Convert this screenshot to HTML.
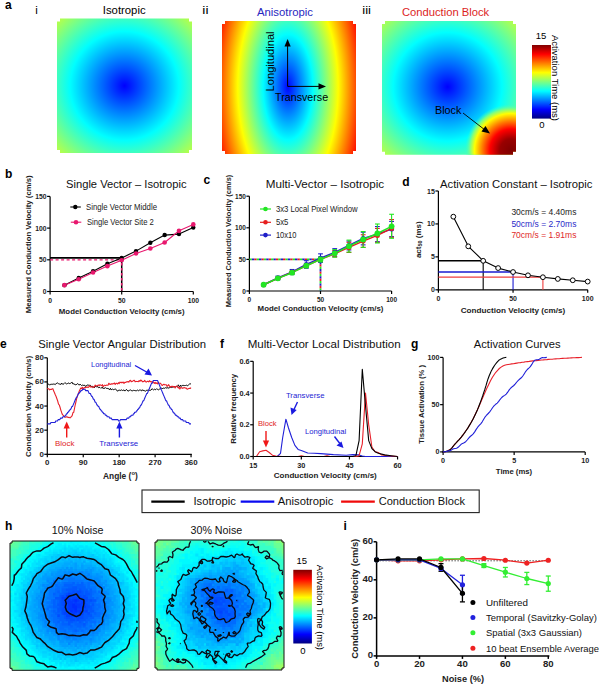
<!DOCTYPE html>
<html><head><meta charset="utf-8"><style>
html,body{margin:0;padding:0;background:#fff;overflow:hidden}
svg{display:block}
text{font-family:"Liberation Sans", sans-serif}
</style></head><body>
<svg width="599" height="685" viewBox="0 0 599 685">
<defs><radialGradient id="gi" gradientUnits="userSpaceOnUse" cx="124.5" cy="85.75" r="150"><stop offset="0.0000" stop-color="#0000ff"/><stop offset="0.3623" stop-color="#00ffff"/><stop offset="0.7246" stop-color="#ffff00"/><stop offset="1.0000" stop-color="#ff3d00"/></radialGradient><radialGradient id="gii" gradientUnits="userSpaceOnUse" cx="288" cy="87" r="101.5" gradientTransform="translate(288 87) scale(1 2.12) translate(-288 -87)"><stop offset="0.0000" stop-color="#0005ff"/><stop offset="0.2450" stop-color="#00ffff"/><stop offset="0.4950" stop-color="#ffff00"/><stop offset="0.7450" stop-color="#ff0000"/><stop offset="0.8700" stop-color="#800000"/><stop offset="1.0000" stop-color="#800000"/></radialGradient><radialGradient id="giii" gradientUnits="userSpaceOnUse" cx="447.6" cy="86.8" r="150"><stop offset="0.0000" stop-color="#0000ff"/><stop offset="0.3623" stop-color="#00ffff"/><stop offset="0.7246" stop-color="#ffff00"/><stop offset="1.0000" stop-color="#ff3d00"/></radialGradient><clipPath id="c3"><path d="M385,21 L513,21 L513,24 L516,24 L516,151.7 L513,151.7 L513,154.7 L385,154.7 L385,151.7 L382,151.7 L382,24 L385,24 Z"/></clipPath><radialGradient id="gblk" gradientUnits="userSpaceOnUse" cx="511" cy="150" r="46"><stop offset="0.0000" stop-color="#800000" stop-opacity="1"/><stop offset="0.2391" stop-color="#990000" stop-opacity="1"/><stop offset="0.4565" stop-color="#ff0000" stop-opacity="1"/><stop offset="0.6304" stop-color="#ff8000" stop-opacity="1"/><stop offset="0.7935" stop-color="#ffff00" stop-opacity="1"/><stop offset="0.8913" stop-color="#80ff80" stop-opacity="1"/><stop offset="1.0000" stop-color="#33ffcc" stop-opacity="0"/></radialGradient><linearGradient id="cbar" x1="0" y1="1" x2="0" y2="0"><stop offset="0" stop-color="#000080"/><stop offset="0.125" stop-color="#0000ff"/><stop offset="0.375" stop-color="#00ffff"/><stop offset="0.625" stop-color="#ffff00"/><stop offset="0.875" stop-color="#ff0000"/><stop offset="1" stop-color="#800000"/></linearGradient><radialGradient id="gh1" gradientUnits="userSpaceOnUse" cx="74.5" cy="605.65" r="100"><stop offset="0.0000" stop-color="#002eff"/><stop offset="0.0714" stop-color="#0040ff"/><stop offset="0.1429" stop-color="#0053ff"/><stop offset="0.2143" stop-color="#0068ff"/><stop offset="0.2857" stop-color="#007eff"/><stop offset="0.3571" stop-color="#0095ff"/><stop offset="0.4286" stop-color="#00adff"/><stop offset="0.5000" stop-color="#00c7ff"/><stop offset="0.5714" stop-color="#00e2ff"/><stop offset="0.6429" stop-color="#00feff"/><stop offset="0.7143" stop-color="#1cffe3"/><stop offset="0.7857" stop-color="#3bffc4"/><stop offset="0.8571" stop-color="#5bffa4"/><stop offset="0.9286" stop-color="#7cff83"/><stop offset="1.0000" stop-color="#9eff61"/></radialGradient><clipPath id="ch1"><path d="M12,541 L137,541 L137,543 L139,543 L139,668.3 L137,668.3 L137,670.3 L12,670.3 L12,668.3 L10,668.3 L10,543 L12,543 Z"/></clipPath><radialGradient id="gh2" gradientUnits="userSpaceOnUse" cx="219.5" cy="605" r="100"><stop offset="0.0000" stop-color="#004dff"/><stop offset="0.0714" stop-color="#005dff"/><stop offset="0.1429" stop-color="#0070ff"/><stop offset="0.2143" stop-color="#0084ff"/><stop offset="0.2857" stop-color="#0099ff"/><stop offset="0.3571" stop-color="#00b0ff"/><stop offset="0.4286" stop-color="#00c9ff"/><stop offset="0.5000" stop-color="#00e3ff"/><stop offset="0.5714" stop-color="#00ffff"/><stop offset="0.6429" stop-color="#1dffe2"/><stop offset="0.7143" stop-color="#3cffc3"/><stop offset="0.7857" stop-color="#5cffa3"/><stop offset="0.8571" stop-color="#7eff81"/><stop offset="0.9286" stop-color="#a2ff5d"/><stop offset="1.0000" stop-color="#c7ff38"/></radialGradient><clipPath id="ch2"><path d="M157,540 L282,540 L282,542 L284,542 L284,668 L282,668 L282,670 L157,670 L157,668 L155,668 L155,542 L157,542 Z"/></clipPath></defs>
<text x="5.00" y="8.50" font-size="12" text-anchor="start" fill="#000" font-weight="bold">a</text>
<text x="35.30" y="13.60" font-size="11.5" text-anchor="start" fill="#000">i</text>
<text x="102.80" y="14.20" font-size="11.5" text-anchor="start" fill="#000" textLength="42.8" lengthAdjust="spacingAndGlyphs">Isotropic</text>
<text x="202.30" y="13.60" font-size="11.5" text-anchor="start" fill="#000" textLength="6.2" lengthAdjust="spacingAndGlyphs">ii</text>
<text x="257.00" y="15.60" font-size="11.5" text-anchor="start" fill="#2828c0" textLength="56.0" lengthAdjust="spacingAndGlyphs">Anisotropic</text>
<text x="362.30" y="13.60" font-size="11.5" text-anchor="start" fill="#000" textLength="8.7" lengthAdjust="spacingAndGlyphs">iii</text>
<text x="401.90" y="15.80" font-size="11.5" text-anchor="start" fill="#dc1e1e" textLength="87.3" lengthAdjust="spacingAndGlyphs">Conduction Block</text>
<path d="M60,18.5 L189,18.5 L189,21.5 L192,21.5 L192,150 L189,150 L189,153 L60,153 L60,150 L57,150 L57,21.5 L60,21.5 Z" fill="url(#gi)"/>
<path d="M225,21 L353,21 L353,24 L356,24 L356,151 L353,151 L353,154 L225,154 L225,151 L222,151 L222,24 L225,24 Z" fill="url(#gii)"/>
<line x1="287.60" y1="86.40" x2="287.60" y2="46.00" stroke="#000" stroke-width="1"/>
<path d="M287.6,39 L284.5,46.5 L290.7,46.5 Z" fill="#000"/>
<line x1="287.60" y1="86.40" x2="319.00" y2="86.40" stroke="#000" stroke-width="1"/>
<path d="M326,86.4 L318.5,83.3 L318.5,89.5 Z" fill="#000"/>
<text x="273.60" y="91.40" font-size="10.5" text-anchor="start" fill="#000" textLength="60.0" lengthAdjust="spacingAndGlyphs" transform="rotate(-90 273.60 91.40)">Longitudinal</text>
<text x="275.10" y="101.20" font-size="10.5" text-anchor="start" fill="#000" textLength="53.0" lengthAdjust="spacingAndGlyphs">Transverse</text>
<path id="m3" d="M385,21 L513,21 L513,24 L516,24 L516,151.7 L513,151.7 L513,154.7 L385,154.7 L385,151.7 L382,151.7 L382,24 L385,24 Z" fill="url(#giii)"/>
<circle cx="511" cy="150" r="46" fill="url(#gblk)" clip-path="url(#c3)"/>
<text x="435.00" y="114.00" font-size="10.5" text-anchor="start" fill="#000" textLength="26.4" lengthAdjust="spacingAndGlyphs">Block</text>
<line x1="463.00" y1="113.00" x2="485.00" y2="130.00" stroke="#000" stroke-width="0.9"/>
<path d="M490,133.5 L481.5,131.5 L485.5,126 Z" fill="#000"/>
<rect x="532" y="45" width="19" height="73.6" fill="url(#cbar)"/>
<text x="541.00" y="38.60" font-size="9.5" text-anchor="middle" fill="#000">15</text>
<text x="542.00" y="128.20" font-size="9.5" text-anchor="middle" fill="#000">0</text>
<text x="551.50" y="35.00" font-size="9.5" text-anchor="start" fill="#000" textLength="86.0" lengthAdjust="spacingAndGlyphs" transform="rotate(90 551.50 35.00)">Activation Time (ms)</text>
<text x="5.00" y="178.40" font-size="12" text-anchor="start" fill="#000" font-weight="bold">b</text>
<text x="66.00" y="188.30" font-size="11.5" text-anchor="start" fill="#111" textLength="120.6" lengthAdjust="spacingAndGlyphs">Single Vector – Isotropic</text>
<line x1="50.10" y1="196.40" x2="50.10" y2="292.10" stroke="#000" stroke-width="1.2"/>
<line x1="49.50" y1="291.50" x2="193.30" y2="291.50" stroke="#000" stroke-width="1.2"/>
<line x1="50.10" y1="291.50" x2="50.10" y2="294.50" stroke="#000" stroke-width="1.2"/>
<text x="50.10" y="302.50" font-size="6.8" text-anchor="middle" fill="#222" font-weight="bold">0</text>
<line x1="121.70" y1="291.50" x2="121.70" y2="294.50" stroke="#000" stroke-width="1.2"/>
<text x="121.70" y="302.50" font-size="6.8" text-anchor="middle" fill="#222" font-weight="bold">50</text>
<line x1="193.30" y1="291.50" x2="193.30" y2="294.50" stroke="#000" stroke-width="1.2"/>
<text x="193.30" y="302.50" font-size="6.8" text-anchor="middle" fill="#222" font-weight="bold">100</text>
<line x1="47.10" y1="291.50" x2="50.10" y2="291.50" stroke="#000" stroke-width="1.2"/>
<text x="46.60" y="294.00" font-size="6.8" text-anchor="end" fill="#222" font-weight="bold">0</text>
<line x1="47.10" y1="259.80" x2="50.10" y2="259.80" stroke="#000" stroke-width="1.2"/>
<text x="46.60" y="262.30" font-size="6.8" text-anchor="end" fill="#222" font-weight="bold">50</text>
<line x1="47.10" y1="228.10" x2="50.10" y2="228.10" stroke="#000" stroke-width="1.2"/>
<text x="46.60" y="230.60" font-size="6.8" text-anchor="end" fill="#222" font-weight="bold">100</text>
<line x1="47.10" y1="196.40" x2="50.10" y2="196.40" stroke="#000" stroke-width="1.2"/>
<text x="46.60" y="198.90" font-size="6.8" text-anchor="end" fill="#222" font-weight="bold">150</text>
<text x="31.00" y="244.30" font-size="7.8" text-anchor="middle" fill="#222" font-weight="bold" textLength="138.0" lengthAdjust="spacingAndGlyphs" transform="rotate(-90 31.00 244.30)">Measured Conduction Velocity (cm/s)</text>
<text x="121.70" y="313.80" font-size="7.8" text-anchor="middle" fill="#222" font-weight="bold" textLength="125.8" lengthAdjust="spacingAndGlyphs">Model Conduction Velocity (cm/s)</text>
<line x1="50.10" y1="257.90" x2="121.70" y2="257.90" stroke="#000" stroke-width="1.6"/>
<line x1="50.10" y1="259.80" x2="121.70" y2="259.80" stroke="#e8186e" stroke-width="1.3" stroke-dasharray="3,2.5"/>
<line x1="121.70" y1="257.90" x2="121.70" y2="291.50" stroke="#000" stroke-width="1.5"/>
<line x1="121.70" y1="257.90" x2="121.70" y2="291.50" stroke="#e8186e" stroke-width="1.5" stroke-dasharray="2.5,2.5"/>
<path d="M64.4,285.2 L78.7,277.9 L93.1,271.2 L107.4,263.8 L121.7,257.9 L136.0,251.1 L150.3,242.7 L164.7,235.1 L179.0,234.1 L193.3,227.5" stroke="#000" stroke-width="1.1" fill="none" stroke-linejoin="round"/>
<path d="M64.4,285.2 L78.7,279.2 L93.1,272.5 L107.4,266.1 L121.7,260.2 L136.0,253.5 L150.3,248.5 L164.7,242.5 L179.0,230.8 L193.3,224.4" stroke="#e8186e" stroke-width="1.1" fill="none" stroke-linejoin="round"/>
<circle cx="64.42" cy="285.16" r="2.2" fill="#000" stroke="none" stroke-width="1"/>
<circle cx="78.74" cy="277.93" r="2.2" fill="#000" stroke="none" stroke-width="1"/>
<circle cx="93.06" cy="271.21" r="2.2" fill="#000" stroke="none" stroke-width="1"/>
<circle cx="107.38" cy="263.79" r="2.2" fill="#000" stroke="none" stroke-width="1"/>
<circle cx="121.70" cy="257.90" r="2.2" fill="#000" stroke="none" stroke-width="1"/>
<circle cx="136.02" cy="251.11" r="2.2" fill="#000" stroke="none" stroke-width="1"/>
<circle cx="150.34" cy="242.68" r="2.2" fill="#000" stroke="none" stroke-width="1"/>
<circle cx="164.66" cy="235.07" r="2.2" fill="#000" stroke="none" stroke-width="1"/>
<circle cx="178.98" cy="234.12" r="2.2" fill="#000" stroke="none" stroke-width="1"/>
<circle cx="193.30" cy="227.47" r="2.2" fill="#000" stroke="none" stroke-width="1"/>
<circle cx="64.42" cy="285.16" r="2.3" fill="#e8186e" stroke="none" stroke-width="1"/>
<circle cx="78.74" cy="279.20" r="2.3" fill="#e8186e" stroke="none" stroke-width="1"/>
<circle cx="93.06" cy="272.48" r="2.3" fill="#e8186e" stroke="none" stroke-width="1"/>
<circle cx="107.38" cy="266.14" r="2.3" fill="#e8186e" stroke="none" stroke-width="1"/>
<circle cx="121.70" cy="260.18" r="2.3" fill="#e8186e" stroke="none" stroke-width="1"/>
<circle cx="136.02" cy="253.46" r="2.3" fill="#e8186e" stroke="none" stroke-width="1"/>
<circle cx="150.34" cy="248.51" r="2.3" fill="#e8186e" stroke="none" stroke-width="1"/>
<circle cx="164.66" cy="242.49" r="2.3" fill="#e8186e" stroke="none" stroke-width="1"/>
<circle cx="178.98" cy="230.83" r="2.3" fill="#e8186e" stroke="none" stroke-width="1"/>
<circle cx="193.30" cy="224.42" r="2.3" fill="#e8186e" stroke="none" stroke-width="1"/>
<line x1="70.30" y1="207.00" x2="80.80" y2="207.00" stroke="#000" stroke-width="1.1"/>
<circle cx="75.30" cy="207.00" r="2.2" fill="#000" stroke="none" stroke-width="1"/>
<text x="86.00" y="210.20" font-size="8.6" text-anchor="start" fill="#222" textLength="71.0" lengthAdjust="spacingAndGlyphs">Single Vector Middle</text>
<line x1="70.80" y1="222.20" x2="81.30" y2="222.20" stroke="#e8186e" stroke-width="1.1"/>
<circle cx="76.00" cy="222.20" r="2.3" fill="#e8186e" stroke="none" stroke-width="1"/>
<text x="86.90" y="225.20" font-size="8.6" text-anchor="start" fill="#222" textLength="67.0" lengthAdjust="spacingAndGlyphs">Single Vector Site 2</text>
<text x="203.60" y="184.00" font-size="12" text-anchor="start" fill="#000" font-weight="bold">c</text>
<text x="265.80" y="188.30" font-size="11.5" text-anchor="start" fill="#111" textLength="118.4" lengthAdjust="spacingAndGlyphs">Multi-Vector – Isotropic</text>
<line x1="249.40" y1="196.30" x2="249.40" y2="291.60" stroke="#000" stroke-width="1.2"/>
<line x1="248.80" y1="291.00" x2="391.60" y2="291.00" stroke="#000" stroke-width="1.2"/>
<line x1="249.40" y1="291.00" x2="249.40" y2="294.00" stroke="#000" stroke-width="1.2"/>
<text x="249.40" y="302.00" font-size="6.5" text-anchor="middle" fill="#222" font-weight="bold">0</text>
<line x1="320.50" y1="291.00" x2="320.50" y2="294.00" stroke="#000" stroke-width="1.2"/>
<text x="320.50" y="302.00" font-size="6.5" text-anchor="middle" fill="#222" font-weight="bold">50</text>
<line x1="391.60" y1="291.00" x2="391.60" y2="294.00" stroke="#000" stroke-width="1.2"/>
<text x="391.60" y="302.00" font-size="6.5" text-anchor="middle" fill="#222" font-weight="bold">100</text>
<line x1="246.40" y1="291.00" x2="249.40" y2="291.00" stroke="#000" stroke-width="1.2"/>
<text x="245.90" y="293.50" font-size="6.5" text-anchor="end" fill="#222" font-weight="bold">0</text>
<line x1="246.40" y1="259.40" x2="249.40" y2="259.40" stroke="#000" stroke-width="1.2"/>
<text x="245.90" y="261.90" font-size="6.5" text-anchor="end" fill="#222" font-weight="bold">50</text>
<line x1="246.40" y1="227.80" x2="249.40" y2="227.80" stroke="#000" stroke-width="1.2"/>
<text x="245.90" y="230.30" font-size="6.5" text-anchor="end" fill="#222" font-weight="bold">100</text>
<line x1="246.40" y1="196.20" x2="249.40" y2="196.20" stroke="#000" stroke-width="1.2"/>
<text x="245.90" y="198.70" font-size="6.5" text-anchor="end" fill="#222" font-weight="bold">150</text>
<text x="230.50" y="241.00" font-size="7.8" text-anchor="middle" fill="#222" font-weight="bold" textLength="132.6" lengthAdjust="spacingAndGlyphs" transform="rotate(-90 230.50 241.00)">Measured Conduction Velocity (cm/s)</text>
<text x="320.50" y="311.20" font-size="7.8" text-anchor="middle" fill="#222" font-weight="bold" textLength="125.8" lengthAdjust="spacingAndGlyphs">Model Conduction Velocity (cm/s)</text>
<line x1="249.40" y1="259.40" x2="320.50" y2="259.40" stroke="#22e622" stroke-width="1.8" stroke-dasharray="2.4,4.8" stroke-dashoffset="0"/>
<line x1="320.50" y1="259.40" x2="320.50" y2="291.00" stroke="#22e622" stroke-width="1.8" stroke-dasharray="2.4,4.8" stroke-dashoffset="0"/>
<line x1="249.40" y1="259.40" x2="320.50" y2="259.40" stroke="#e61e1e" stroke-width="1.8" stroke-dasharray="2.4,4.8" stroke-dashoffset="2.4"/>
<line x1="320.50" y1="259.40" x2="320.50" y2="291.00" stroke="#e61e1e" stroke-width="1.8" stroke-dasharray="2.4,4.8" stroke-dashoffset="2.4"/>
<line x1="249.40" y1="259.40" x2="320.50" y2="259.40" stroke="#1e1ec8" stroke-width="1.8" stroke-dasharray="2.4,4.8" stroke-dashoffset="4.8"/>
<line x1="320.50" y1="259.40" x2="320.50" y2="291.00" stroke="#1e1ec8" stroke-width="1.8" stroke-dasharray="2.4,4.8" stroke-dashoffset="4.8"/>
<line x1="277.84" y1="279.94" x2="277.84" y2="276.15" stroke="#1e1ec8" stroke-width="1.1"/>
<line x1="275.44" y1="276.15" x2="280.24" y2="276.15" stroke="#1e1ec8" stroke-width="1.1"/>
<line x1="275.44" y1="279.94" x2="280.24" y2="279.94" stroke="#1e1ec8" stroke-width="1.1"/>
<line x1="292.06" y1="274.57" x2="292.06" y2="269.51" stroke="#1e1ec8" stroke-width="1.1"/>
<line x1="289.66" y1="269.51" x2="294.46" y2="269.51" stroke="#1e1ec8" stroke-width="1.1"/>
<line x1="289.66" y1="274.57" x2="294.46" y2="274.57" stroke="#1e1ec8" stroke-width="1.1"/>
<line x1="306.28" y1="268.25" x2="306.28" y2="260.66" stroke="#1e1ec8" stroke-width="1.1"/>
<line x1="303.88" y1="260.66" x2="308.68" y2="260.66" stroke="#1e1ec8" stroke-width="1.1"/>
<line x1="303.88" y1="268.25" x2="308.68" y2="268.25" stroke="#1e1ec8" stroke-width="1.1"/>
<line x1="320.50" y1="262.43" x2="320.50" y2="253.84" stroke="#1e1ec8" stroke-width="1.1"/>
<line x1="318.10" y1="253.84" x2="322.90" y2="253.84" stroke="#1e1ec8" stroke-width="1.1"/>
<line x1="318.10" y1="262.43" x2="322.90" y2="262.43" stroke="#1e1ec8" stroke-width="1.1"/>
<line x1="334.72" y1="256.24" x2="334.72" y2="248.66" stroke="#1e1ec8" stroke-width="1.1"/>
<line x1="332.32" y1="248.66" x2="337.12" y2="248.66" stroke="#1e1ec8" stroke-width="1.1"/>
<line x1="332.32" y1="256.24" x2="337.12" y2="256.24" stroke="#1e1ec8" stroke-width="1.1"/>
<line x1="348.94" y1="249.92" x2="348.94" y2="241.07" stroke="#1e1ec8" stroke-width="1.1"/>
<line x1="346.54" y1="241.07" x2="351.34" y2="241.07" stroke="#1e1ec8" stroke-width="1.1"/>
<line x1="346.54" y1="249.92" x2="351.34" y2="249.92" stroke="#1e1ec8" stroke-width="1.1"/>
<line x1="363.16" y1="244.86" x2="363.16" y2="232.22" stroke="#1e1ec8" stroke-width="1.1"/>
<line x1="360.76" y1="232.22" x2="365.56" y2="232.22" stroke="#1e1ec8" stroke-width="1.1"/>
<line x1="360.76" y1="244.86" x2="365.56" y2="244.86" stroke="#1e1ec8" stroke-width="1.1"/>
<line x1="377.38" y1="241.70" x2="377.38" y2="226.54" stroke="#1e1ec8" stroke-width="1.1"/>
<line x1="374.98" y1="226.54" x2="379.78" y2="226.54" stroke="#1e1ec8" stroke-width="1.1"/>
<line x1="374.98" y1="241.70" x2="379.78" y2="241.70" stroke="#1e1ec8" stroke-width="1.1"/>
<line x1="391.60" y1="236.65" x2="391.60" y2="221.48" stroke="#1e1ec8" stroke-width="1.1"/>
<line x1="389.20" y1="221.48" x2="394.00" y2="221.48" stroke="#1e1ec8" stroke-width="1.1"/>
<line x1="389.20" y1="236.65" x2="394.00" y2="236.65" stroke="#1e1ec8" stroke-width="1.1"/>
<line x1="277.84" y1="278.99" x2="277.84" y2="277.73" stroke="#e61e1e" stroke-width="1.1"/>
<line x1="275.44" y1="277.73" x2="280.24" y2="277.73" stroke="#e61e1e" stroke-width="1.1"/>
<line x1="275.44" y1="278.99" x2="280.24" y2="278.99" stroke="#e61e1e" stroke-width="1.1"/>
<line x1="292.06" y1="273.62" x2="292.06" y2="271.09" stroke="#e61e1e" stroke-width="1.1"/>
<line x1="289.66" y1="271.09" x2="294.46" y2="271.09" stroke="#e61e1e" stroke-width="1.1"/>
<line x1="289.66" y1="273.62" x2="294.46" y2="273.62" stroke="#e61e1e" stroke-width="1.1"/>
<line x1="306.28" y1="266.98" x2="306.28" y2="264.46" stroke="#e61e1e" stroke-width="1.1"/>
<line x1="303.88" y1="264.46" x2="308.68" y2="264.46" stroke="#e61e1e" stroke-width="1.1"/>
<line x1="303.88" y1="266.98" x2="308.68" y2="266.98" stroke="#e61e1e" stroke-width="1.1"/>
<line x1="320.50" y1="261.30" x2="320.50" y2="257.50" stroke="#e61e1e" stroke-width="1.1"/>
<line x1="318.10" y1="257.50" x2="322.90" y2="257.50" stroke="#e61e1e" stroke-width="1.1"/>
<line x1="318.10" y1="261.30" x2="322.90" y2="261.30" stroke="#e61e1e" stroke-width="1.1"/>
<line x1="334.72" y1="256.87" x2="334.72" y2="250.55" stroke="#e61e1e" stroke-width="1.1"/>
<line x1="332.32" y1="250.55" x2="337.12" y2="250.55" stroke="#e61e1e" stroke-width="1.1"/>
<line x1="332.32" y1="256.87" x2="337.12" y2="256.87" stroke="#e61e1e" stroke-width="1.1"/>
<line x1="348.94" y1="252.45" x2="348.94" y2="242.34" stroke="#e61e1e" stroke-width="1.1"/>
<line x1="346.54" y1="242.34" x2="351.34" y2="242.34" stroke="#e61e1e" stroke-width="1.1"/>
<line x1="346.54" y1="252.45" x2="351.34" y2="252.45" stroke="#e61e1e" stroke-width="1.1"/>
<line x1="363.16" y1="247.39" x2="363.16" y2="234.75" stroke="#e61e1e" stroke-width="1.1"/>
<line x1="360.76" y1="234.75" x2="365.56" y2="234.75" stroke="#e61e1e" stroke-width="1.1"/>
<line x1="360.76" y1="247.39" x2="365.56" y2="247.39" stroke="#e61e1e" stroke-width="1.1"/>
<line x1="377.38" y1="242.34" x2="377.38" y2="228.43" stroke="#e61e1e" stroke-width="1.1"/>
<line x1="374.98" y1="228.43" x2="379.78" y2="228.43" stroke="#e61e1e" stroke-width="1.1"/>
<line x1="374.98" y1="242.34" x2="379.78" y2="242.34" stroke="#e61e1e" stroke-width="1.1"/>
<line x1="391.60" y1="237.28" x2="391.60" y2="219.58" stroke="#e61e1e" stroke-width="1.1"/>
<line x1="389.20" y1="219.58" x2="394.00" y2="219.58" stroke="#e61e1e" stroke-width="1.1"/>
<line x1="389.20" y1="237.28" x2="394.00" y2="237.28" stroke="#e61e1e" stroke-width="1.1"/>
<line x1="277.84" y1="278.99" x2="277.84" y2="277.73" stroke="#22e622" stroke-width="1.1"/>
<line x1="275.44" y1="277.73" x2="280.24" y2="277.73" stroke="#22e622" stroke-width="1.1"/>
<line x1="275.44" y1="278.99" x2="280.24" y2="278.99" stroke="#22e622" stroke-width="1.1"/>
<line x1="292.06" y1="273.94" x2="292.06" y2="271.41" stroke="#22e622" stroke-width="1.1"/>
<line x1="289.66" y1="271.41" x2="294.46" y2="271.41" stroke="#22e622" stroke-width="1.1"/>
<line x1="289.66" y1="273.94" x2="294.46" y2="273.94" stroke="#22e622" stroke-width="1.1"/>
<line x1="306.28" y1="267.62" x2="306.28" y2="263.82" stroke="#22e622" stroke-width="1.1"/>
<line x1="303.88" y1="263.82" x2="308.68" y2="263.82" stroke="#22e622" stroke-width="1.1"/>
<line x1="303.88" y1="267.62" x2="308.68" y2="267.62" stroke="#22e622" stroke-width="1.1"/>
<line x1="320.50" y1="261.93" x2="320.50" y2="256.87" stroke="#22e622" stroke-width="1.1"/>
<line x1="318.10" y1="256.87" x2="322.90" y2="256.87" stroke="#22e622" stroke-width="1.1"/>
<line x1="318.10" y1="261.93" x2="322.90" y2="261.93" stroke="#22e622" stroke-width="1.1"/>
<line x1="334.72" y1="257.19" x2="334.72" y2="249.60" stroke="#22e622" stroke-width="1.1"/>
<line x1="332.32" y1="249.60" x2="337.12" y2="249.60" stroke="#22e622" stroke-width="1.1"/>
<line x1="332.32" y1="257.19" x2="337.12" y2="257.19" stroke="#22e622" stroke-width="1.1"/>
<line x1="348.94" y1="252.13" x2="348.94" y2="240.12" stroke="#22e622" stroke-width="1.1"/>
<line x1="346.54" y1="240.12" x2="351.34" y2="240.12" stroke="#22e622" stroke-width="1.1"/>
<line x1="346.54" y1="252.13" x2="351.34" y2="252.13" stroke="#22e622" stroke-width="1.1"/>
<line x1="363.16" y1="247.39" x2="363.16" y2="231.59" stroke="#22e622" stroke-width="1.1"/>
<line x1="360.76" y1="231.59" x2="365.56" y2="231.59" stroke="#22e622" stroke-width="1.1"/>
<line x1="360.76" y1="247.39" x2="365.56" y2="247.39" stroke="#22e622" stroke-width="1.1"/>
<line x1="377.38" y1="242.97" x2="377.38" y2="224.01" stroke="#22e622" stroke-width="1.1"/>
<line x1="374.98" y1="224.01" x2="379.78" y2="224.01" stroke="#22e622" stroke-width="1.1"/>
<line x1="374.98" y1="242.97" x2="379.78" y2="242.97" stroke="#22e622" stroke-width="1.1"/>
<line x1="391.60" y1="238.29" x2="391.60" y2="214.28" stroke="#22e622" stroke-width="1.1"/>
<line x1="389.20" y1="214.28" x2="394.00" y2="214.28" stroke="#22e622" stroke-width="1.1"/>
<line x1="389.20" y1="238.29" x2="394.00" y2="238.29" stroke="#22e622" stroke-width="1.1"/>
<path d="M263.6,284.7 L277.8,278.0 L292.1,272.0 L306.3,264.5 L320.5,258.1 L334.7,252.4 L348.9,245.5 L363.2,238.5 L377.4,234.1 L391.6,229.1" stroke="#1e1ec8" stroke-width="1.5" fill="none" stroke-linejoin="round"/>
<path d="M263.6,284.7 L277.8,278.4 L292.1,272.4 L306.3,265.7 L320.5,259.4 L334.7,253.7 L348.9,247.4 L363.2,241.1 L377.4,235.4 L391.6,228.4" stroke="#e61e1e" stroke-width="1.5" fill="none" stroke-linejoin="round"/>
<path d="M263.6,284.7 L277.8,278.4 L292.1,272.7 L306.3,265.7 L320.5,259.4 L334.7,253.4 L348.9,246.1 L363.2,239.5 L377.4,233.5 L391.6,226.3" stroke="#22e622" stroke-width="1.5" fill="none" stroke-linejoin="round"/>
<circle cx="263.62" cy="284.68" r="2.5" fill="#1e1ec8" stroke="none" stroke-width="1"/>
<circle cx="277.84" cy="278.04" r="2.5" fill="#1e1ec8" stroke="none" stroke-width="1"/>
<circle cx="292.06" cy="272.04" r="2.5" fill="#1e1ec8" stroke="none" stroke-width="1"/>
<circle cx="306.28" cy="264.46" r="2.5" fill="#1e1ec8" stroke="none" stroke-width="1"/>
<circle cx="320.50" cy="258.14" r="2.5" fill="#1e1ec8" stroke="none" stroke-width="1"/>
<circle cx="334.72" cy="252.45" r="2.5" fill="#1e1ec8" stroke="none" stroke-width="1"/>
<circle cx="348.94" cy="245.50" r="2.5" fill="#1e1ec8" stroke="none" stroke-width="1"/>
<circle cx="363.16" cy="238.54" r="2.5" fill="#1e1ec8" stroke="none" stroke-width="1"/>
<circle cx="377.38" cy="234.12" r="2.5" fill="#1e1ec8" stroke="none" stroke-width="1"/>
<circle cx="391.60" cy="229.06" r="2.5" fill="#1e1ec8" stroke="none" stroke-width="1"/>
<circle cx="263.62" cy="284.68" r="2.5" fill="#e61e1e" stroke="none" stroke-width="1"/>
<circle cx="277.84" cy="278.36" r="2.5" fill="#e61e1e" stroke="none" stroke-width="1"/>
<circle cx="292.06" cy="272.36" r="2.5" fill="#e61e1e" stroke="none" stroke-width="1"/>
<circle cx="306.28" cy="265.72" r="2.5" fill="#e61e1e" stroke="none" stroke-width="1"/>
<circle cx="320.50" cy="259.40" r="2.5" fill="#e61e1e" stroke="none" stroke-width="1"/>
<circle cx="334.72" cy="253.71" r="2.5" fill="#e61e1e" stroke="none" stroke-width="1"/>
<circle cx="348.94" cy="247.39" r="2.5" fill="#e61e1e" stroke="none" stroke-width="1"/>
<circle cx="363.16" cy="241.07" r="2.5" fill="#e61e1e" stroke="none" stroke-width="1"/>
<circle cx="377.38" cy="235.38" r="2.5" fill="#e61e1e" stroke="none" stroke-width="1"/>
<circle cx="391.60" cy="228.43" r="2.5" fill="#e61e1e" stroke="none" stroke-width="1"/>
<circle cx="263.62" cy="284.68" r="2.9" fill="#22e622" stroke="none" stroke-width="1"/>
<circle cx="277.84" cy="278.36" r="2.9" fill="#22e622" stroke="none" stroke-width="1"/>
<circle cx="292.06" cy="272.67" r="2.9" fill="#22e622" stroke="none" stroke-width="1"/>
<circle cx="306.28" cy="265.72" r="2.9" fill="#22e622" stroke="none" stroke-width="1"/>
<circle cx="320.50" cy="259.40" r="2.9" fill="#22e622" stroke="none" stroke-width="1"/>
<circle cx="334.72" cy="253.40" r="2.9" fill="#22e622" stroke="none" stroke-width="1"/>
<circle cx="348.94" cy="246.13" r="2.9" fill="#22e622" stroke="none" stroke-width="1"/>
<circle cx="363.16" cy="239.49" r="2.9" fill="#22e622" stroke="none" stroke-width="1"/>
<circle cx="377.38" cy="233.49" r="2.9" fill="#22e622" stroke="none" stroke-width="1"/>
<circle cx="391.60" cy="226.28" r="2.9" fill="#22e622" stroke="none" stroke-width="1"/>
<line x1="260.00" y1="209.00" x2="271.00" y2="209.00" stroke="#22e622" stroke-width="1.2"/>
<circle cx="265.50" cy="209.00" r="2.3" fill="#22e622" stroke="none" stroke-width="1"/>
<text x="275.90" y="212.00" font-size="8.6" text-anchor="start" fill="#222" textLength="81.7" lengthAdjust="spacingAndGlyphs">3x3 Local Pixel Window</text>
<line x1="260.00" y1="222.30" x2="271.00" y2="222.30" stroke="#e61e1e" stroke-width="1.2"/>
<circle cx="265.50" cy="222.30" r="2.3" fill="#e61e1e" stroke="none" stroke-width="1"/>
<text x="275.90" y="225.30" font-size="8.6" text-anchor="start" fill="#222" textLength="12.5" lengthAdjust="spacingAndGlyphs">5x5</text>
<line x1="260.00" y1="235.10" x2="271.00" y2="235.10" stroke="#1e1ec8" stroke-width="1.2"/>
<circle cx="265.50" cy="235.10" r="2.3" fill="#1e1ec8" stroke="none" stroke-width="1"/>
<text x="275.90" y="238.10" font-size="8.6" text-anchor="start" fill="#222" textLength="20.5" lengthAdjust="spacingAndGlyphs">10x10</text>
<text x="402.20" y="186.00" font-size="12" text-anchor="start" fill="#000" font-weight="bold">d</text>
<text x="440.00" y="188.30" font-size="11.5" text-anchor="start" fill="#111" textLength="152.5" lengthAdjust="spacingAndGlyphs">Activation Constant – Isotropic</text>
<line x1="438.40" y1="191.00" x2="438.40" y2="290.40" stroke="#000" stroke-width="1.2"/>
<line x1="437.80" y1="289.80" x2="587.70" y2="289.80" stroke="#000" stroke-width="1.2"/>
<line x1="438.40" y1="289.80" x2="438.40" y2="292.80" stroke="#000" stroke-width="1.2"/>
<text x="438.40" y="300.80" font-size="7" text-anchor="middle" fill="#222" font-weight="bold">0</text>
<line x1="513.05" y1="289.80" x2="513.05" y2="292.80" stroke="#000" stroke-width="1.2"/>
<text x="513.05" y="300.80" font-size="7" text-anchor="middle" fill="#222" font-weight="bold">50</text>
<line x1="587.70" y1="289.80" x2="587.70" y2="292.80" stroke="#000" stroke-width="1.2"/>
<text x="587.70" y="300.80" font-size="7" text-anchor="middle" fill="#222" font-weight="bold">100</text>
<line x1="435.40" y1="289.80" x2="438.40" y2="289.80" stroke="#000" stroke-width="1.2"/>
<text x="434.90" y="292.30" font-size="7" text-anchor="end" fill="#222" font-weight="bold">0</text>
<line x1="435.40" y1="256.87" x2="438.40" y2="256.87" stroke="#000" stroke-width="1.2"/>
<text x="434.90" y="259.37" font-size="7" text-anchor="end" fill="#222" font-weight="bold">5</text>
<line x1="435.40" y1="223.93" x2="438.40" y2="223.93" stroke="#000" stroke-width="1.2"/>
<text x="434.90" y="226.43" font-size="7" text-anchor="end" fill="#222" font-weight="bold">10</text>
<line x1="435.40" y1="191.00" x2="438.40" y2="191.00" stroke="#000" stroke-width="1.2"/>
<text x="434.90" y="193.50" font-size="7" text-anchor="end" fill="#222" font-weight="bold">15</text>
<text x="421" y="239.7" font-size="8" font-weight="bold" fill="#222" text-anchor="middle" transform="rotate(-90 421 239.7)">act<tspan font-size="5.5" dy="1.5">50</tspan><tspan dy="-1.5"> (ms)</tspan></text>
<text x="513.00" y="312.60" font-size="7.8" text-anchor="middle" fill="#222" font-weight="bold" textLength="104.6" lengthAdjust="spacingAndGlyphs">Conduction Velocity (cm/s)</text>
<text x="511.40" y="215.40" font-size="9.5" text-anchor="start" fill="#222" textLength="65.0" lengthAdjust="spacingAndGlyphs">30cm/s = 4.40ms</text>
<text x="511.40" y="226.50" font-size="9.5" text-anchor="start" fill="#2a2ac8" textLength="65.0" lengthAdjust="spacingAndGlyphs">50cm/s = 2.70ms</text>
<text x="511.40" y="237.80" font-size="9.5" text-anchor="start" fill="#e02828" textLength="65.0" lengthAdjust="spacingAndGlyphs">70cm/s = 1.91ms</text>
<line x1="438.40" y1="260.82" x2="483.19" y2="260.82" stroke="#000" stroke-width="1.6"/>
<line x1="483.19" y1="260.82" x2="483.19" y2="289.80" stroke="#000" stroke-width="1.1"/>
<line x1="438.40" y1="272.02" x2="513.05" y2="272.02" stroke="#1a1ad0" stroke-width="1.3"/>
<line x1="513.05" y1="272.02" x2="513.05" y2="289.80" stroke="#1a1ad0" stroke-width="1.1"/>
<line x1="438.40" y1="277.22" x2="542.91" y2="277.22" stroke="#f03c3c" stroke-width="1.3"/>
<line x1="542.91" y1="277.22" x2="542.91" y2="289.80" stroke="#f03c3c" stroke-width="1.1"/>
<path d="M453.3,216.7 L468.3,246.3 L483.2,260.8 L498.1,268.1 L513.0,272.0 L528.0,275.3 L542.9,277.2 L557.8,278.9 L572.8,280.2 L587.7,281.6" stroke="#000" stroke-width="1.1" fill="none" stroke-linejoin="round"/>
<circle cx="453.33" cy="216.68" r="2.4" fill="#fff" stroke="#000" stroke-width="1"/>
<circle cx="468.26" cy="246.33" r="2.4" fill="#fff" stroke="#000" stroke-width="1"/>
<circle cx="483.19" cy="260.82" r="2.4" fill="#fff" stroke="#000" stroke-width="1"/>
<circle cx="498.12" cy="268.06" r="2.4" fill="#fff" stroke="#000" stroke-width="1"/>
<circle cx="513.05" cy="272.02" r="2.4" fill="#fff" stroke="#000" stroke-width="1"/>
<circle cx="527.98" cy="275.31" r="2.4" fill="#fff" stroke="#000" stroke-width="1"/>
<circle cx="542.91" cy="277.22" r="2.4" fill="#fff" stroke="#000" stroke-width="1"/>
<circle cx="557.84" cy="278.93" r="2.4" fill="#fff" stroke="#000" stroke-width="1"/>
<circle cx="572.77" cy="280.25" r="2.4" fill="#fff" stroke="#000" stroke-width="1"/>
<circle cx="587.70" cy="281.57" r="2.4" fill="#fff" stroke="#000" stroke-width="1"/>
<text x="0.00" y="348.00" font-size="12" text-anchor="start" fill="#000" font-weight="bold">e</text>
<text x="38.30" y="347.80" font-size="11.5" text-anchor="start" fill="#111" textLength="167.7" lengthAdjust="spacingAndGlyphs">Single Vector Angular Distribution</text>
<line x1="47.30" y1="357.80" x2="47.30" y2="454.90" stroke="#000" stroke-width="1.2"/>
<line x1="46.70" y1="454.30" x2="191.80" y2="454.30" stroke="#000" stroke-width="1.2"/>
<line x1="47.30" y1="454.30" x2="47.30" y2="457.30" stroke="#000" stroke-width="1.2"/>
<text x="47.30" y="465.30" font-size="7.9" text-anchor="middle" fill="#222" font-weight="bold">0</text>
<line x1="83.24" y1="454.30" x2="83.24" y2="457.30" stroke="#000" stroke-width="1.2"/>
<text x="83.24" y="465.30" font-size="7.9" text-anchor="middle" fill="#222" font-weight="bold">90</text>
<line x1="119.17" y1="454.30" x2="119.17" y2="457.30" stroke="#000" stroke-width="1.2"/>
<text x="119.17" y="465.30" font-size="7.9" text-anchor="middle" fill="#222" font-weight="bold">180</text>
<line x1="155.11" y1="454.30" x2="155.11" y2="457.30" stroke="#000" stroke-width="1.2"/>
<text x="155.11" y="465.30" font-size="7.9" text-anchor="middle" fill="#222" font-weight="bold">270</text>
<line x1="191.05" y1="454.30" x2="191.05" y2="457.30" stroke="#000" stroke-width="1.2"/>
<text x="191.05" y="465.30" font-size="7.9" text-anchor="middle" fill="#222" font-weight="bold">360</text>
<line x1="44.30" y1="454.30" x2="47.30" y2="454.30" stroke="#000" stroke-width="1.2"/>
<text x="43.80" y="456.80" font-size="7.9" text-anchor="end" fill="#222" font-weight="bold">0</text>
<line x1="44.30" y1="430.17" x2="47.30" y2="430.17" stroke="#000" stroke-width="1.2"/>
<text x="43.80" y="432.67" font-size="7.9" text-anchor="end" fill="#222" font-weight="bold">20</text>
<line x1="44.30" y1="406.05" x2="47.30" y2="406.05" stroke="#000" stroke-width="1.2"/>
<text x="43.80" y="408.55" font-size="7.9" text-anchor="end" fill="#222" font-weight="bold">40</text>
<line x1="44.30" y1="381.92" x2="47.30" y2="381.92" stroke="#000" stroke-width="1.2"/>
<text x="43.80" y="384.42" font-size="7.9" text-anchor="end" fill="#222" font-weight="bold">60</text>
<line x1="44.30" y1="357.80" x2="47.30" y2="357.80" stroke="#000" stroke-width="1.2"/>
<text x="43.80" y="360.30" font-size="7.9" text-anchor="end" fill="#222" font-weight="bold">80</text>
<text x="31.00" y="406.40" font-size="7.8" text-anchor="middle" fill="#222" font-weight="bold" textLength="101.0" lengthAdjust="spacingAndGlyphs" transform="rotate(-90 31.00 406.40)">Conduction Velocity (cm/s)</text>
<text x="103" y="478.6" font-size="8.4" font-weight="bold" fill="#222">Angle (<tspan font-size="5.8" dy="-3.2">o</tspan><tspan dy="3.2">)</tspan></text>
<path d="M47.3,383.4 L48.1,384.1 L48.9,384.2 L49.7,385.2 L50.5,384.3 L51.3,384.3 L52.1,384.1 L52.9,384.4 L53.7,384.0 L54.5,384.2 L55.3,384.6 L56.1,383.4 L56.9,383.4 L57.7,382.9 L58.5,383.7 L59.3,384.0 L60.1,384.0 L60.9,384.5 L61.7,383.1 L62.5,384.2 L63.3,384.2 L64.1,383.6 L64.9,382.6 L65.7,383.3 L66.5,383.9 L67.3,383.7 L68.1,382.9 L68.9,383.3 L69.7,383.6 L70.5,383.3 L71.3,382.7 L72.1,382.2 L72.9,384.0 L73.7,383.8 L74.5,384.0 L75.3,385.0 L76.0,384.4 L76.8,384.5 L77.6,383.5 L78.4,384.3 L79.2,385.2 L80.0,384.1 L80.8,384.8 L81.6,385.6 L82.4,385.1 L83.2,385.3 L84.0,385.5 L84.8,385.2 L85.6,386.5 L86.4,385.6 L87.2,385.0 L88.0,385.2 L88.8,385.2 L89.6,385.3 L90.4,385.3 L91.2,386.8 L92.0,385.9 L92.8,387.5 L93.6,386.9 L94.4,387.8 L95.2,386.3 L96.0,386.2 L96.8,387.2 L97.6,386.3 L98.4,387.7 L99.2,387.4 L100.0,387.5 L100.8,388.3 L101.6,387.6 L102.4,387.0 L103.2,388.7 L104.0,387.8 L104.8,388.5 L105.6,387.6 L106.4,388.4 L107.2,388.4 L108.0,388.5 L108.8,388.8 L109.6,389.8 L110.4,388.3 L111.2,389.9 L112.0,389.1 L112.8,389.0 L113.6,389.8 L114.4,389.4 L115.2,388.9 L116.0,389.6 L116.8,390.1 L117.6,391.3 L118.4,390.3 L119.2,390.2 L120.0,390.2 L120.8,390.5 L121.6,389.9 L122.4,390.5 L123.2,390.3 L124.0,389.9 L124.8,390.9 L125.6,390.6 L126.4,389.4 L127.2,390.1 L128.0,391.3 L128.8,390.6 L129.6,390.3 L130.4,389.9 L131.2,390.5 L132.0,390.8 L132.8,390.9 L133.5,390.2 L134.3,390.4 L135.1,390.8 L135.9,390.6 L136.7,390.7 L137.5,390.1 L138.3,390.8 L139.1,390.2 L139.9,390.0 L140.7,390.2 L141.5,390.9 L142.3,389.7 L143.1,390.8 L143.9,390.2 L144.7,390.8 L145.5,391.3 L146.3,390.3 L147.1,390.2 L147.9,390.3 L148.7,390.0 L149.5,390.4 L150.3,390.4 L151.1,390.0 L151.9,388.8 L152.7,389.2 L153.5,389.9 L154.3,389.2 L155.1,389.7 L155.9,389.6 L156.7,388.7 L157.5,389.4 L158.3,389.9 L159.1,389.4 L159.9,388.8 L160.7,388.7 L161.5,388.0 L162.3,388.9 L163.1,388.0 L163.9,388.1 L164.7,388.3 L165.5,387.7 L166.3,387.8 L167.1,388.4 L167.9,387.3 L168.7,388.4 L169.5,387.6 L170.3,387.5 L171.1,387.1 L171.9,387.6 L172.7,387.1 L173.5,387.1 L174.3,386.3 L175.1,387.2 L175.9,386.6 L176.7,386.6 L177.5,387.1 L178.3,384.8 L179.1,386.2 L179.9,386.8 L180.7,385.1 L181.5,386.4 L182.3,385.5 L183.1,385.1 L183.9,385.8 L184.7,385.5 L185.5,385.5 L186.3,385.1 L187.1,385.8 L187.9,385.5 L188.7,384.8 L189.5,384.0 L190.2,384.1 L191.0,383.4" stroke="#000" stroke-width="1" fill="none" stroke-linejoin="round"/>
<path d="M47.3,388.2 L48.1,388.9 L48.9,388.8 L49.7,389.9 L50.5,389.4 L51.3,389.5 L52.1,388.9 L52.9,388.8 L53.7,391.1 L54.5,392.7 L55.3,394.8 L56.1,396.5 L56.9,398.7 L57.7,401.0 L58.5,404.1 L59.3,405.0 L60.1,407.5 L60.9,410.3 L61.7,412.7 L62.5,414.7 L63.3,415.4 L64.1,416.5 L64.9,417.2 L65.7,417.1 L66.5,416.8 L67.3,416.9 L68.1,417.6 L68.9,417.3 L69.7,417.7 L70.5,417.8 L71.3,416.5 L72.1,415.9 L72.9,412.8 L73.7,412.3 L74.5,408.5 L75.3,404.5 L76.0,401.6 L76.8,397.9 L77.6,395.5 L78.4,393.6 L79.2,391.3 L80.0,389.5 L80.8,388.0 L81.6,388.6 L82.4,387.3 L83.2,389.4 L84.0,387.8 L84.8,387.4 L85.6,387.8 L86.4,387.0 L87.2,387.1 L88.0,387.5 L88.8,387.0 L89.6,385.6 L90.4,386.9 L91.2,386.8 L92.0,387.1 L92.8,386.7 L93.6,387.3 L94.4,386.7 L95.2,385.1 L96.0,385.8 L96.8,385.9 L97.6,385.5 L98.4,385.0 L99.2,385.6 L100.0,384.7 L100.8,385.2 L101.6,385.6 L102.4,384.6 L103.2,386.7 L104.0,385.6 L104.8,385.1 L105.6,385.6 L106.4,385.1 L107.2,385.3 L108.0,385.2 L108.8,383.2 L109.6,384.2 L110.4,384.5 L111.2,383.6 L112.0,384.3 L112.8,383.6 L113.6,383.8 L114.4,383.0 L115.2,384.5 L116.0,383.2 L116.8,383.4 L117.6,384.0 L118.4,382.7 L119.2,383.6 L120.0,382.1 L120.8,382.6 L121.6,382.4 L122.4,382.6 L123.2,382.0 L124.0,383.4 L124.8,382.2 L125.6,382.5 L126.4,381.9 L127.2,381.9 L128.0,381.5 L128.8,382.2 L129.6,380.7 L130.4,380.3 L131.2,381.6 L132.0,381.4 L132.8,381.2 L133.5,380.6 L134.3,380.2 L135.1,381.8 L135.9,381.4 L136.7,381.5 L137.5,381.5 L138.3,381.7 L139.1,380.5 L139.9,381.4 L140.7,380.0 L141.5,380.4 L142.3,381.6 L143.1,381.6 L143.9,381.5 L144.7,380.4 L145.5,381.7 L146.3,382.1 L147.1,381.4 L147.9,381.3 L148.7,381.9 L149.5,380.7 L150.3,381.6 L151.1,381.5 L151.9,382.3 L152.7,381.9 L153.5,382.1 L154.3,383.5 L155.1,382.3 L155.9,383.6 L156.7,382.9 L157.5,383.9 L158.3,382.2 L159.1,383.3 L159.9,383.2 L160.7,383.4 L161.5,384.8 L162.3,385.5 L163.1,384.7 L163.9,384.2 L164.7,384.9 L165.5,384.7 L166.3,384.8 L167.1,386.4 L167.9,385.5 L168.7,384.7 L169.5,386.2 L170.3,387.1 L171.1,386.3 L171.9,386.5 L172.7,386.2 L173.5,387.0 L174.3,386.6 L175.1,388.0 L175.9,386.4 L176.7,386.1 L177.5,386.4 L178.3,388.1 L179.1,387.2 L179.9,389.1 L180.7,387.4 L181.5,387.7 L182.3,388.4 L183.1,387.8 L183.9,387.9 L184.7,387.6 L185.5,388.1 L186.3,388.1 L187.1,389.3 L187.9,388.9 L188.7,388.6 L189.5,388.3 L190.2,388.5 L191.0,387.7" stroke="#e8202a" stroke-width="1.1" fill="none" stroke-linejoin="round"/>
<path d="M47.3,423.9 L47.9,423.9 L48.5,423.9 L49.1,423.9 L49.7,423.9 L50.3,423.9 L50.9,422.5 L51.5,422.5 L52.1,422.5 L52.7,422.5 L53.3,422.5 L53.9,422.5 L54.5,422.5 L55.1,422.5 L55.7,421.0 L56.3,421.0 L56.9,421.0 L57.5,421.0 L58.1,419.6 L58.7,419.6 L59.3,419.6 L59.9,419.6 L60.5,418.1 L61.1,418.1 L61.7,418.1 L62.3,418.1 L62.9,416.7 L63.5,416.7 L64.1,416.7 L64.7,416.7 L65.3,415.2 L65.9,415.2 L66.5,413.8 L67.1,413.8 L67.7,412.3 L68.3,412.3 L68.9,410.9 L69.5,410.9 L70.1,409.4 L70.7,409.4 L71.3,408.0 L71.9,406.5 L72.5,406.5 L73.1,405.1 L73.7,403.6 L74.3,402.2 L74.9,400.7 L75.5,399.3 L76.0,397.8 L76.6,397.8 L77.2,396.4 L77.8,395.0 L78.4,393.5 L79.0,393.5 L79.6,392.1 L80.2,392.1 L80.8,390.6 L81.4,390.6 L82.0,390.6 L82.6,389.2 L83.2,389.2 L83.8,389.2 L84.4,389.2 L85.0,389.2 L85.6,390.6 L86.2,390.6 L86.8,390.6 L87.4,390.6 L88.0,390.6 L88.6,392.1 L89.2,393.5 L89.8,393.5 L90.4,393.5 L91.0,395.0 L91.6,396.4 L92.2,396.4 L92.8,397.8 L93.4,399.3 L94.0,399.3 L94.6,400.7 L95.2,402.2 L95.8,402.2 L96.4,403.6 L97.0,405.1 L97.6,405.1 L98.2,406.5 L98.8,406.5 L99.4,408.0 L100.0,409.4 L100.6,409.4 L101.2,410.9 L101.8,410.9 L102.4,412.3 L103.0,412.3 L103.6,413.8 L104.2,413.8 L104.8,413.8 L105.4,415.2 L106.0,415.2 L106.6,415.2 L107.2,416.7 L107.8,416.7 L108.4,416.7 L109.0,416.7 L109.6,418.1 L110.2,418.1 L110.8,418.1 L111.4,418.1 L112.0,419.6 L112.6,419.6 L113.2,419.6 L113.8,419.6 L114.4,419.6 L115.0,419.6 L115.6,419.6 L116.2,419.6 L116.8,419.6 L117.4,419.6 L118.0,419.6 L118.6,421.0 L119.2,421.0 L119.8,421.0 L120.4,419.6 L121.0,419.6 L121.6,419.6 L122.2,419.6 L122.8,419.6 L123.4,419.6 L124.0,419.6 L124.6,419.6 L125.2,419.6 L125.8,419.6 L126.4,419.6 L127.0,418.1 L127.6,418.1 L128.2,418.1 L128.8,418.1 L129.4,416.7 L130.0,416.7 L130.6,416.7 L131.2,415.2 L131.8,415.2 L132.4,415.2 L132.9,415.2 L133.5,413.8 L134.1,413.8 L134.7,412.3 L135.3,412.3 L135.9,412.3 L136.5,410.9 L137.1,410.9 L137.7,409.4 L138.3,409.4 L138.9,408.0 L139.5,408.0 L140.1,406.5 L140.7,405.1 L141.3,405.1 L141.9,403.6 L142.5,402.2 L143.1,400.7 L143.7,400.7 L144.3,399.3 L144.9,397.8 L145.5,396.4 L146.1,395.0 L146.7,393.5 L147.3,393.5 L147.9,392.1 L148.5,390.6 L149.1,389.2 L149.7,387.7 L150.3,386.3 L150.9,384.8 L151.5,383.4 L152.1,383.4 L152.7,381.9 L153.3,380.5 L153.9,380.5 L154.5,380.5 L155.1,380.5 L155.7,380.5 L156.3,380.5 L156.9,380.5 L157.5,380.5 L158.1,381.9 L158.7,383.4 L159.3,384.8 L159.9,386.3 L160.5,387.7 L161.1,389.2 L161.7,390.6 L162.3,392.1 L162.9,393.5 L163.5,395.0 L164.1,396.4 L164.7,397.8 L165.3,399.3 L165.9,400.7 L166.5,400.7 L167.1,402.2 L167.7,403.6 L168.3,405.1 L168.9,405.1 L169.5,406.5 L170.1,408.0 L170.7,408.0 L171.3,409.4 L171.9,409.4 L172.5,410.9 L173.1,412.3 L173.7,412.3 L174.3,413.8 L174.9,413.8 L175.5,415.2 L176.1,415.2 L176.7,415.2 L177.3,416.7 L177.9,416.7 L178.5,416.7 L179.1,418.1 L179.7,418.1 L180.3,418.1 L180.9,419.6 L181.5,419.6 L182.1,419.6 L182.7,419.6 L183.3,421.0 L183.9,421.0 L184.5,421.0 L185.1,421.0 L185.7,421.0 L186.3,422.5 L186.9,422.5 L187.5,422.5 L188.1,422.5 L188.7,422.5 L189.3,423.9 L189.9,423.9 L190.4,423.9 L191.0,423.9" stroke="#2020d8" stroke-width="1.1" fill="none" stroke-linejoin="round"/>
<text x="91.00" y="367.20" font-size="8" text-anchor="start" fill="#2424d4" textLength="40.2" lengthAdjust="spacingAndGlyphs">Longitudinal</text>
<line x1="135.00" y1="365.50" x2="147.50" y2="372.50" stroke="#1a1ae0" stroke-width="1.4"/>
<path d="M152,375.5 L144.5,374.5 L148.5,368.5 Z" fill="#1a1ae0"/>
<text x="99.20" y="445.60" font-size="8" text-anchor="start" fill="#2424d4" textLength="39.0" lengthAdjust="spacingAndGlyphs">Transverse</text>
<line x1="119.40" y1="437.50" x2="119.40" y2="428.00" stroke="#1a1ae0" stroke-width="1.4"/>
<path d="M119.4,421.5 L116.3,428.5 L122.5,428.5 Z" fill="#1a1ae0"/>
<text x="55.00" y="445.60" font-size="8" text-anchor="start" fill="#e01e1e" textLength="19.4" lengthAdjust="spacingAndGlyphs">Block</text>
<line x1="66.70" y1="437.50" x2="66.70" y2="428.00" stroke="#f01818" stroke-width="1.4"/>
<path d="M66.7,421.5 L63.6,428.5 L69.8,428.5 Z" fill="#f01818"/>
<text x="220.00" y="348.00" font-size="12" text-anchor="start" fill="#000" font-weight="bold">f</text>
<text x="247.70" y="347.80" font-size="11.5" text-anchor="start" fill="#111" textLength="152.9" lengthAdjust="spacingAndGlyphs">Multi-Vector Local Distribution</text>
<line x1="253.20" y1="361.30" x2="253.20" y2="457.10" stroke="#000" stroke-width="1.2"/>
<line x1="252.60" y1="456.50" x2="397.50" y2="456.50" stroke="#000" stroke-width="1.2"/>
<line x1="253.20" y1="456.50" x2="253.20" y2="459.50" stroke="#000" stroke-width="1.2"/>
<text x="253.20" y="467.50" font-size="7.3" text-anchor="middle" fill="#222" font-weight="bold">15</text>
<line x1="301.32" y1="456.50" x2="301.32" y2="459.50" stroke="#000" stroke-width="1.2"/>
<text x="301.32" y="467.50" font-size="7.3" text-anchor="middle" fill="#222" font-weight="bold">30</text>
<line x1="349.44" y1="456.50" x2="349.44" y2="459.50" stroke="#000" stroke-width="1.2"/>
<text x="349.44" y="467.50" font-size="7.3" text-anchor="middle" fill="#222" font-weight="bold">45</text>
<line x1="397.56" y1="456.50" x2="397.56" y2="459.50" stroke="#000" stroke-width="1.2"/>
<text x="397.56" y="467.50" font-size="7.3" text-anchor="middle" fill="#222" font-weight="bold">60</text>
<line x1="250.20" y1="456.50" x2="253.20" y2="456.50" stroke="#000" stroke-width="1.2"/>
<text x="249.70" y="459.00" font-size="7.3" text-anchor="end" fill="#222" font-weight="bold">0.0</text>
<line x1="250.20" y1="424.78" x2="253.20" y2="424.78" stroke="#000" stroke-width="1.2"/>
<text x="249.70" y="427.28" font-size="7.3" text-anchor="end" fill="#222" font-weight="bold">0.2</text>
<line x1="250.20" y1="393.06" x2="253.20" y2="393.06" stroke="#000" stroke-width="1.2"/>
<text x="249.70" y="395.56" font-size="7.3" text-anchor="end" fill="#222" font-weight="bold">0.4</text>
<line x1="250.20" y1="361.34" x2="253.20" y2="361.34" stroke="#000" stroke-width="1.2"/>
<text x="249.70" y="363.84" font-size="7.3" text-anchor="end" fill="#222" font-weight="bold">0.6</text>
<text x="235.80" y="408.80" font-size="7.8" text-anchor="middle" fill="#222" font-weight="bold" textLength="70.0" lengthAdjust="spacingAndGlyphs" transform="rotate(-90 235.80 408.80)">Relative frequency</text>
<text x="325.30" y="477.60" font-size="7.8" text-anchor="middle" fill="#222" font-weight="bold" textLength="103.0" lengthAdjust="spacingAndGlyphs">Conduction Velocity (cm/s)</text>
<path d="M253.2,456.5 L277.3,456.5 L280.5,453.3 L282.7,437.5 L285.9,419.2 L288.5,428.0 L291.7,437.5 L294.9,445.4 L298.1,449.4 L301.3,450.5 L304.5,451.7 L307.7,453.0 L314.2,453.3 L320.6,453.6 L333.4,454.6 L346.2,455.2 L352.6,454.6 L359.1,454.9 L362.3,456.0 L365.5,456.5 L397.6,456.5" stroke="#2020d8" stroke-width="1.1" fill="none" stroke-linejoin="round"/>
<path d="M253.2,456.5 L256.4,456.5 L259.6,451.7 L262.8,450.9 L266.0,450.2 L269.2,452.5 L272.4,455.2 L275.7,456.0 L282.1,456.5 L298.1,456.5 L301.3,455.7 L304.5,456.5 L323.8,456.5 L327.0,455.7 L330.2,456.5 L355.9,456.5 L359.1,455.7 L362.3,443.8 L365.5,393.1 L368.7,424.8 L371.9,447.0 L375.1,451.7 L378.3,452.5 L381.5,454.9 L387.9,455.7 L397.6,456.5" stroke="#e8202a" stroke-width="1.1" fill="none" stroke-linejoin="round"/>
<path d="M253.2,456.5 L352.6,456.5 L355.9,455.7 L359.1,440.6 L362.3,369.3 L365.5,405.7 L368.7,440.6 L371.9,448.6 L375.1,451.7 L378.3,453.3 L384.7,454.9 L391.1,455.7 L397.6,456.5" stroke="#000" stroke-width="1.1" fill="none" stroke-linejoin="round"/>
<text x="285.90" y="397.80" font-size="8" text-anchor="start" fill="#2424d4" textLength="38.6" lengthAdjust="spacingAndGlyphs">Transverse</text>
<line x1="297.50" y1="402.00" x2="293.50" y2="410.50" stroke="#1a1ae0" stroke-width="1.4"/>
<path d="M291.5,415 L290.5,407.5 L296.7,410 Z" fill="#1a1ae0"/>
<text x="304.90" y="434.00" font-size="8" text-anchor="start" fill="#2424d4" textLength="41.4" lengthAdjust="spacingAndGlyphs">Longitudinal</text>
<line x1="334.50" y1="436.50" x2="339.80" y2="443.50" stroke="#1a1ae0" stroke-width="1.4"/>
<path d="M343.5,448 L336.5,445.5 L341.5,441.5 Z" fill="#1a1ae0"/>
<text x="258.00" y="425.80" font-size="8" text-anchor="start" fill="#e01e1e" textLength="18.6" lengthAdjust="spacingAndGlyphs">Block</text>
<line x1="266.00" y1="431.00" x2="266.00" y2="441.00" stroke="#f01818" stroke-width="1.4"/>
<path d="M266,447.5 L262.9,440.5 L269.1,440.5 Z" fill="#f01818"/>
<text x="411.00" y="348.00" font-size="12" text-anchor="start" fill="#000" font-weight="bold">g</text>
<text x="473.80" y="347.80" font-size="11.5" text-anchor="start" fill="#111" textLength="86.8" lengthAdjust="spacingAndGlyphs">Activation Curves</text>
<line x1="443.10" y1="357.40" x2="443.10" y2="452.50" stroke="#000" stroke-width="1.2"/>
<line x1="442.50" y1="451.90" x2="585.20" y2="451.90" stroke="#000" stroke-width="1.2"/>
<line x1="443.10" y1="451.90" x2="443.10" y2="454.90" stroke="#000" stroke-width="1.2"/>
<text x="443.10" y="462.90" font-size="7.2" text-anchor="middle" fill="#222" font-weight="bold">0</text>
<line x1="514.15" y1="451.90" x2="514.15" y2="454.90" stroke="#000" stroke-width="1.2"/>
<text x="514.15" y="462.90" font-size="7.2" text-anchor="middle" fill="#222" font-weight="bold">5</text>
<line x1="585.20" y1="451.90" x2="585.20" y2="454.90" stroke="#000" stroke-width="1.2"/>
<text x="585.20" y="462.90" font-size="7.2" text-anchor="middle" fill="#222" font-weight="bold">10</text>
<line x1="440.10" y1="451.90" x2="443.10" y2="451.90" stroke="#000" stroke-width="1.2"/>
<text x="439.60" y="454.40" font-size="7.2" text-anchor="end" fill="#222" font-weight="bold">0</text>
<line x1="440.10" y1="404.65" x2="443.10" y2="404.65" stroke="#000" stroke-width="1.2"/>
<text x="439.60" y="407.15" font-size="7.2" text-anchor="end" fill="#222" font-weight="bold">50</text>
<line x1="440.10" y1="357.40" x2="443.10" y2="357.40" stroke="#000" stroke-width="1.2"/>
<text x="439.60" y="359.90" font-size="7.2" text-anchor="end" fill="#222" font-weight="bold">100</text>
<text x="424.00" y="404.40" font-size="7.8" text-anchor="middle" fill="#222" font-weight="bold" textLength="78.8" lengthAdjust="spacingAndGlyphs" transform="rotate(-90 424.00 404.40)">Tissue Activation (% )</text>
<text x="514.00" y="474.20" font-size="7.8" text-anchor="middle" fill="#222" font-weight="bold" textLength="36.4" lengthAdjust="spacingAndGlyphs">Time (ms)</text>
<path d="M443.1,451.9 L444.9,451.7 L446.6,451.2 L448.4,450.5 L450.1,449.6 L451.9,448.0 L453.6,445.7 L455.4,443.6 L457.2,441.7 L458.9,439.9 L460.7,437.9 L462.4,435.7 L464.2,433.3 L465.9,430.8 L467.7,428.2 L469.5,425.3 L471.2,422.3 L473.0,419.0 L474.7,415.5 L476.5,411.8 L478.2,408.0 L480.0,404.0 L481.8,399.8 L483.5,395.7 L485.3,391.8 L487.0,387.9 L488.8,384.3 L490.5,380.8 L492.3,377.5 L494.1,374.7 L495.8,372.3 L497.6,370.3 L499.3,368.5 L501.1,367.1 L502.9,366.0 L504.6,365.3 L506.4,364.8 L508.1,364.5 L509.9,364.2 L511.6,363.9 L513.4,363.7 L515.2,363.4 L516.9,363.1 L518.7,362.8 L520.4,362.6 L522.2,362.3 L523.9,362.1 L525.7,361.8 L527.5,361.6 L529.2,361.4 L531.0,361.1 L532.7,360.9 L534.5,360.7 L536.2,360.6 L538.0,360.4 L539.8,360.2 L541.5,360.0 L543.3,359.9 L545.0,359.7 L546.8,359.6 L548.5,359.4 L550.3,359.3 L552.1,359.2 L553.8,359.0 L555.6,358.9 L557.3,358.8 L559.1,358.7 L560.8,358.5 L562.6,358.4 L564.4,358.3 L566.1,358.2 L567.9,358.1 L569.6,358.0 L571.4,357.9 L573.1,357.8 L574.9,357.7 L576.7,357.6 L578.4,357.6 L580.2,357.5 L581.9,357.4" stroke="#e8202a" stroke-width="1.1" fill="none" stroke-linejoin="round"/>
<path d="M443.1,451.9 L444.2,451.8 L445.2,451.6 L446.3,451.3 L447.4,450.9 L448.5,450.4 L449.5,449.9 L450.6,449.3 L451.7,448.3 L452.7,446.9 L453.8,445.5 L454.9,444.2 L456.0,443.0 L457.0,441.9 L458.1,440.7 L459.2,439.6 L460.2,438.4 L461.3,437.1 L462.4,435.7 L463.5,434.3 L464.5,432.8 L465.6,431.3 L466.7,429.7 L467.8,428.1 L468.8,426.4 L469.9,424.6 L471.0,422.8 L472.0,420.9 L473.1,418.9 L474.2,416.8 L475.3,414.6 L476.3,412.3 L477.4,409.9 L478.5,407.3 L479.5,404.5 L480.6,401.6 L481.7,398.6 L482.8,395.5 L483.8,392.4 L484.9,389.2 L486.0,385.7 L487.0,382.2 L488.1,378.7 L489.2,375.7 L490.3,373.2 L491.3,370.9 L492.4,368.9 L493.5,367.1 L494.5,365.5 L495.6,364.0 L496.7,362.6 L497.8,361.3 L498.8,360.3 L499.9,359.6 L501.0,359.1 L502.0,358.5 L503.1,358.1 L504.2,357.7 L505.3,357.5 L506.3,357.4" stroke="#000" stroke-width="1.1" fill="none" stroke-linejoin="round"/>
<path d="M443.1,451.9 L444.6,451.7 L446.1,451.5 L447.6,451.1 L449.1,450.8 L450.6,450.6 L452.1,449.6 L453.6,448.8 L455.1,448.5 L456.6,448.2 L458.1,447.3 L459.6,445.8 L461.1,444.3 L462.6,443.4 L464.1,442.7 L465.7,441.7 L467.2,440.0 L468.7,438.1 L470.2,436.5 L471.7,435.3 L473.2,433.9 L474.7,431.9 L476.2,429.4 L477.7,427.2 L479.2,425.4 L480.7,423.8 L482.2,421.8 L483.7,419.3 L485.2,416.8 L486.7,415.0 L488.2,413.5 L489.7,411.9 L491.2,409.8 L492.7,407.5 L494.2,405.6 L495.7,404.3 L497.2,403.1 L498.7,401.4 L500.2,399.3 L501.7,397.5 L503.2,396.3 L504.7,395.4 L506.2,394.1 L507.7,392.2 L509.2,389.9 L510.8,388.0 L512.3,386.7 L513.8,385.5 L515.3,383.9 L516.8,382.0 L518.3,380.3 L519.8,379.0 L521.3,377.8 L522.8,376.0 L524.3,373.7 L525.8,371.3 L527.3,369.5 L528.8,368.1 L530.3,366.6 L531.8,364.4 L533.3,361.8 L534.8,360.2 L536.3,359.8 L537.8,359.7 L539.3,359.2 L540.8,358.3 L542.3,357.6 L543.8,357.8 L545.3,357.6 L546.8,357.4" stroke="#2020d8" stroke-width="1.1" fill="none" stroke-linejoin="round"/>
<rect x="142" y="490" width="337.2" height="22.6" fill="none" stroke="#222" stroke-width="1.1"/>
<line x1="151.30" y1="501.70" x2="184.70" y2="501.70" stroke="#000" stroke-width="2.2"/>
<text x="193.40" y="505.30" font-size="11" text-anchor="start" fill="#111" textLength="42.5" lengthAdjust="spacingAndGlyphs">Isotropic</text>
<line x1="240.70" y1="501.70" x2="274.30" y2="501.70" stroke="#0a0af0" stroke-width="2.2"/>
<text x="277.80" y="505.30" font-size="11" text-anchor="start" fill="#111" textLength="55.7" lengthAdjust="spacingAndGlyphs">Anisotropic</text>
<line x1="341.10" y1="501.70" x2="374.80" y2="501.70" stroke="#f00a0a" stroke-width="2.2"/>
<text x="378.70" y="505.30" font-size="11" text-anchor="start" fill="#111" textLength="86.3" lengthAdjust="spacingAndGlyphs">Conduction Block</text>
<text x="5.00" y="530.00" font-size="12" text-anchor="start" fill="#000" font-weight="bold">h</text>
<text x="51.80" y="534.00" font-size="11" text-anchor="start" fill="#111" textLength="51.7" lengthAdjust="spacingAndGlyphs">10% Noise</text>
<text x="190.50" y="534.00" font-size="11" text-anchor="start" fill="#111" textLength="51.7" lengthAdjust="spacingAndGlyphs">30% Noise</text>
<path d="M12,541 L137,541 L137,543 L139,543 L139,668.3 L137,668.3 L137,670.3 L12,670.3 L12,668.3 L10,668.3 L10,543 L12,543 Z" fill="url(#gh1)"/>
<g clip-path="url(#ch1)"><path fill="#75ff8a" d="M10.0 541.0h4.7v2.6h-4.7zM10.0 543.2h2.5v2.6h-2.5z"/><path fill="#61ff9e" d="M14.3 541.0h4.7v2.6h-4.7zM12.2 543.2h2.5v2.6h-2.5zM132.6 543.2h6.8v2.6h-6.8zM10.0 545.3h2.5v2.6h-2.5zM14.3 545.3h2.5v2.6h-2.5zM134.7 545.3h2.5v2.6h-2.5zM10.0 663.8h2.5v2.6h-2.5zM132.6 663.8h2.5v2.6h-2.5zM10.0 666.0h2.5v2.6h-2.5zM14.3 666.0h2.5v2.6h-2.5zM136.8 666.0h2.5v2.6h-2.5zM10.0 668.1h6.8v2.6h-6.8zM130.4 668.1h2.5v2.6h-2.5zM134.7 668.1h2.5v2.6h-2.5z"/><path fill="#57ffa8" d="M18.6 541.0h2.5v2.6h-2.5zM128.2 541.0h4.7v2.6h-4.7zM14.3 543.2h4.7v2.6h-4.7zM130.4 543.2h2.5v2.6h-2.5zM12.2 545.3h2.5v2.6h-2.5zM16.4 545.3h2.5v2.6h-2.5zM130.4 545.3h2.5v2.6h-2.5zM136.8 545.3h2.5v2.6h-2.5zM10.0 547.5h2.5v2.6h-2.5zM132.6 547.5h6.8v2.6h-6.8zM134.7 549.6h4.7v2.6h-4.7zM136.8 556.1h2.5v2.6h-2.5zM136.8 659.5h2.5v2.6h-2.5zM10.0 661.7h2.5v2.6h-2.5zM136.8 661.7h2.5v2.6h-2.5zM134.7 663.8h4.7v2.6h-4.7zM16.4 666.0h2.5v2.6h-2.5zM130.4 666.0h6.8v2.6h-6.8zM16.4 668.1h6.8v2.6h-6.8zM128.2 668.1h2.5v2.6h-2.5z"/><path fill="#4dffb2" d="M20.8 541.0h2.5v2.6h-2.5zM27.2 541.0h2.5v2.6h-2.5zM121.8 541.0h2.5v2.6h-2.5zM18.6 543.2h2.5v2.6h-2.5zM132.6 545.3h2.5v2.6h-2.5zM12.2 547.5h6.8v2.6h-6.8zM10.0 549.6h2.5v2.6h-2.5zM10.0 551.8h2.5v2.6h-2.5zM134.7 551.8h2.5v2.6h-2.5zM10.0 657.4h2.5v2.6h-2.5zM136.8 657.4h2.5v2.6h-2.5zM10.0 659.5h4.7v2.6h-4.7zM134.7 659.5h2.5v2.6h-2.5zM12.2 661.7h6.8v2.6h-6.8zM132.6 661.7h4.7v2.6h-4.7zM12.2 663.8h6.8v2.6h-6.8zM126.1 668.1h2.5v2.6h-2.5z"/><path fill="#42ffbd" d="M22.9 541.0h4.7v2.6h-4.7zM119.6 541.0h2.5v2.6h-2.5zM123.9 541.0h4.7v2.6h-4.7zM20.8 543.2h2.5v2.6h-2.5zM25.0 543.2h2.5v2.6h-2.5zM126.1 543.2h4.7v2.6h-4.7zM18.6 545.3h2.5v2.6h-2.5zM126.1 545.3h4.7v2.6h-4.7zM128.2 547.5h4.7v2.6h-4.7zM12.2 549.6h4.7v2.6h-4.7zM132.6 549.6h2.5v2.6h-2.5zM12.2 551.8h4.7v2.6h-4.7zM18.6 551.8h2.5v2.6h-2.5zM130.4 551.8h4.7v2.6h-4.7zM136.8 551.8h2.5v2.6h-2.5zM10.0 553.9h6.8v2.6h-6.8zM136.8 553.9h2.5v2.6h-2.5zM10.0 556.1h2.5v2.6h-2.5zM10.0 648.8h2.5v2.6h-2.5zM10.0 650.9h2.5v2.6h-2.5zM10.0 653.1h4.7v2.6h-4.7zM136.8 653.1h2.5v2.6h-2.5zM14.3 655.2h2.5v2.6h-2.5zM134.7 655.2h4.7v2.6h-4.7zM12.2 657.4h2.5v2.6h-2.5zM132.6 657.4h4.7v2.6h-4.7zM14.3 659.5h2.5v2.6h-2.5zM128.2 659.5h2.5v2.6h-2.5zM132.6 659.5h2.5v2.6h-2.5zM18.6 661.7h2.5v2.6h-2.5zM128.2 661.7h2.5v2.6h-2.5zM18.6 663.8h2.5v2.6h-2.5zM128.2 663.8h4.7v2.6h-4.7zM18.6 666.0h2.5v2.6h-2.5zM121.8 666.0h2.5v2.6h-2.5zM126.1 666.0h4.7v2.6h-4.7zM22.9 668.1h6.8v2.6h-6.8zM123.9 668.1h2.5v2.6h-2.5z"/><path fill="#2effd1" d="M29.3 541.0h2.5v2.6h-2.5zM33.6 541.0h6.8v2.6h-6.8zM113.2 541.0h2.5v2.6h-2.5zM111.0 543.2h2.5v2.6h-2.5zM115.3 543.2h6.8v2.6h-6.8zM22.9 545.3h6.8v2.6h-6.8zM18.6 547.5h2.5v2.6h-2.5zM22.9 547.5h6.8v2.6h-6.8zM119.6 547.5h2.5v2.6h-2.5zM123.9 547.5h2.5v2.6h-2.5zM20.8 549.6h4.7v2.6h-4.7zM123.9 549.6h2.5v2.6h-2.5zM20.8 551.8h2.5v2.6h-2.5zM123.9 551.8h2.5v2.6h-2.5zM130.4 553.9h4.7v2.6h-4.7zM130.4 556.1h2.5v2.6h-2.5zM12.2 558.2h6.8v2.6h-6.8zM132.6 558.2h4.7v2.6h-4.7zM10.0 560.4h4.7v2.6h-4.7zM10.0 562.5h4.7v2.6h-4.7zM134.7 562.5h2.5v2.6h-2.5zM136.8 564.7h2.5v2.6h-2.5zM12.2 566.9h2.5v2.6h-2.5zM136.8 566.9h2.5v2.6h-2.5zM10.0 642.3h2.5v2.6h-2.5zM12.2 644.4h2.5v2.6h-2.5zM136.8 644.4h2.5v2.6h-2.5zM10.0 646.6h2.5v2.6h-2.5zM136.8 646.6h2.5v2.6h-2.5zM12.2 648.8h2.5v2.6h-2.5zM132.6 648.8h4.7v2.6h-4.7zM12.2 650.9h4.7v2.6h-4.7zM130.4 650.9h4.7v2.6h-4.7zM18.6 653.1h2.5v2.6h-2.5zM128.2 653.1h6.8v2.6h-6.8zM16.4 655.2h4.7v2.6h-4.7zM18.6 657.4h2.5v2.6h-2.5zM126.1 657.4h2.5v2.6h-2.5zM22.9 659.5h2.5v2.6h-2.5zM123.9 659.5h2.5v2.6h-2.5zM130.4 659.5h2.5v2.6h-2.5zM20.8 661.7h4.7v2.6h-4.7zM121.8 661.7h2.5v2.6h-2.5zM25.0 663.8h2.5v2.6h-2.5zM29.3 663.8h2.5v2.6h-2.5zM117.5 663.8h2.5v2.6h-2.5zM121.8 663.8h2.5v2.6h-2.5zM25.0 666.0h9.0v2.6h-9.0zM117.5 666.0h2.5v2.6h-2.5zM31.5 668.1h2.5v2.6h-2.5zM111.0 668.1h2.5v2.6h-2.5zM115.3 668.1h4.7v2.6h-4.7z"/><path fill="#38ffc7" d="M31.5 541.0h2.5v2.6h-2.5zM115.3 541.0h4.7v2.6h-4.7zM22.9 543.2h2.5v2.6h-2.5zM27.2 543.2h2.5v2.6h-2.5zM121.8 543.2h4.7v2.6h-4.7zM20.8 545.3h2.5v2.6h-2.5zM121.8 545.3h4.7v2.6h-4.7zM20.8 547.5h2.5v2.6h-2.5zM126.1 547.5h2.5v2.6h-2.5zM16.4 549.6h4.7v2.6h-4.7zM126.1 549.6h6.8v2.6h-6.8zM16.4 551.8h2.5v2.6h-2.5zM128.2 551.8h2.5v2.6h-2.5zM16.4 553.9h2.5v2.6h-2.5zM134.7 553.9h2.5v2.6h-2.5zM12.2 556.1h4.7v2.6h-4.7zM132.6 556.1h4.7v2.6h-4.7zM136.8 558.2h2.5v2.6h-2.5zM134.7 560.4h4.7v2.6h-4.7zM136.8 562.5h2.5v2.6h-2.5zM136.8 642.3h2.5v2.6h-2.5zM12.2 646.6h2.5v2.6h-2.5zM136.8 648.8h2.5v2.6h-2.5zM134.7 650.9h4.7v2.6h-4.7zM14.3 653.1h2.5v2.6h-2.5zM134.7 653.1h2.5v2.6h-2.5zM10.0 655.2h4.7v2.6h-4.7zM130.4 655.2h4.7v2.6h-4.7zM14.3 657.4h4.7v2.6h-4.7zM128.2 657.4h4.7v2.6h-4.7zM16.4 659.5h6.8v2.6h-6.8zM123.9 661.7h4.7v2.6h-4.7zM130.4 661.7h2.5v2.6h-2.5zM20.8 663.8h4.7v2.6h-4.7zM27.2 663.8h2.5v2.6h-2.5zM123.9 663.8h4.7v2.6h-4.7zM20.8 666.0h4.7v2.6h-4.7zM119.6 666.0h2.5v2.6h-2.5zM123.9 666.0h2.5v2.6h-2.5zM29.3 668.1h2.5v2.6h-2.5zM119.6 668.1h4.7v2.6h-4.7z"/><path fill="#24ffdb" d="M40.1 541.0h2.5v2.6h-2.5zM108.9 541.0h4.7v2.6h-4.7zM29.3 543.2h6.8v2.6h-6.8zM40.1 543.2h2.5v2.6h-2.5zM108.9 543.2h2.5v2.6h-2.5zM29.3 545.3h2.5v2.6h-2.5zM111.0 545.3h2.5v2.6h-2.5zM115.3 545.3h6.8v2.6h-6.8zM31.5 547.5h2.5v2.6h-2.5zM117.5 547.5h2.5v2.6h-2.5zM121.8 547.5h2.5v2.6h-2.5zM25.0 549.6h2.5v2.6h-2.5zM121.8 549.6h2.5v2.6h-2.5zM22.9 551.8h6.8v2.6h-6.8zM126.1 551.8h2.5v2.6h-2.5zM18.6 553.9h4.7v2.6h-4.7zM121.8 553.9h2.5v2.6h-2.5zM128.2 553.9h2.5v2.6h-2.5zM16.4 556.1h6.8v2.6h-6.8zM128.2 556.1h2.5v2.6h-2.5zM10.0 558.2h2.5v2.6h-2.5zM18.6 558.2h2.5v2.6h-2.5zM130.4 558.2h2.5v2.6h-2.5zM130.4 560.4h2.5v2.6h-2.5zM14.3 562.5h2.5v2.6h-2.5zM130.4 562.5h4.7v2.6h-4.7zM10.0 564.7h6.8v2.6h-6.8zM130.4 564.7h2.5v2.6h-2.5zM10.0 566.9h2.5v2.6h-2.5zM132.6 566.9h2.5v2.6h-2.5zM10.0 569.0h2.5v2.6h-2.5zM10.0 571.2h2.5v2.6h-2.5zM136.8 573.3h2.5v2.6h-2.5zM10.0 577.6h2.5v2.6h-2.5zM10.0 640.1h4.7v2.6h-4.7zM136.8 640.1h2.5v2.6h-2.5zM12.2 642.3h4.7v2.6h-4.7zM134.7 642.3h2.5v2.6h-2.5zM10.0 644.4h2.5v2.6h-2.5zM14.3 646.6h4.7v2.6h-4.7zM130.4 646.6h2.5v2.6h-2.5zM134.7 646.6h2.5v2.6h-2.5zM14.3 648.8h4.7v2.6h-4.7zM128.2 648.8h2.5v2.6h-2.5zM16.4 650.9h4.7v2.6h-4.7zM128.2 650.9h2.5v2.6h-2.5zM16.4 653.1h2.5v2.6h-2.5zM20.8 655.2h6.8v2.6h-6.8zM123.9 655.2h4.7v2.6h-4.7zM20.8 657.4h4.7v2.6h-4.7zM121.8 657.4h4.7v2.6h-4.7zM27.2 659.5h2.5v2.6h-2.5zM119.6 659.5h2.5v2.6h-2.5zM126.1 659.5h2.5v2.6h-2.5zM25.0 661.7h4.7v2.6h-4.7zM117.5 661.7h4.7v2.6h-4.7zM31.5 663.8h2.5v2.6h-2.5zM113.2 663.8h4.7v2.6h-4.7zM119.6 663.8h2.5v2.6h-2.5zM35.8 666.0h2.5v2.6h-2.5zM111.0 666.0h2.5v2.6h-2.5zM115.3 666.0h2.5v2.6h-2.5zM33.6 668.1h2.5v2.6h-2.5zM38.0 668.1h2.5v2.6h-2.5z"/><path fill="#1affe5" d="M42.2 541.0h2.5v2.6h-2.5zM104.6 541.0h4.7v2.6h-4.7zM35.8 543.2h4.7v2.6h-4.7zM104.6 543.2h2.5v2.6h-2.5zM113.2 543.2h2.5v2.6h-2.5zM31.5 545.3h9.0v2.6h-9.0zM113.2 545.3h2.5v2.6h-2.5zM29.3 547.5h2.5v2.6h-2.5zM33.6 547.5h4.7v2.6h-4.7zM111.0 547.5h2.5v2.6h-2.5zM115.3 547.5h2.5v2.6h-2.5zM27.2 549.6h4.7v2.6h-4.7zM117.5 549.6h2.5v2.6h-2.5zM119.6 551.8h4.7v2.6h-4.7zM22.9 553.9h2.5v2.6h-2.5zM123.9 553.9h4.7v2.6h-4.7zM123.9 556.1h4.7v2.6h-4.7zM126.1 558.2h4.7v2.6h-4.7zM16.4 560.4h4.7v2.6h-4.7zM126.1 560.4h2.5v2.6h-2.5zM132.6 560.4h2.5v2.6h-2.5zM16.4 562.5h2.5v2.6h-2.5zM132.6 564.7h4.7v2.6h-4.7zM16.4 566.9h2.5v2.6h-2.5zM134.7 566.9h2.5v2.6h-2.5zM12.2 569.0h2.5v2.6h-2.5zM136.8 569.0h2.5v2.6h-2.5zM10.0 573.3h2.5v2.6h-2.5zM134.7 573.3h2.5v2.6h-2.5zM136.8 575.5h2.5v2.6h-2.5zM136.8 586.3h2.5v2.6h-2.5zM136.8 627.2h2.5v2.6h-2.5zM136.8 631.5h2.5v2.6h-2.5zM10.0 633.7h4.7v2.6h-4.7zM136.8 633.7h2.5v2.6h-2.5zM10.0 635.8h2.5v2.6h-2.5zM134.7 635.8h4.7v2.6h-4.7zM10.0 638.0h2.5v2.6h-2.5zM14.3 638.0h2.5v2.6h-2.5zM132.6 638.0h2.5v2.6h-2.5zM14.3 644.4h2.5v2.6h-2.5zM134.7 644.4h2.5v2.6h-2.5zM18.6 646.6h2.5v2.6h-2.5zM132.6 646.6h2.5v2.6h-2.5zM18.6 648.8h2.5v2.6h-2.5zM130.4 648.8h2.5v2.6h-2.5zM20.8 650.9h2.5v2.6h-2.5zM20.8 653.1h2.5v2.6h-2.5zM123.9 653.1h4.7v2.6h-4.7zM121.8 655.2h2.5v2.6h-2.5zM128.2 655.2h2.5v2.6h-2.5zM25.0 657.4h2.5v2.6h-2.5zM119.6 657.4h2.5v2.6h-2.5zM25.0 659.5h2.5v2.6h-2.5zM29.3 659.5h4.7v2.6h-4.7zM115.3 659.5h4.7v2.6h-4.7zM121.8 659.5h2.5v2.6h-2.5zM29.3 661.7h2.5v2.6h-2.5zM33.6 661.7h2.5v2.6h-2.5zM115.3 661.7h2.5v2.6h-2.5zM33.6 663.8h2.5v2.6h-2.5zM33.6 666.0h2.5v2.6h-2.5zM38.0 666.0h2.5v2.6h-2.5zM108.9 666.0h2.5v2.6h-2.5zM113.2 666.0h2.5v2.6h-2.5zM35.8 668.1h2.5v2.6h-2.5zM40.1 668.1h2.5v2.6h-2.5zM44.4 668.1h2.5v2.6h-2.5zM102.5 668.1h9.0v2.6h-9.0zM113.2 668.1h2.5v2.6h-2.5z"/><path fill="#0ffff0" d="M44.4 541.0h11.2v2.6h-11.2zM83.1 541.0h2.5v2.6h-2.5zM87.4 541.0h2.5v2.6h-2.5zM93.8 541.0h11.2v2.6h-11.2zM42.2 543.2h4.7v2.6h-4.7zM100.3 543.2h2.5v2.6h-2.5zM106.8 543.2h2.5v2.6h-2.5zM44.4 545.3h2.5v2.6h-2.5zM104.6 545.3h6.8v2.6h-6.8zM40.1 547.5h2.5v2.6h-2.5zM113.2 547.5h2.5v2.6h-2.5zM31.5 549.6h4.7v2.6h-4.7zM115.3 549.6h2.5v2.6h-2.5zM119.6 549.6h2.5v2.6h-2.5zM29.3 551.8h2.5v2.6h-2.5zM33.6 551.8h2.5v2.6h-2.5zM117.5 551.8h2.5v2.6h-2.5zM25.0 553.9h4.7v2.6h-4.7zM31.5 553.9h2.5v2.6h-2.5zM117.5 553.9h2.5v2.6h-2.5zM22.9 556.1h4.7v2.6h-4.7zM121.8 556.1h2.5v2.6h-2.5zM20.8 558.2h2.5v2.6h-2.5zM121.8 558.2h4.7v2.6h-4.7zM14.3 560.4h2.5v2.6h-2.5zM20.8 560.4h2.5v2.6h-2.5zM117.5 560.4h2.5v2.6h-2.5zM128.2 560.4h2.5v2.6h-2.5zM18.6 562.5h4.7v2.6h-4.7zM123.9 562.5h6.8v2.6h-6.8zM16.4 564.7h9.0v2.6h-9.0zM126.1 564.7h4.7v2.6h-4.7zM14.3 566.9h2.5v2.6h-2.5zM130.4 566.9h2.5v2.6h-2.5zM14.3 569.0h2.5v2.6h-2.5zM130.4 569.0h6.8v2.6h-6.8zM12.2 571.2h2.5v2.6h-2.5zM16.4 571.2h2.5v2.6h-2.5zM130.4 571.2h2.5v2.6h-2.5zM134.7 571.2h4.7v2.6h-4.7zM14.3 573.3h2.5v2.6h-2.5zM10.0 575.5h4.7v2.6h-4.7zM134.7 575.5h2.5v2.6h-2.5zM136.8 577.6h2.5v2.6h-2.5zM10.0 581.9h2.5v2.6h-2.5zM10.0 584.1h2.5v2.6h-2.5zM136.8 584.1h2.5v2.6h-2.5zM10.0 590.6h2.5v2.6h-2.5zM10.0 622.9h2.5v2.6h-2.5zM10.0 625.0h2.5v2.6h-2.5zM10.0 627.2h2.5v2.6h-2.5zM10.0 631.5h2.5v2.6h-2.5zM14.3 635.8h2.5v2.6h-2.5zM12.2 638.0h2.5v2.6h-2.5zM134.7 638.0h2.5v2.6h-2.5zM14.3 640.1h6.8v2.6h-6.8zM132.6 640.1h4.7v2.6h-4.7zM16.4 642.3h4.7v2.6h-4.7zM130.4 642.3h4.7v2.6h-4.7zM16.4 644.4h2.5v2.6h-2.5zM126.1 644.4h4.7v2.6h-4.7zM132.6 644.4h2.5v2.6h-2.5zM123.9 646.6h6.8v2.6h-6.8zM20.8 648.8h4.7v2.6h-4.7zM126.1 648.8h2.5v2.6h-2.5zM25.0 650.9h2.5v2.6h-2.5zM123.9 650.9h4.7v2.6h-4.7zM22.9 653.1h4.7v2.6h-4.7zM121.8 653.1h2.5v2.6h-2.5zM27.2 655.2h6.8v2.6h-6.8zM119.6 655.2h2.5v2.6h-2.5zM27.2 657.4h6.8v2.6h-6.8zM117.5 657.4h2.5v2.6h-2.5zM33.6 659.5h2.5v2.6h-2.5zM31.5 661.7h2.5v2.6h-2.5zM35.8 661.7h2.5v2.6h-2.5zM40.1 661.7h2.5v2.6h-2.5zM108.9 661.7h6.8v2.6h-6.8zM40.1 663.8h4.7v2.6h-4.7zM106.8 663.8h6.8v2.6h-6.8zM40.1 666.0h6.8v2.6h-6.8zM96.0 666.0h4.7v2.6h-4.7zM104.6 666.0h4.7v2.6h-4.7zM42.2 668.1h2.5v2.6h-2.5zM46.5 668.1h2.5v2.6h-2.5zM55.1 668.1h2.5v2.6h-2.5zM93.8 668.1h9.0v2.6h-9.0z"/><path fill="#05fffa" d="M55.1 541.0h15.4v2.6h-15.4zM81.0 541.0h2.5v2.6h-2.5zM89.5 541.0h4.7v2.6h-4.7zM46.5 543.2h4.7v2.6h-4.7zM53.0 543.2h2.5v2.6h-2.5zM61.6 543.2h2.5v2.6h-2.5zM65.9 543.2h2.5v2.6h-2.5zM85.2 543.2h2.5v2.6h-2.5zM93.8 543.2h6.8v2.6h-6.8zM102.5 543.2h2.5v2.6h-2.5zM40.1 545.3h2.5v2.6h-2.5zM48.7 545.3h2.5v2.6h-2.5zM53.0 545.3h2.5v2.6h-2.5zM96.0 545.3h2.5v2.6h-2.5zM100.3 545.3h4.7v2.6h-4.7zM38.0 547.5h2.5v2.6h-2.5zM42.2 547.5h2.5v2.6h-2.5zM100.3 547.5h2.5v2.6h-2.5zM104.6 547.5h6.8v2.6h-6.8zM35.8 549.6h2.5v2.6h-2.5zM111.0 549.6h4.7v2.6h-4.7zM31.5 551.8h2.5v2.6h-2.5zM35.8 551.8h4.7v2.6h-4.7zM29.3 553.9h2.5v2.6h-2.5zM33.6 553.9h2.5v2.6h-2.5zM115.3 553.9h2.5v2.6h-2.5zM119.6 553.9h2.5v2.6h-2.5zM27.2 556.1h4.7v2.6h-4.7zM117.5 556.1h4.7v2.6h-4.7zM22.9 558.2h4.7v2.6h-4.7zM117.5 558.2h4.7v2.6h-4.7zM22.9 560.4h6.8v2.6h-6.8zM121.8 560.4h4.7v2.6h-4.7zM22.9 562.5h4.7v2.6h-4.7zM121.8 562.5h2.5v2.6h-2.5zM25.0 564.7h2.5v2.6h-2.5zM123.9 564.7h2.5v2.6h-2.5zM128.2 566.9h2.5v2.6h-2.5zM16.4 569.0h2.5v2.6h-2.5zM14.3 571.2h2.5v2.6h-2.5zM18.6 571.2h2.5v2.6h-2.5zM128.2 571.2h2.5v2.6h-2.5zM132.6 571.2h2.5v2.6h-2.5zM12.2 573.3h2.5v2.6h-2.5zM16.4 573.3h2.5v2.6h-2.5zM130.4 573.3h2.5v2.6h-2.5zM14.3 575.5h2.5v2.6h-2.5zM132.6 575.5h2.5v2.6h-2.5zM12.2 577.6h2.5v2.6h-2.5zM16.4 577.6h2.5v2.6h-2.5zM10.0 579.8h4.7v2.6h-4.7zM134.7 579.8h4.7v2.6h-4.7zM12.2 581.9h2.5v2.6h-2.5zM134.7 581.9h4.7v2.6h-4.7zM12.2 584.1h2.5v2.6h-2.5zM10.0 586.3h2.5v2.6h-2.5zM134.7 586.3h2.5v2.6h-2.5zM136.8 588.4h2.5v2.6h-2.5zM12.2 590.6h2.5v2.6h-2.5zM12.2 592.7h2.5v2.6h-2.5zM136.8 594.9h2.5v2.6h-2.5zM134.7 597.0h4.7v2.6h-4.7zM10.0 601.3h2.5v2.6h-2.5zM136.8 601.3h2.5v2.6h-2.5zM10.0 603.5h2.5v2.6h-2.5zM136.8 603.5h2.5v2.6h-2.5zM10.0 605.6h2.5v2.6h-2.5zM10.0 612.1h2.5v2.6h-2.5zM136.8 612.1h2.5v2.6h-2.5zM10.0 616.4h2.5v2.6h-2.5zM136.8 618.6h2.5v2.6h-2.5zM10.0 620.7h2.5v2.6h-2.5zM136.8 620.7h2.5v2.6h-2.5zM12.2 625.0h2.5v2.6h-2.5zM134.7 625.0h4.7v2.6h-4.7zM12.2 627.2h2.5v2.6h-2.5zM134.7 627.2h2.5v2.6h-2.5zM10.0 629.4h4.7v2.6h-4.7zM134.7 629.4h4.7v2.6h-4.7zM12.2 631.5h4.7v2.6h-4.7zM134.7 631.5h2.5v2.6h-2.5zM14.3 633.7h4.7v2.6h-4.7zM134.7 633.7h2.5v2.6h-2.5zM12.2 635.8h2.5v2.6h-2.5zM132.6 635.8h2.5v2.6h-2.5zM18.6 638.0h2.5v2.6h-2.5zM136.8 638.0h2.5v2.6h-2.5zM128.2 640.1h4.7v2.6h-4.7zM20.8 642.3h2.5v2.6h-2.5zM126.1 642.3h4.7v2.6h-4.7zM18.6 644.4h4.7v2.6h-4.7zM123.9 644.4h2.5v2.6h-2.5zM130.4 644.4h2.5v2.6h-2.5zM22.9 646.6h4.7v2.6h-4.7zM121.8 646.6h2.5v2.6h-2.5zM25.0 648.8h2.5v2.6h-2.5zM29.3 648.8h2.5v2.6h-2.5zM121.8 648.8h4.7v2.6h-4.7zM22.9 650.9h2.5v2.6h-2.5zM27.2 650.9h2.5v2.6h-2.5zM119.6 650.9h4.7v2.6h-4.7zM27.2 653.1h4.7v2.6h-4.7zM115.3 653.1h2.5v2.6h-2.5zM119.6 653.1h2.5v2.6h-2.5zM115.3 655.2h4.7v2.6h-4.7zM33.6 657.4h2.5v2.6h-2.5zM38.0 657.4h2.5v2.6h-2.5zM111.0 657.4h6.8v2.6h-6.8zM35.8 659.5h2.5v2.6h-2.5zM40.1 659.5h2.5v2.6h-2.5zM44.4 659.5h2.5v2.6h-2.5zM108.9 659.5h6.8v2.6h-6.8zM38.0 661.7h2.5v2.6h-2.5zM42.2 661.7h4.7v2.6h-4.7zM100.3 661.7h2.5v2.6h-2.5zM35.8 663.8h4.7v2.6h-4.7zM46.5 663.8h2.5v2.6h-2.5zM102.5 663.8h4.7v2.6h-4.7zM46.5 666.0h4.7v2.6h-4.7zM93.8 666.0h2.5v2.6h-2.5zM100.3 666.0h4.7v2.6h-4.7zM48.7 668.1h6.8v2.6h-6.8zM59.4 668.1h2.5v2.6h-2.5zM63.8 668.1h4.7v2.6h-4.7zM70.2 668.1h6.8v2.6h-6.8zM89.5 668.1h2.5v2.6h-2.5z"/><path fill="#00f0ff" d="M70.2 541.0h2.5v2.6h-2.5zM57.3 543.2h4.7v2.6h-4.7zM63.8 543.2h2.5v2.6h-2.5zM72.3 543.2h2.5v2.6h-2.5zM76.6 543.2h2.5v2.6h-2.5zM46.5 545.3h2.5v2.6h-2.5zM55.1 545.3h9.0v2.6h-9.0zM70.2 545.3h4.7v2.6h-4.7zM76.6 545.3h2.5v2.6h-2.5zM83.1 545.3h2.5v2.6h-2.5zM87.4 545.3h6.8v2.6h-6.8zM48.7 547.5h2.5v2.6h-2.5zM53.0 547.5h9.0v2.6h-9.0zM78.8 547.5h4.7v2.6h-4.7zM93.8 547.5h6.8v2.6h-6.8zM50.9 549.6h2.5v2.6h-2.5zM61.6 549.6h2.5v2.6h-2.5zM100.3 549.6h2.5v2.6h-2.5zM102.5 551.8h2.5v2.6h-2.5zM35.8 553.9h2.5v2.6h-2.5zM40.1 553.9h6.8v2.6h-6.8zM35.8 556.1h6.8v2.6h-6.8zM111.0 556.1h4.7v2.6h-4.7zM31.5 558.2h6.8v2.6h-6.8zM113.2 558.2h2.5v2.6h-2.5zM29.3 560.4h2.5v2.6h-2.5zM35.8 560.4h2.5v2.6h-2.5zM113.2 560.4h2.5v2.6h-2.5zM113.2 562.5h6.8v2.6h-6.8zM115.3 564.7h2.5v2.6h-2.5zM119.6 564.7h2.5v2.6h-2.5zM22.9 566.9h2.5v2.6h-2.5zM27.2 566.9h2.5v2.6h-2.5zM119.6 566.9h2.5v2.6h-2.5zM123.9 566.9h2.5v2.6h-2.5zM18.6 569.0h2.5v2.6h-2.5zM22.9 569.0h2.5v2.6h-2.5zM27.2 569.0h2.5v2.6h-2.5zM119.6 569.0h6.8v2.6h-6.8zM22.9 571.2h2.5v2.6h-2.5zM121.8 571.2h2.5v2.6h-2.5zM18.6 573.3h2.5v2.6h-2.5zM25.0 573.3h2.5v2.6h-2.5zM123.9 573.3h2.5v2.6h-2.5zM20.8 575.5h2.5v2.6h-2.5zM126.1 575.5h2.5v2.6h-2.5zM22.9 577.6h2.5v2.6h-2.5zM18.6 579.8h4.7v2.6h-4.7zM126.1 579.8h6.8v2.6h-6.8zM18.6 581.9h2.5v2.6h-2.5zM128.2 581.9h2.5v2.6h-2.5zM14.3 584.1h2.5v2.6h-2.5zM18.6 584.1h2.5v2.6h-2.5zM14.3 586.3h4.7v2.6h-4.7zM130.4 586.3h4.7v2.6h-4.7zM132.6 588.4h4.7v2.6h-4.7zM14.3 590.6h2.5v2.6h-2.5zM132.6 590.6h2.5v2.6h-2.5zM16.4 592.7h2.5v2.6h-2.5zM130.4 592.7h4.7v2.6h-4.7zM10.0 594.9h2.5v2.6h-2.5zM14.3 594.9h4.7v2.6h-4.7zM134.7 594.9h2.5v2.6h-2.5zM132.6 597.0h2.5v2.6h-2.5zM10.0 599.2h4.7v2.6h-4.7zM16.4 599.2h2.5v2.6h-2.5zM132.6 601.3h4.7v2.6h-4.7zM14.3 603.5h2.5v2.6h-2.5zM12.2 605.6h4.7v2.6h-4.7zM130.4 605.6h2.5v2.6h-2.5zM134.7 605.6h2.5v2.6h-2.5zM12.2 607.8h4.7v2.6h-4.7zM134.7 607.8h2.5v2.6h-2.5zM12.2 610.0h2.5v2.6h-2.5zM134.7 610.0h2.5v2.6h-2.5zM12.2 612.1h4.7v2.6h-4.7zM130.4 612.1h2.5v2.6h-2.5zM12.2 614.3h4.7v2.6h-4.7zM134.7 614.3h2.5v2.6h-2.5zM16.4 616.4h2.5v2.6h-2.5zM136.8 616.4h2.5v2.6h-2.5zM14.3 618.6h2.5v2.6h-2.5zM12.2 620.7h4.7v2.6h-4.7zM130.4 620.7h2.5v2.6h-2.5zM134.7 620.7h2.5v2.6h-2.5zM128.2 622.9h2.5v2.6h-2.5zM132.6 622.9h2.5v2.6h-2.5zM130.4 627.2h4.7v2.6h-4.7zM18.6 629.4h2.5v2.6h-2.5zM126.1 629.4h2.5v2.6h-2.5zM130.4 629.4h2.5v2.6h-2.5zM18.6 631.5h2.5v2.6h-2.5zM126.1 631.5h9.0v2.6h-9.0zM22.9 633.7h2.5v2.6h-2.5zM130.4 633.7h2.5v2.6h-2.5zM18.6 635.8h4.7v2.6h-4.7zM123.9 635.8h4.7v2.6h-4.7zM20.8 638.0h4.7v2.6h-4.7zM121.8 638.0h2.5v2.6h-2.5zM126.1 638.0h2.5v2.6h-2.5zM22.9 640.1h6.8v2.6h-6.8zM119.6 640.1h2.5v2.6h-2.5zM22.9 642.3h6.8v2.6h-6.8zM123.9 642.3h2.5v2.6h-2.5zM27.2 644.4h6.8v2.6h-6.8zM115.3 644.4h9.0v2.6h-9.0zM29.3 646.6h2.5v2.6h-2.5zM119.6 646.6h2.5v2.6h-2.5zM27.2 648.8h2.5v2.6h-2.5zM31.5 648.8h2.5v2.6h-2.5zM113.2 648.8h2.5v2.6h-2.5zM119.6 648.8h2.5v2.6h-2.5zM33.6 650.9h2.5v2.6h-2.5zM111.0 650.9h4.7v2.6h-4.7zM35.8 653.1h2.5v2.6h-2.5zM106.8 653.1h6.8v2.6h-6.8zM38.0 655.2h4.7v2.6h-4.7zM104.6 655.2h2.5v2.6h-2.5zM40.1 657.4h9.0v2.6h-9.0zM102.5 657.4h6.8v2.6h-6.8zM42.2 659.5h2.5v2.6h-2.5zM48.7 659.5h2.5v2.6h-2.5zM59.4 659.5h2.5v2.6h-2.5zM93.8 659.5h2.5v2.6h-2.5zM98.1 659.5h2.5v2.6h-2.5zM102.5 659.5h2.5v2.6h-2.5zM106.8 659.5h2.5v2.6h-2.5zM48.7 661.7h2.5v2.6h-2.5zM57.3 661.7h2.5v2.6h-2.5zM63.8 661.7h2.5v2.6h-2.5zM89.5 661.7h4.7v2.6h-4.7zM50.9 663.8h6.8v2.6h-6.8zM61.6 663.8h2.5v2.6h-2.5zM74.5 663.8h2.5v2.6h-2.5zM78.8 663.8h2.5v2.6h-2.5zM83.1 663.8h13.3v2.6h-13.3zM59.4 666.0h2.5v2.6h-2.5zM63.8 666.0h4.7v2.6h-4.7zM74.5 666.0h2.5v2.6h-2.5zM81.0 666.0h4.7v2.6h-4.7zM87.4 666.0h2.5v2.6h-2.5zM76.6 668.1h2.5v2.6h-2.5zM83.1 668.1h2.5v2.6h-2.5z"/><path fill="#00faff" d="M72.3 541.0h9.0v2.6h-9.0zM85.2 541.0h2.5v2.6h-2.5zM50.9 543.2h2.5v2.6h-2.5zM55.1 543.2h2.5v2.6h-2.5zM68.0 543.2h4.7v2.6h-4.7zM74.5 543.2h2.5v2.6h-2.5zM78.8 543.2h6.8v2.6h-6.8zM87.4 543.2h6.8v2.6h-6.8zM42.2 545.3h2.5v2.6h-2.5zM50.9 545.3h2.5v2.6h-2.5zM65.9 545.3h2.5v2.6h-2.5zM93.8 545.3h2.5v2.6h-2.5zM98.1 545.3h2.5v2.6h-2.5zM44.4 547.5h4.7v2.6h-4.7zM50.9 547.5h2.5v2.6h-2.5zM91.7 547.5h2.5v2.6h-2.5zM102.5 547.5h2.5v2.6h-2.5zM38.0 549.6h11.2v2.6h-11.2zM104.6 549.6h6.8v2.6h-6.8zM40.1 551.8h4.7v2.6h-4.7zM106.8 551.8h11.2v2.6h-11.2zM108.9 553.9h6.8v2.6h-6.8zM31.5 556.1h4.7v2.6h-4.7zM115.3 556.1h2.5v2.6h-2.5zM27.2 558.2h4.7v2.6h-4.7zM115.3 558.2h2.5v2.6h-2.5zM31.5 560.4h2.5v2.6h-2.5zM115.3 560.4h2.5v2.6h-2.5zM119.6 560.4h2.5v2.6h-2.5zM27.2 562.5h4.7v2.6h-4.7zM119.6 562.5h2.5v2.6h-2.5zM29.3 564.7h2.5v2.6h-2.5zM121.8 564.7h2.5v2.6h-2.5zM18.6 566.9h4.7v2.6h-4.7zM25.0 566.9h2.5v2.6h-2.5zM121.8 566.9h2.5v2.6h-2.5zM126.1 566.9h2.5v2.6h-2.5zM20.8 569.0h2.5v2.6h-2.5zM126.1 569.0h4.7v2.6h-4.7zM20.8 571.2h2.5v2.6h-2.5zM123.9 571.2h2.5v2.6h-2.5zM126.1 573.3h4.7v2.6h-4.7zM132.6 573.3h2.5v2.6h-2.5zM16.4 575.5h4.7v2.6h-4.7zM128.2 575.5h4.7v2.6h-4.7zM14.3 577.6h2.5v2.6h-2.5zM18.6 577.6h2.5v2.6h-2.5zM128.2 577.6h9.0v2.6h-9.0zM14.3 579.8h4.7v2.6h-4.7zM132.6 579.8h2.5v2.6h-2.5zM14.3 581.9h4.7v2.6h-4.7zM132.6 581.9h2.5v2.6h-2.5zM132.6 584.1h4.7v2.6h-4.7zM12.2 586.3h2.5v2.6h-2.5zM10.0 588.4h6.8v2.6h-6.8zM134.7 590.6h4.7v2.6h-4.7zM10.0 592.7h2.5v2.6h-2.5zM134.7 592.7h4.7v2.6h-4.7zM12.2 594.9h2.5v2.6h-2.5zM10.0 597.0h4.7v2.6h-4.7zM134.7 599.2h4.7v2.6h-4.7zM12.2 601.3h2.5v2.6h-2.5zM12.2 603.5h2.5v2.6h-2.5zM134.7 603.5h2.5v2.6h-2.5zM136.8 605.6h2.5v2.6h-2.5zM10.0 607.8h2.5v2.6h-2.5zM136.8 607.8h2.5v2.6h-2.5zM10.0 610.0h2.5v2.6h-2.5zM136.8 610.0h2.5v2.6h-2.5zM134.7 612.1h2.5v2.6h-2.5zM10.0 614.3h2.5v2.6h-2.5zM136.8 614.3h2.5v2.6h-2.5zM12.2 616.4h2.5v2.6h-2.5zM132.6 616.4h4.7v2.6h-4.7zM10.0 618.6h4.7v2.6h-4.7zM132.6 618.6h4.7v2.6h-4.7zM132.6 620.7h2.5v2.6h-2.5zM12.2 622.9h6.8v2.6h-6.8zM134.7 622.9h4.7v2.6h-4.7zM14.3 625.0h2.5v2.6h-2.5zM130.4 625.0h4.7v2.6h-4.7zM14.3 627.2h6.8v2.6h-6.8zM14.3 629.4h4.7v2.6h-4.7zM132.6 629.4h2.5v2.6h-2.5zM16.4 631.5h2.5v2.6h-2.5zM18.6 633.7h2.5v2.6h-2.5zM132.6 633.7h2.5v2.6h-2.5zM16.4 635.8h2.5v2.6h-2.5zM128.2 635.8h4.7v2.6h-4.7zM16.4 638.0h2.5v2.6h-2.5zM128.2 638.0h4.7v2.6h-4.7zM20.8 640.1h2.5v2.6h-2.5zM121.8 640.1h6.8v2.6h-6.8zM22.9 644.4h4.7v2.6h-4.7zM20.8 646.6h2.5v2.6h-2.5zM27.2 646.6h2.5v2.6h-2.5zM117.5 646.6h2.5v2.6h-2.5zM115.3 648.8h4.7v2.6h-4.7zM29.3 650.9h4.7v2.6h-4.7zM115.3 650.9h4.7v2.6h-4.7zM31.5 653.1h4.7v2.6h-4.7zM113.2 653.1h2.5v2.6h-2.5zM117.5 653.1h2.5v2.6h-2.5zM33.6 655.2h4.7v2.6h-4.7zM106.8 655.2h4.7v2.6h-4.7zM113.2 655.2h2.5v2.6h-2.5zM35.8 657.4h2.5v2.6h-2.5zM108.9 657.4h2.5v2.6h-2.5zM38.0 659.5h2.5v2.6h-2.5zM46.5 659.5h2.5v2.6h-2.5zM104.6 659.5h2.5v2.6h-2.5zM46.5 661.7h2.5v2.6h-2.5zM50.9 661.7h4.7v2.6h-4.7zM98.1 661.7h2.5v2.6h-2.5zM102.5 661.7h6.8v2.6h-6.8zM44.4 663.8h2.5v2.6h-2.5zM48.7 663.8h2.5v2.6h-2.5zM57.3 663.8h2.5v2.6h-2.5zM81.0 663.8h2.5v2.6h-2.5zM96.0 663.8h6.8v2.6h-6.8zM50.9 666.0h9.0v2.6h-9.0zM61.6 666.0h2.5v2.6h-2.5zM68.0 666.0h6.8v2.6h-6.8zM76.6 666.0h4.7v2.6h-4.7zM85.2 666.0h2.5v2.6h-2.5zM89.5 666.0h4.7v2.6h-4.7zM57.3 668.1h2.5v2.6h-2.5zM61.6 668.1h2.5v2.6h-2.5zM68.0 668.1h2.5v2.6h-2.5zM78.8 668.1h4.7v2.6h-4.7zM85.2 668.1h4.7v2.6h-4.7zM91.7 668.1h2.5v2.6h-2.5z"/><path fill="#6bff94" d="M132.6 541.0h6.8v2.6h-6.8zM12.2 666.0h2.5v2.6h-2.5zM132.6 668.1h2.5v2.6h-2.5zM136.8 668.1h2.5v2.6h-2.5z"/><path fill="#00e6ff" d="M63.8 545.3h2.5v2.6h-2.5zM68.0 545.3h2.5v2.6h-2.5zM74.5 545.3h2.5v2.6h-2.5zM78.8 545.3h4.7v2.6h-4.7zM85.2 545.3h2.5v2.6h-2.5zM61.6 547.5h2.5v2.6h-2.5zM65.9 547.5h4.7v2.6h-4.7zM72.3 547.5h4.7v2.6h-4.7zM83.1 547.5h9.0v2.6h-9.0zM48.7 549.6h2.5v2.6h-2.5zM53.0 549.6h6.8v2.6h-6.8zM65.9 549.6h2.5v2.6h-2.5zM78.8 549.6h2.5v2.6h-2.5zM85.2 549.6h2.5v2.6h-2.5zM89.5 549.6h4.7v2.6h-4.7zM96.0 549.6h4.7v2.6h-4.7zM102.5 549.6h2.5v2.6h-2.5zM44.4 551.8h9.0v2.6h-9.0zM57.3 551.8h2.5v2.6h-2.5zM91.7 551.8h4.7v2.6h-4.7zM98.1 551.8h4.7v2.6h-4.7zM104.6 551.8h2.5v2.6h-2.5zM38.0 553.9h2.5v2.6h-2.5zM46.5 553.9h2.5v2.6h-2.5zM96.0 553.9h2.5v2.6h-2.5zM100.3 553.9h2.5v2.6h-2.5zM104.6 553.9h4.7v2.6h-4.7zM42.2 556.1h2.5v2.6h-2.5zM100.3 556.1h2.5v2.6h-2.5zM104.6 556.1h6.8v2.6h-6.8zM38.0 558.2h2.5v2.6h-2.5zM106.8 558.2h2.5v2.6h-2.5zM111.0 558.2h2.5v2.6h-2.5zM33.6 560.4h2.5v2.6h-2.5zM40.1 560.4h2.5v2.6h-2.5zM111.0 560.4h2.5v2.6h-2.5zM31.5 562.5h4.7v2.6h-4.7zM40.1 562.5h4.7v2.6h-4.7zM27.2 564.7h2.5v2.6h-2.5zM31.5 564.7h6.8v2.6h-6.8zM111.0 564.7h2.5v2.6h-2.5zM117.5 564.7h2.5v2.6h-2.5zM29.3 566.9h4.7v2.6h-4.7zM25.0 569.0h2.5v2.6h-2.5zM29.3 569.0h4.7v2.6h-4.7zM25.0 571.2h4.7v2.6h-4.7zM117.5 571.2h4.7v2.6h-4.7zM126.1 571.2h2.5v2.6h-2.5zM20.8 573.3h4.7v2.6h-4.7zM22.9 575.5h2.5v2.6h-2.5zM123.9 575.5h2.5v2.6h-2.5zM20.8 577.6h2.5v2.6h-2.5zM123.9 577.6h2.5v2.6h-2.5zM123.9 579.8h2.5v2.6h-2.5zM130.4 581.9h2.5v2.6h-2.5zM16.4 584.1h2.5v2.6h-2.5zM20.8 584.1h2.5v2.6h-2.5zM128.2 584.1h4.7v2.6h-4.7zM18.6 586.3h4.7v2.6h-4.7zM128.2 586.3h2.5v2.6h-2.5zM16.4 588.4h4.7v2.6h-4.7zM128.2 588.4h4.7v2.6h-4.7zM16.4 590.6h4.7v2.6h-4.7zM130.4 590.6h2.5v2.6h-2.5zM130.4 594.9h4.7v2.6h-4.7zM14.3 597.0h4.7v2.6h-4.7zM130.4 597.0h2.5v2.6h-2.5zM14.3 599.2h2.5v2.6h-2.5zM18.6 599.2h2.5v2.6h-2.5zM128.2 599.2h6.8v2.6h-6.8zM14.3 601.3h4.7v2.6h-4.7zM130.4 601.3h2.5v2.6h-2.5zM130.4 603.5h4.7v2.6h-4.7zM16.4 605.6h2.5v2.6h-2.5zM132.6 605.6h2.5v2.6h-2.5zM16.4 607.8h2.5v2.6h-2.5zM132.6 607.8h2.5v2.6h-2.5zM128.2 610.0h6.8v2.6h-6.8zM16.4 612.1h2.5v2.6h-2.5zM126.1 612.1h4.7v2.6h-4.7zM132.6 612.1h2.5v2.6h-2.5zM16.4 614.3h2.5v2.6h-2.5zM132.6 614.3h2.5v2.6h-2.5zM14.3 616.4h2.5v2.6h-2.5zM18.6 616.4h2.5v2.6h-2.5zM130.4 616.4h2.5v2.6h-2.5zM16.4 618.6h4.7v2.6h-4.7zM128.2 618.6h4.7v2.6h-4.7zM16.4 620.7h4.7v2.6h-4.7zM128.2 620.7h2.5v2.6h-2.5zM18.6 622.9h2.5v2.6h-2.5zM130.4 622.9h2.5v2.6h-2.5zM16.4 625.0h4.7v2.6h-4.7zM128.2 625.0h2.5v2.6h-2.5zM20.8 627.2h4.7v2.6h-4.7zM123.9 627.2h2.5v2.6h-2.5zM128.2 627.2h2.5v2.6h-2.5zM128.2 629.4h2.5v2.6h-2.5zM20.8 631.5h4.7v2.6h-4.7zM123.9 631.5h2.5v2.6h-2.5zM20.8 633.7h2.5v2.6h-2.5zM123.9 633.7h6.8v2.6h-6.8zM22.9 635.8h2.5v2.6h-2.5zM121.8 635.8h2.5v2.6h-2.5zM27.2 638.0h2.5v2.6h-2.5zM123.9 638.0h2.5v2.6h-2.5zM29.3 640.1h2.5v2.6h-2.5zM29.3 642.3h2.5v2.6h-2.5zM117.5 642.3h6.8v2.6h-6.8zM33.6 644.4h2.5v2.6h-2.5zM31.5 646.6h4.7v2.6h-4.7zM113.2 646.6h4.7v2.6h-4.7zM33.6 648.8h4.7v2.6h-4.7zM111.0 648.8h2.5v2.6h-2.5zM35.8 650.9h4.7v2.6h-4.7zM106.8 650.9h4.7v2.6h-4.7zM38.0 653.1h4.7v2.6h-4.7zM100.3 653.1h4.7v2.6h-4.7zM46.5 655.2h4.7v2.6h-4.7zM102.5 655.2h2.5v2.6h-2.5zM111.0 655.2h2.5v2.6h-2.5zM50.9 657.4h2.5v2.6h-2.5zM96.0 657.4h6.8v2.6h-6.8zM50.9 659.5h9.0v2.6h-9.0zM63.8 659.5h2.5v2.6h-2.5zM87.4 659.5h4.7v2.6h-4.7zM96.0 659.5h2.5v2.6h-2.5zM100.3 659.5h2.5v2.6h-2.5zM55.1 661.7h2.5v2.6h-2.5zM61.6 661.7h2.5v2.6h-2.5zM68.0 661.7h2.5v2.6h-2.5zM74.5 661.7h4.7v2.6h-4.7zM81.0 661.7h6.8v2.6h-6.8zM93.8 661.7h4.7v2.6h-4.7zM59.4 663.8h2.5v2.6h-2.5zM63.8 663.8h4.7v2.6h-4.7zM70.2 663.8h4.7v2.6h-4.7zM76.6 663.8h2.5v2.6h-2.5z"/><path fill="#00dbff" d="M63.8 547.5h2.5v2.6h-2.5zM70.2 547.5h2.5v2.6h-2.5zM76.6 547.5h2.5v2.6h-2.5zM59.4 549.6h2.5v2.6h-2.5zM63.8 549.6h2.5v2.6h-2.5zM68.0 549.6h4.7v2.6h-4.7zM76.6 549.6h2.5v2.6h-2.5zM83.1 549.6h2.5v2.6h-2.5zM87.4 549.6h2.5v2.6h-2.5zM93.8 549.6h2.5v2.6h-2.5zM53.0 551.8h4.7v2.6h-4.7zM59.4 551.8h2.5v2.6h-2.5zM63.8 551.8h4.7v2.6h-4.7zM83.1 551.8h4.7v2.6h-4.7zM89.5 551.8h2.5v2.6h-2.5zM96.0 551.8h2.5v2.6h-2.5zM48.7 553.9h4.7v2.6h-4.7zM61.6 553.9h2.5v2.6h-2.5zM85.2 553.9h2.5v2.6h-2.5zM93.8 553.9h2.5v2.6h-2.5zM98.1 553.9h2.5v2.6h-2.5zM102.5 553.9h2.5v2.6h-2.5zM44.4 556.1h6.8v2.6h-6.8zM98.1 556.1h2.5v2.6h-2.5zM102.5 556.1h2.5v2.6h-2.5zM40.1 558.2h4.7v2.6h-4.7zM46.5 558.2h4.7v2.6h-4.7zM100.3 558.2h2.5v2.6h-2.5zM104.6 558.2h2.5v2.6h-2.5zM108.9 558.2h2.5v2.6h-2.5zM38.0 560.4h2.5v2.6h-2.5zM42.2 560.4h2.5v2.6h-2.5zM48.7 560.4h2.5v2.6h-2.5zM106.8 560.4h4.7v2.6h-4.7zM35.8 562.5h4.7v2.6h-4.7zM106.8 562.5h6.8v2.6h-6.8zM38.0 564.7h2.5v2.6h-2.5zM113.2 564.7h2.5v2.6h-2.5zM33.6 566.9h2.5v2.6h-2.5zM113.2 566.9h6.8v2.6h-6.8zM115.3 569.0h4.7v2.6h-4.7zM31.5 571.2h4.7v2.6h-4.7zM27.2 573.3h4.7v2.6h-4.7zM115.3 573.3h2.5v2.6h-2.5zM119.6 573.3h4.7v2.6h-4.7zM25.0 575.5h6.8v2.6h-6.8zM115.3 575.5h9.0v2.6h-9.0zM25.0 577.6h2.5v2.6h-2.5zM29.3 577.6h2.5v2.6h-2.5zM119.6 577.6h4.7v2.6h-4.7zM126.1 577.6h2.5v2.6h-2.5zM22.9 579.8h6.8v2.6h-6.8zM119.6 579.8h2.5v2.6h-2.5zM20.8 581.9h6.8v2.6h-6.8zM123.9 581.9h4.7v2.6h-4.7zM123.9 584.1h4.7v2.6h-4.7zM22.9 586.3h2.5v2.6h-2.5zM20.8 588.4h2.5v2.6h-2.5zM20.8 590.6h2.5v2.6h-2.5zM128.2 590.6h2.5v2.6h-2.5zM14.3 592.7h2.5v2.6h-2.5zM18.6 592.7h4.7v2.6h-4.7zM128.2 592.7h2.5v2.6h-2.5zM18.6 594.9h2.5v2.6h-2.5zM126.1 594.9h2.5v2.6h-2.5zM18.6 597.0h2.5v2.6h-2.5zM128.2 597.0h2.5v2.6h-2.5zM18.6 601.3h2.5v2.6h-2.5zM128.2 601.3h2.5v2.6h-2.5zM16.4 603.5h6.8v2.6h-6.8zM123.9 603.5h2.5v2.6h-2.5zM18.6 605.6h2.5v2.6h-2.5zM126.1 605.6h4.7v2.6h-4.7zM18.6 607.8h2.5v2.6h-2.5zM128.2 607.8h4.7v2.6h-4.7zM14.3 610.0h6.8v2.6h-6.8zM18.6 612.1h2.5v2.6h-2.5zM130.4 614.3h2.5v2.6h-2.5zM22.9 616.4h2.5v2.6h-2.5zM128.2 616.4h2.5v2.6h-2.5zM126.1 618.6h2.5v2.6h-2.5zM20.8 620.7h4.7v2.6h-4.7zM123.9 620.7h2.5v2.6h-2.5zM20.8 622.9h2.5v2.6h-2.5zM126.1 622.9h2.5v2.6h-2.5zM20.8 625.0h6.8v2.6h-6.8zM123.9 625.0h2.5v2.6h-2.5zM126.1 627.2h2.5v2.6h-2.5zM20.8 629.4h6.8v2.6h-6.8zM121.8 629.4h4.7v2.6h-4.7zM25.0 631.5h4.7v2.6h-4.7zM25.0 633.7h2.5v2.6h-2.5zM119.6 633.7h4.7v2.6h-4.7zM25.0 635.8h4.7v2.6h-4.7zM117.5 635.8h2.5v2.6h-2.5zM25.0 638.0h2.5v2.6h-2.5zM29.3 638.0h2.5v2.6h-2.5zM115.3 638.0h2.5v2.6h-2.5zM119.6 638.0h2.5v2.6h-2.5zM33.6 640.1h2.5v2.6h-2.5zM111.0 640.1h6.8v2.6h-6.8zM31.5 642.3h2.5v2.6h-2.5zM38.0 642.3h2.5v2.6h-2.5zM115.3 642.3h2.5v2.6h-2.5zM111.0 644.4h4.7v2.6h-4.7zM38.0 646.6h2.5v2.6h-2.5zM106.8 646.6h4.7v2.6h-4.7zM38.0 648.8h9.0v2.6h-9.0zM104.6 648.8h6.8v2.6h-6.8zM40.1 650.9h2.5v2.6h-2.5zM46.5 650.9h4.7v2.6h-4.7zM98.1 650.9h2.5v2.6h-2.5zM102.5 650.9h4.7v2.6h-4.7zM42.2 653.1h6.8v2.6h-6.8zM50.9 653.1h2.5v2.6h-2.5zM55.1 653.1h2.5v2.6h-2.5zM96.0 653.1h4.7v2.6h-4.7zM104.6 653.1h2.5v2.6h-2.5zM42.2 655.2h4.7v2.6h-4.7zM50.9 655.2h2.5v2.6h-2.5zM55.1 655.2h2.5v2.6h-2.5zM98.1 655.2h4.7v2.6h-4.7zM48.7 657.4h2.5v2.6h-2.5zM57.3 657.4h2.5v2.6h-2.5zM61.6 657.4h2.5v2.6h-2.5zM65.9 657.4h4.7v2.6h-4.7zM83.1 657.4h2.5v2.6h-2.5zM87.4 657.4h2.5v2.6h-2.5zM93.8 657.4h2.5v2.6h-2.5zM61.6 659.5h2.5v2.6h-2.5zM65.9 659.5h4.7v2.6h-4.7zM72.3 659.5h2.5v2.6h-2.5zM78.8 659.5h9.0v2.6h-9.0zM91.7 659.5h2.5v2.6h-2.5zM59.4 661.7h2.5v2.6h-2.5zM65.9 661.7h2.5v2.6h-2.5zM70.2 661.7h4.7v2.6h-4.7zM78.8 661.7h2.5v2.6h-2.5zM87.4 661.7h2.5v2.6h-2.5zM68.0 663.8h2.5v2.6h-2.5z"/><path fill="#00d1ff" d="M72.3 549.6h4.7v2.6h-4.7zM81.0 549.6h2.5v2.6h-2.5zM61.6 551.8h2.5v2.6h-2.5zM68.0 551.8h6.8v2.6h-6.8zM76.6 551.8h6.8v2.6h-6.8zM87.4 551.8h2.5v2.6h-2.5zM53.0 553.9h4.7v2.6h-4.7zM59.4 553.9h2.5v2.6h-2.5zM63.8 553.9h2.5v2.6h-2.5zM70.2 553.9h2.5v2.6h-2.5zM81.0 553.9h4.7v2.6h-4.7zM87.4 553.9h4.7v2.6h-4.7zM53.0 556.1h2.5v2.6h-2.5zM57.3 556.1h2.5v2.6h-2.5zM65.9 556.1h2.5v2.6h-2.5zM74.5 556.1h2.5v2.6h-2.5zM83.1 556.1h2.5v2.6h-2.5zM87.4 556.1h2.5v2.6h-2.5zM91.7 556.1h6.8v2.6h-6.8zM44.4 558.2h2.5v2.6h-2.5zM50.9 558.2h4.7v2.6h-4.7zM98.1 558.2h2.5v2.6h-2.5zM102.5 558.2h2.5v2.6h-2.5zM44.4 560.4h2.5v2.6h-2.5zM98.1 560.4h9.0v2.6h-9.0zM44.4 562.5h2.5v2.6h-2.5zM104.6 562.5h2.5v2.6h-2.5zM40.1 564.7h2.5v2.6h-2.5zM106.8 564.7h4.7v2.6h-4.7zM35.8 566.9h2.5v2.6h-2.5zM111.0 566.9h2.5v2.6h-2.5zM33.6 569.0h4.7v2.6h-4.7zM113.2 569.0h2.5v2.6h-2.5zM29.3 571.2h2.5v2.6h-2.5zM31.5 573.3h2.5v2.6h-2.5zM113.2 575.5h2.5v2.6h-2.5zM27.2 577.6h2.5v2.6h-2.5zM31.5 577.6h2.5v2.6h-2.5zM117.5 577.6h2.5v2.6h-2.5zM117.5 579.8h2.5v2.6h-2.5zM121.8 579.8h2.5v2.6h-2.5zM22.9 584.1h4.7v2.6h-4.7zM121.8 584.1h2.5v2.6h-2.5zM25.0 586.3h4.7v2.6h-4.7zM119.6 586.3h9.0v2.6h-9.0zM25.0 588.4h2.5v2.6h-2.5zM121.8 588.4h6.8v2.6h-6.8zM126.1 590.6h2.5v2.6h-2.5zM22.9 592.7h2.5v2.6h-2.5zM123.9 592.7h4.7v2.6h-4.7zM20.8 594.9h4.7v2.6h-4.7zM128.2 594.9h2.5v2.6h-2.5zM22.9 597.0h2.5v2.6h-2.5zM119.6 597.0h2.5v2.6h-2.5zM123.9 597.0h2.5v2.6h-2.5zM20.8 599.2h4.7v2.6h-4.7zM126.1 599.2h2.5v2.6h-2.5zM20.8 601.3h2.5v2.6h-2.5zM126.1 601.3h2.5v2.6h-2.5zM126.1 603.5h4.7v2.6h-4.7zM20.8 605.6h2.5v2.6h-2.5zM123.9 605.6h2.5v2.6h-2.5zM126.1 607.8h2.5v2.6h-2.5zM20.8 610.0h2.5v2.6h-2.5zM123.9 610.0h4.7v2.6h-4.7zM123.9 612.1h2.5v2.6h-2.5zM18.6 614.3h6.8v2.6h-6.8zM123.9 614.3h6.8v2.6h-6.8zM20.8 616.4h2.5v2.6h-2.5zM126.1 616.4h2.5v2.6h-2.5zM20.8 618.6h4.7v2.6h-4.7zM121.8 620.7h2.5v2.6h-2.5zM126.1 620.7h2.5v2.6h-2.5zM22.9 622.9h4.7v2.6h-4.7zM123.9 622.9h2.5v2.6h-2.5zM29.3 625.0h2.5v2.6h-2.5zM121.8 625.0h2.5v2.6h-2.5zM126.1 625.0h2.5v2.6h-2.5zM25.0 627.2h2.5v2.6h-2.5zM29.3 627.2h2.5v2.6h-2.5zM117.5 627.2h2.5v2.6h-2.5zM121.8 627.2h2.5v2.6h-2.5zM27.2 629.4h2.5v2.6h-2.5zM115.3 631.5h2.5v2.6h-2.5zM119.6 631.5h4.7v2.6h-4.7zM27.2 633.7h4.7v2.6h-4.7zM117.5 633.7h2.5v2.6h-2.5zM29.3 635.8h4.7v2.6h-4.7zM115.3 635.8h2.5v2.6h-2.5zM119.6 635.8h2.5v2.6h-2.5zM31.5 638.0h4.7v2.6h-4.7zM113.2 638.0h2.5v2.6h-2.5zM117.5 638.0h2.5v2.6h-2.5zM31.5 640.1h2.5v2.6h-2.5zM108.9 640.1h2.5v2.6h-2.5zM117.5 640.1h2.5v2.6h-2.5zM33.6 642.3h4.7v2.6h-4.7zM102.5 642.3h2.5v2.6h-2.5zM108.9 642.3h6.8v2.6h-6.8zM38.0 644.4h2.5v2.6h-2.5zM102.5 644.4h9.0v2.6h-9.0zM35.8 646.6h2.5v2.6h-2.5zM40.1 646.6h6.8v2.6h-6.8zM104.6 646.6h2.5v2.6h-2.5zM111.0 646.6h2.5v2.6h-2.5zM46.5 648.8h2.5v2.6h-2.5zM102.5 648.8h2.5v2.6h-2.5zM42.2 650.9h4.7v2.6h-4.7zM50.9 650.9h4.7v2.6h-4.7zM57.3 650.9h2.5v2.6h-2.5zM93.8 650.9h4.7v2.6h-4.7zM48.7 653.1h2.5v2.6h-2.5zM53.0 653.1h2.5v2.6h-2.5zM57.3 653.1h2.5v2.6h-2.5zM87.4 653.1h2.5v2.6h-2.5zM93.8 653.1h2.5v2.6h-2.5zM53.0 655.2h2.5v2.6h-2.5zM59.4 655.2h6.8v2.6h-6.8zM70.2 655.2h2.5v2.6h-2.5zM76.6 655.2h2.5v2.6h-2.5zM81.0 655.2h4.7v2.6h-4.7zM91.7 655.2h6.8v2.6h-6.8zM53.0 657.4h4.7v2.6h-4.7zM70.2 657.4h4.7v2.6h-4.7zM76.6 657.4h6.8v2.6h-6.8zM85.2 657.4h2.5v2.6h-2.5zM89.5 657.4h4.7v2.6h-4.7zM70.2 659.5h2.5v2.6h-2.5zM76.6 659.5h2.5v2.6h-2.5z"/><path fill="#00c7ff" d="M74.5 551.8h2.5v2.6h-2.5zM57.3 553.9h2.5v2.6h-2.5zM65.9 553.9h2.5v2.6h-2.5zM74.5 553.9h2.5v2.6h-2.5zM78.8 553.9h2.5v2.6h-2.5zM91.7 553.9h2.5v2.6h-2.5zM50.9 556.1h2.5v2.6h-2.5zM55.1 556.1h2.5v2.6h-2.5zM59.4 556.1h6.8v2.6h-6.8zM70.2 556.1h2.5v2.6h-2.5zM76.6 556.1h6.8v2.6h-6.8zM85.2 556.1h2.5v2.6h-2.5zM89.5 556.1h2.5v2.6h-2.5zM55.1 558.2h2.5v2.6h-2.5zM59.4 558.2h2.5v2.6h-2.5zM65.9 558.2h2.5v2.6h-2.5zM85.2 558.2h2.5v2.6h-2.5zM91.7 558.2h6.8v2.6h-6.8zM46.5 560.4h2.5v2.6h-2.5zM85.2 560.4h4.7v2.6h-4.7zM96.0 560.4h2.5v2.6h-2.5zM46.5 562.5h6.8v2.6h-6.8zM102.5 562.5h2.5v2.6h-2.5zM42.2 564.7h2.5v2.6h-2.5zM46.5 564.7h2.5v2.6h-2.5zM96.0 564.7h2.5v2.6h-2.5zM100.3 564.7h2.5v2.6h-2.5zM104.6 564.7h2.5v2.6h-2.5zM38.0 566.9h4.7v2.6h-4.7zM44.4 566.9h2.5v2.6h-2.5zM106.8 566.9h4.7v2.6h-4.7zM38.0 569.0h2.5v2.6h-2.5zM42.2 569.0h2.5v2.6h-2.5zM108.9 569.0h2.5v2.6h-2.5zM111.0 571.2h6.8v2.6h-6.8zM33.6 573.3h4.7v2.6h-4.7zM108.9 573.3h6.8v2.6h-6.8zM117.5 573.3h2.5v2.6h-2.5zM113.2 577.6h2.5v2.6h-2.5zM29.3 579.8h2.5v2.6h-2.5zM33.6 579.8h2.5v2.6h-2.5zM27.2 581.9h6.8v2.6h-6.8zM117.5 581.9h2.5v2.6h-2.5zM121.8 581.9h2.5v2.6h-2.5zM27.2 584.1h2.5v2.6h-2.5zM117.5 584.1h4.7v2.6h-4.7zM22.9 588.4h2.5v2.6h-2.5zM27.2 588.4h2.5v2.6h-2.5zM119.6 588.4h2.5v2.6h-2.5zM22.9 590.6h6.8v2.6h-6.8zM121.8 590.6h4.7v2.6h-4.7zM121.8 592.7h2.5v2.6h-2.5zM27.2 594.9h2.5v2.6h-2.5zM119.6 594.9h6.8v2.6h-6.8zM20.8 597.0h2.5v2.6h-2.5zM126.1 597.0h2.5v2.6h-2.5zM25.0 599.2h2.5v2.6h-2.5zM119.6 599.2h4.7v2.6h-4.7zM22.9 601.3h4.7v2.6h-4.7zM119.6 601.3h2.5v2.6h-2.5zM123.9 601.3h2.5v2.6h-2.5zM22.9 603.5h2.5v2.6h-2.5zM27.2 603.5h2.5v2.6h-2.5zM121.8 605.6h2.5v2.6h-2.5zM20.8 607.8h6.8v2.6h-6.8zM121.8 607.8h4.7v2.6h-4.7zM22.9 610.0h2.5v2.6h-2.5zM20.8 612.1h4.7v2.6h-4.7zM121.8 614.3h2.5v2.6h-2.5zM25.0 616.4h2.5v2.6h-2.5zM123.9 616.4h2.5v2.6h-2.5zM25.0 618.6h2.5v2.6h-2.5zM119.6 618.6h2.5v2.6h-2.5zM123.9 618.6h2.5v2.6h-2.5zM25.0 620.7h2.5v2.6h-2.5zM117.5 620.7h4.7v2.6h-4.7zM27.2 622.9h2.5v2.6h-2.5zM119.6 622.9h2.5v2.6h-2.5zM27.2 625.0h2.5v2.6h-2.5zM119.6 625.0h2.5v2.6h-2.5zM27.2 627.2h2.5v2.6h-2.5zM119.6 627.2h2.5v2.6h-2.5zM29.3 629.4h2.5v2.6h-2.5zM115.3 629.4h4.7v2.6h-4.7zM29.3 631.5h2.5v2.6h-2.5zM113.2 631.5h2.5v2.6h-2.5zM117.5 631.5h2.5v2.6h-2.5zM33.6 633.7h2.5v2.6h-2.5zM111.0 633.7h2.5v2.6h-2.5zM115.3 633.7h2.5v2.6h-2.5zM33.6 635.8h2.5v2.6h-2.5zM111.0 635.8h2.5v2.6h-2.5zM35.8 638.0h4.7v2.6h-4.7zM108.9 638.0h4.7v2.6h-4.7zM35.8 640.1h6.8v2.6h-6.8zM102.5 640.1h2.5v2.6h-2.5zM40.1 642.3h2.5v2.6h-2.5zM104.6 642.3h4.7v2.6h-4.7zM35.8 644.4h2.5v2.6h-2.5zM40.1 644.4h6.8v2.6h-6.8zM98.1 644.4h2.5v2.6h-2.5zM48.7 646.6h4.7v2.6h-4.7zM89.5 646.6h2.5v2.6h-2.5zM98.1 646.6h6.8v2.6h-6.8zM50.9 648.8h2.5v2.6h-2.5zM55.1 648.8h2.5v2.6h-2.5zM96.0 648.8h6.8v2.6h-6.8zM55.1 650.9h2.5v2.6h-2.5zM87.4 650.9h6.8v2.6h-6.8zM100.3 650.9h2.5v2.6h-2.5zM59.4 653.1h2.5v2.6h-2.5zM63.8 653.1h13.3v2.6h-13.3zM81.0 653.1h2.5v2.6h-2.5zM85.2 653.1h2.5v2.6h-2.5zM89.5 653.1h4.7v2.6h-4.7zM57.3 655.2h2.5v2.6h-2.5zM65.9 655.2h4.7v2.6h-4.7zM72.3 655.2h4.7v2.6h-4.7zM78.8 655.2h2.5v2.6h-2.5zM85.2 655.2h6.8v2.6h-6.8zM59.4 657.4h2.5v2.6h-2.5zM63.8 657.4h2.5v2.6h-2.5zM74.5 657.4h2.5v2.6h-2.5zM74.5 659.5h2.5v2.6h-2.5z"/><path fill="#00bdff" d="M68.0 553.9h2.5v2.6h-2.5zM72.3 553.9h2.5v2.6h-2.5zM76.6 553.9h2.5v2.6h-2.5zM68.0 556.1h2.5v2.6h-2.5zM72.3 556.1h2.5v2.6h-2.5zM57.3 558.2h2.5v2.6h-2.5zM63.8 558.2h2.5v2.6h-2.5zM70.2 558.2h4.7v2.6h-4.7zM76.6 558.2h2.5v2.6h-2.5zM81.0 558.2h4.7v2.6h-4.7zM89.5 558.2h2.5v2.6h-2.5zM50.9 560.4h13.3v2.6h-13.3zM72.3 560.4h2.5v2.6h-2.5zM81.0 560.4h2.5v2.6h-2.5zM91.7 560.4h4.7v2.6h-4.7zM55.1 562.5h2.5v2.6h-2.5zM83.1 562.5h2.5v2.6h-2.5zM91.7 562.5h11.2v2.6h-11.2zM44.4 564.7h2.5v2.6h-2.5zM48.7 564.7h2.5v2.6h-2.5zM98.1 564.7h2.5v2.6h-2.5zM102.5 564.7h2.5v2.6h-2.5zM42.2 566.9h2.5v2.6h-2.5zM46.5 566.9h2.5v2.6h-2.5zM102.5 566.9h4.7v2.6h-4.7zM40.1 569.0h2.5v2.6h-2.5zM44.4 569.0h2.5v2.6h-2.5zM104.6 569.0h4.7v2.6h-4.7zM111.0 569.0h2.5v2.6h-2.5zM35.8 571.2h4.7v2.6h-4.7zM106.8 571.2h4.7v2.6h-4.7zM40.1 573.3h2.5v2.6h-2.5zM31.5 575.5h6.8v2.6h-6.8zM40.1 575.5h2.5v2.6h-2.5zM108.9 575.5h4.7v2.6h-4.7zM33.6 577.6h2.5v2.6h-2.5zM108.9 577.6h4.7v2.6h-4.7zM115.3 577.6h2.5v2.6h-2.5zM35.8 579.8h2.5v2.6h-2.5zM115.3 579.8h2.5v2.6h-2.5zM33.6 581.9h2.5v2.6h-2.5zM111.0 581.9h2.5v2.6h-2.5zM115.3 581.9h2.5v2.6h-2.5zM119.6 581.9h2.5v2.6h-2.5zM29.3 584.1h4.7v2.6h-4.7zM115.3 584.1h2.5v2.6h-2.5zM29.3 586.3h2.5v2.6h-2.5zM115.3 586.3h4.7v2.6h-4.7zM29.3 588.4h2.5v2.6h-2.5zM117.5 588.4h2.5v2.6h-2.5zM31.5 590.6h2.5v2.6h-2.5zM119.6 590.6h2.5v2.6h-2.5zM25.0 592.7h4.7v2.6h-4.7zM117.5 592.7h4.7v2.6h-4.7zM25.0 594.9h2.5v2.6h-2.5zM25.0 597.0h6.8v2.6h-6.8zM121.8 597.0h2.5v2.6h-2.5zM29.3 599.2h2.5v2.6h-2.5zM123.9 599.2h2.5v2.6h-2.5zM121.8 601.3h2.5v2.6h-2.5zM25.0 603.5h2.5v2.6h-2.5zM22.9 605.6h2.5v2.6h-2.5zM27.2 605.6h2.5v2.6h-2.5zM119.6 605.6h2.5v2.6h-2.5zM119.6 607.8h2.5v2.6h-2.5zM25.0 610.0h4.7v2.6h-4.7zM119.6 610.0h4.7v2.6h-4.7zM25.0 612.1h4.7v2.6h-4.7zM119.6 612.1h4.7v2.6h-4.7zM25.0 614.3h2.5v2.6h-2.5zM117.5 614.3h2.5v2.6h-2.5zM27.2 616.4h4.7v2.6h-4.7zM119.6 616.4h2.5v2.6h-2.5zM29.3 618.6h2.5v2.6h-2.5zM121.8 618.6h2.5v2.6h-2.5zM27.2 620.7h4.7v2.6h-4.7zM29.3 622.9h2.5v2.6h-2.5zM115.3 622.9h2.5v2.6h-2.5zM121.8 622.9h2.5v2.6h-2.5zM31.5 625.0h2.5v2.6h-2.5zM115.3 625.0h4.7v2.6h-4.7zM31.5 627.2h6.8v2.6h-6.8zM115.3 627.2h2.5v2.6h-2.5zM31.5 629.4h2.5v2.6h-2.5zM35.8 629.4h2.5v2.6h-2.5zM111.0 629.4h4.7v2.6h-4.7zM119.6 629.4h2.5v2.6h-2.5zM31.5 631.5h4.7v2.6h-4.7zM38.0 631.5h2.5v2.6h-2.5zM104.6 631.5h2.5v2.6h-2.5zM111.0 631.5h2.5v2.6h-2.5zM31.5 633.7h2.5v2.6h-2.5zM35.8 633.7h2.5v2.6h-2.5zM42.2 633.7h2.5v2.6h-2.5zM113.2 633.7h2.5v2.6h-2.5zM35.8 635.8h4.7v2.6h-4.7zM106.8 635.8h4.7v2.6h-4.7zM113.2 635.8h2.5v2.6h-2.5zM40.1 638.0h2.5v2.6h-2.5zM106.8 638.0h2.5v2.6h-2.5zM106.8 640.1h2.5v2.6h-2.5zM42.2 642.3h9.0v2.6h-9.0zM100.3 642.3h2.5v2.6h-2.5zM46.5 644.4h6.8v2.6h-6.8zM91.7 644.4h2.5v2.6h-2.5zM100.3 644.4h2.5v2.6h-2.5zM46.5 646.6h2.5v2.6h-2.5zM53.0 646.6h6.8v2.6h-6.8zM91.7 646.6h6.8v2.6h-6.8zM48.7 648.8h2.5v2.6h-2.5zM53.0 648.8h2.5v2.6h-2.5zM63.8 648.8h2.5v2.6h-2.5zM68.0 648.8h2.5v2.6h-2.5zM76.6 648.8h4.7v2.6h-4.7zM85.2 648.8h2.5v2.6h-2.5zM89.5 648.8h6.8v2.6h-6.8zM61.6 650.9h13.3v2.6h-13.3zM76.6 650.9h4.7v2.6h-4.7zM83.1 650.9h4.7v2.6h-4.7zM61.6 653.1h2.5v2.6h-2.5zM76.6 653.1h4.7v2.6h-4.7zM83.1 653.1h2.5v2.6h-2.5z"/><path fill="#00b2ff" d="M61.6 558.2h2.5v2.6h-2.5zM68.0 558.2h2.5v2.6h-2.5zM74.5 558.2h2.5v2.6h-2.5zM78.8 558.2h2.5v2.6h-2.5zM87.4 558.2h2.5v2.6h-2.5zM63.8 560.4h6.8v2.6h-6.8zM74.5 560.4h6.8v2.6h-6.8zM89.5 560.4h2.5v2.6h-2.5zM53.0 562.5h2.5v2.6h-2.5zM57.3 562.5h6.8v2.6h-6.8zM70.2 562.5h2.5v2.6h-2.5zM76.6 562.5h4.7v2.6h-4.7zM85.2 562.5h6.8v2.6h-6.8zM50.9 564.7h11.2v2.6h-11.2zM68.0 564.7h2.5v2.6h-2.5zM78.8 564.7h2.5v2.6h-2.5zM91.7 564.7h4.7v2.6h-4.7zM48.7 566.9h6.8v2.6h-6.8zM96.0 566.9h6.8v2.6h-6.8zM46.5 569.0h2.5v2.6h-2.5zM96.0 569.0h2.5v2.6h-2.5zM100.3 569.0h4.7v2.6h-4.7zM40.1 571.2h6.8v2.6h-6.8zM48.7 571.2h2.5v2.6h-2.5zM102.5 571.2h4.7v2.6h-4.7zM38.0 573.3h2.5v2.6h-2.5zM42.2 573.3h2.5v2.6h-2.5zM104.6 573.3h4.7v2.6h-4.7zM38.0 575.5h2.5v2.6h-2.5zM106.8 575.5h2.5v2.6h-2.5zM35.8 577.6h4.7v2.6h-4.7zM31.5 579.8h2.5v2.6h-2.5zM111.0 579.8h4.7v2.6h-4.7zM108.9 581.9h2.5v2.6h-2.5zM113.2 581.9h2.5v2.6h-2.5zM33.6 584.1h4.7v2.6h-4.7zM113.2 584.1h2.5v2.6h-2.5zM31.5 586.3h6.8v2.6h-6.8zM113.2 586.3h2.5v2.6h-2.5zM31.5 588.4h4.7v2.6h-4.7zM115.3 588.4h2.5v2.6h-2.5zM29.3 590.6h2.5v2.6h-2.5zM115.3 590.6h4.7v2.6h-4.7zM29.3 592.7h4.7v2.6h-4.7zM113.2 592.7h4.7v2.6h-4.7zM29.3 594.9h2.5v2.6h-2.5zM117.5 594.9h2.5v2.6h-2.5zM115.3 597.0h4.7v2.6h-4.7zM27.2 599.2h2.5v2.6h-2.5zM117.5 599.2h2.5v2.6h-2.5zM27.2 601.3h4.7v2.6h-4.7zM117.5 601.3h2.5v2.6h-2.5zM29.3 603.5h2.5v2.6h-2.5zM117.5 603.5h6.8v2.6h-6.8zM25.0 605.6h2.5v2.6h-2.5zM27.2 607.8h2.5v2.6h-2.5zM117.5 607.8h2.5v2.6h-2.5zM29.3 610.0h2.5v2.6h-2.5zM117.5 610.0h2.5v2.6h-2.5zM29.3 612.1h2.5v2.6h-2.5zM115.3 612.1h4.7v2.6h-4.7zM27.2 614.3h4.7v2.6h-4.7zM119.6 614.3h2.5v2.6h-2.5zM117.5 616.4h2.5v2.6h-2.5zM121.8 616.4h2.5v2.6h-2.5zM27.2 618.6h2.5v2.6h-2.5zM115.3 618.6h4.7v2.6h-4.7zM31.5 620.7h4.7v2.6h-4.7zM115.3 620.7h2.5v2.6h-2.5zM31.5 622.9h4.7v2.6h-4.7zM111.0 622.9h4.7v2.6h-4.7zM117.5 622.9h2.5v2.6h-2.5zM33.6 625.0h4.7v2.6h-4.7zM111.0 625.0h4.7v2.6h-4.7zM113.2 627.2h2.5v2.6h-2.5zM33.6 629.4h2.5v2.6h-2.5zM35.8 631.5h2.5v2.6h-2.5zM106.8 631.5h4.7v2.6h-4.7zM38.0 633.7h2.5v2.6h-2.5zM108.9 633.7h2.5v2.6h-2.5zM40.1 635.8h4.7v2.6h-4.7zM102.5 635.8h4.7v2.6h-4.7zM42.2 638.0h6.8v2.6h-6.8zM100.3 638.0h2.5v2.6h-2.5zM104.6 638.0h2.5v2.6h-2.5zM44.4 640.1h6.8v2.6h-6.8zM55.1 640.1h4.7v2.6h-4.7zM100.3 640.1h2.5v2.6h-2.5zM104.6 640.1h2.5v2.6h-2.5zM50.9 642.3h2.5v2.6h-2.5zM55.1 642.3h4.7v2.6h-4.7zM91.7 642.3h6.8v2.6h-6.8zM53.0 644.4h6.8v2.6h-6.8zM89.5 644.4h2.5v2.6h-2.5zM93.8 644.4h4.7v2.6h-4.7zM59.4 646.6h4.7v2.6h-4.7zM65.9 646.6h2.5v2.6h-2.5zM74.5 646.6h2.5v2.6h-2.5zM81.0 646.6h2.5v2.6h-2.5zM85.2 646.6h2.5v2.6h-2.5zM57.3 648.8h6.8v2.6h-6.8zM65.9 648.8h2.5v2.6h-2.5zM70.2 648.8h2.5v2.6h-2.5zM83.1 648.8h2.5v2.6h-2.5zM87.4 648.8h2.5v2.6h-2.5zM59.4 650.9h2.5v2.6h-2.5zM74.5 650.9h2.5v2.6h-2.5zM81.0 650.9h2.5v2.6h-2.5z"/><path fill="#00a8ff" d="M70.2 560.4h2.5v2.6h-2.5zM83.1 560.4h2.5v2.6h-2.5zM63.8 562.5h6.8v2.6h-6.8zM72.3 562.5h2.5v2.6h-2.5zM81.0 562.5h2.5v2.6h-2.5zM61.6 564.7h6.8v2.6h-6.8zM70.2 564.7h4.7v2.6h-4.7zM76.6 564.7h2.5v2.6h-2.5zM83.1 564.7h9.0v2.6h-9.0zM55.1 566.9h6.8v2.6h-6.8zM63.8 566.9h2.5v2.6h-2.5zM68.0 566.9h2.5v2.6h-2.5zM72.3 566.9h2.5v2.6h-2.5zM76.6 566.9h4.7v2.6h-4.7zM83.1 566.9h4.7v2.6h-4.7zM89.5 566.9h2.5v2.6h-2.5zM93.8 566.9h2.5v2.6h-2.5zM48.7 569.0h9.0v2.6h-9.0zM93.8 569.0h2.5v2.6h-2.5zM98.1 569.0h2.5v2.6h-2.5zM46.5 571.2h2.5v2.6h-2.5zM91.7 571.2h9.0v2.6h-9.0zM46.5 573.3h4.7v2.6h-4.7zM100.3 573.3h4.7v2.6h-4.7zM102.5 575.5h4.7v2.6h-4.7zM40.1 577.6h2.5v2.6h-2.5zM102.5 577.6h6.8v2.6h-6.8zM38.0 579.8h9.0v2.6h-9.0zM106.8 579.8h4.7v2.6h-4.7zM35.8 581.9h6.8v2.6h-6.8zM106.8 581.9h2.5v2.6h-2.5zM38.0 584.1h2.5v2.6h-2.5zM102.5 584.1h2.5v2.6h-2.5zM108.9 584.1h4.7v2.6h-4.7zM40.1 586.3h2.5v2.6h-2.5zM106.8 586.3h2.5v2.6h-2.5zM111.0 586.3h2.5v2.6h-2.5zM35.8 588.4h4.7v2.6h-4.7zM111.0 588.4h4.7v2.6h-4.7zM33.6 590.6h6.8v2.6h-6.8zM113.2 590.6h2.5v2.6h-2.5zM33.6 592.7h2.5v2.6h-2.5zM31.5 594.9h4.7v2.6h-4.7zM111.0 594.9h2.5v2.6h-2.5zM115.3 594.9h2.5v2.6h-2.5zM31.5 597.0h4.7v2.6h-4.7zM31.5 599.2h2.5v2.6h-2.5zM111.0 599.2h2.5v2.6h-2.5zM115.3 599.2h2.5v2.6h-2.5zM31.5 601.3h4.7v2.6h-4.7zM113.2 601.3h4.7v2.6h-4.7zM31.5 603.5h2.5v2.6h-2.5zM115.3 603.5h2.5v2.6h-2.5zM29.3 605.6h4.7v2.6h-4.7zM35.8 605.6h2.5v2.6h-2.5zM111.0 605.6h2.5v2.6h-2.5zM115.3 605.6h4.7v2.6h-4.7zM29.3 607.8h6.8v2.6h-6.8zM113.2 607.8h4.7v2.6h-4.7zM31.5 610.0h2.5v2.6h-2.5zM113.2 610.0h4.7v2.6h-4.7zM31.5 612.1h4.7v2.6h-4.7zM113.2 612.1h2.5v2.6h-2.5zM31.5 614.3h6.8v2.6h-6.8zM115.3 614.3h2.5v2.6h-2.5zM31.5 616.4h4.7v2.6h-4.7zM111.0 616.4h2.5v2.6h-2.5zM115.3 616.4h2.5v2.6h-2.5zM31.5 618.6h6.8v2.6h-6.8zM108.9 618.6h2.5v2.6h-2.5zM35.8 620.7h2.5v2.6h-2.5zM113.2 620.7h2.5v2.6h-2.5zM35.8 622.9h4.7v2.6h-4.7zM108.9 622.9h2.5v2.6h-2.5zM38.0 625.0h4.7v2.6h-4.7zM108.9 625.0h2.5v2.6h-2.5zM38.0 627.2h4.7v2.6h-4.7zM108.9 627.2h4.7v2.6h-4.7zM38.0 629.4h2.5v2.6h-2.5zM42.2 629.4h2.5v2.6h-2.5zM104.6 629.4h6.8v2.6h-6.8zM40.1 631.5h4.7v2.6h-4.7zM48.7 631.5h2.5v2.6h-2.5zM40.1 633.7h2.5v2.6h-2.5zM98.1 633.7h2.5v2.6h-2.5zM102.5 633.7h6.8v2.6h-6.8zM44.4 635.8h4.7v2.6h-4.7zM53.0 635.8h2.5v2.6h-2.5zM96.0 635.8h2.5v2.6h-2.5zM100.3 635.8h2.5v2.6h-2.5zM55.1 638.0h2.5v2.6h-2.5zM96.0 638.0h2.5v2.6h-2.5zM102.5 638.0h2.5v2.6h-2.5zM42.2 640.1h2.5v2.6h-2.5zM50.9 640.1h4.7v2.6h-4.7zM96.0 640.1h4.7v2.6h-4.7zM53.0 642.3h2.5v2.6h-2.5zM65.9 642.3h2.5v2.6h-2.5zM87.4 642.3h2.5v2.6h-2.5zM98.1 642.3h2.5v2.6h-2.5zM59.4 644.4h2.5v2.6h-2.5zM68.0 644.4h2.5v2.6h-2.5zM72.3 644.4h2.5v2.6h-2.5zM76.6 644.4h2.5v2.6h-2.5zM81.0 644.4h2.5v2.6h-2.5zM85.2 644.4h4.7v2.6h-4.7zM63.8 646.6h2.5v2.6h-2.5zM68.0 646.6h6.8v2.6h-6.8zM78.8 646.6h2.5v2.6h-2.5zM83.1 646.6h2.5v2.6h-2.5zM87.4 646.6h2.5v2.6h-2.5zM72.3 648.8h4.7v2.6h-4.7zM81.0 648.8h2.5v2.6h-2.5z"/><path fill="#009eff" d="M74.5 562.5h2.5v2.6h-2.5zM74.5 564.7h2.5v2.6h-2.5zM81.0 564.7h2.5v2.6h-2.5zM61.6 566.9h2.5v2.6h-2.5zM74.5 566.9h2.5v2.6h-2.5zM81.0 566.9h2.5v2.6h-2.5zM87.4 566.9h2.5v2.6h-2.5zM91.7 566.9h2.5v2.6h-2.5zM57.3 569.0h2.5v2.6h-2.5zM61.6 569.0h2.5v2.6h-2.5zM65.9 569.0h2.5v2.6h-2.5zM72.3 569.0h2.5v2.6h-2.5zM76.6 569.0h9.0v2.6h-9.0zM87.4 569.0h2.5v2.6h-2.5zM91.7 569.0h2.5v2.6h-2.5zM50.9 571.2h6.8v2.6h-6.8zM100.3 571.2h2.5v2.6h-2.5zM44.4 573.3h2.5v2.6h-2.5zM53.0 573.3h2.5v2.6h-2.5zM91.7 573.3h4.7v2.6h-4.7zM98.1 573.3h2.5v2.6h-2.5zM42.2 575.5h11.2v2.6h-11.2zM42.2 577.6h4.7v2.6h-4.7zM100.3 577.6h2.5v2.6h-2.5zM100.3 579.8h4.7v2.6h-4.7zM42.2 581.9h6.8v2.6h-6.8zM104.6 581.9h2.5v2.6h-2.5zM40.1 584.1h2.5v2.6h-2.5zM106.8 584.1h2.5v2.6h-2.5zM38.0 586.3h2.5v2.6h-2.5zM42.2 586.3h2.5v2.6h-2.5zM104.6 586.3h2.5v2.6h-2.5zM108.9 586.3h2.5v2.6h-2.5zM40.1 588.4h2.5v2.6h-2.5zM104.6 588.4h2.5v2.6h-2.5zM108.9 588.4h2.5v2.6h-2.5zM42.2 590.6h2.5v2.6h-2.5zM108.9 590.6h4.7v2.6h-4.7zM35.8 592.7h4.7v2.6h-4.7zM108.9 592.7h4.7v2.6h-4.7zM35.8 594.9h2.5v2.6h-2.5zM106.8 594.9h4.7v2.6h-4.7zM113.2 594.9h2.5v2.6h-2.5zM38.0 597.0h2.5v2.6h-2.5zM111.0 597.0h4.7v2.6h-4.7zM33.6 599.2h4.7v2.6h-4.7zM42.2 599.2h2.5v2.6h-2.5zM113.2 599.2h2.5v2.6h-2.5zM35.8 601.3h2.5v2.6h-2.5zM33.6 603.5h4.7v2.6h-4.7zM113.2 603.5h2.5v2.6h-2.5zM33.6 605.6h2.5v2.6h-2.5zM113.2 605.6h2.5v2.6h-2.5zM35.8 607.8h4.7v2.6h-4.7zM111.0 607.8h2.5v2.6h-2.5zM33.6 610.0h6.8v2.6h-6.8zM35.8 612.1h2.5v2.6h-2.5zM108.9 612.1h2.5v2.6h-2.5zM111.0 614.3h4.7v2.6h-4.7zM35.8 616.4h2.5v2.6h-2.5zM113.2 616.4h2.5v2.6h-2.5zM38.0 618.6h2.5v2.6h-2.5zM111.0 618.6h4.7v2.6h-4.7zM38.0 620.7h4.7v2.6h-4.7zM104.6 620.7h2.5v2.6h-2.5zM108.9 620.7h4.7v2.6h-4.7zM40.1 622.9h2.5v2.6h-2.5zM104.6 625.0h4.7v2.6h-4.7zM42.2 627.2h4.7v2.6h-4.7zM100.3 627.2h2.5v2.6h-2.5zM104.6 627.2h4.7v2.6h-4.7zM40.1 629.4h2.5v2.6h-2.5zM44.4 629.4h2.5v2.6h-2.5zM100.3 629.4h4.7v2.6h-4.7zM44.4 631.5h2.5v2.6h-2.5zM98.1 631.5h6.8v2.6h-6.8zM44.4 633.7h9.0v2.6h-9.0zM100.3 633.7h2.5v2.6h-2.5zM48.7 635.8h4.7v2.6h-4.7zM55.1 635.8h2.5v2.6h-2.5zM59.4 635.8h2.5v2.6h-2.5zM89.5 635.8h2.5v2.6h-2.5zM93.8 635.8h2.5v2.6h-2.5zM98.1 635.8h2.5v2.6h-2.5zM48.7 638.0h6.8v2.6h-6.8zM59.4 638.0h2.5v2.6h-2.5zM93.8 638.0h2.5v2.6h-2.5zM98.1 638.0h2.5v2.6h-2.5zM63.8 640.1h2.5v2.6h-2.5zM72.3 640.1h2.5v2.6h-2.5zM83.1 640.1h6.8v2.6h-6.8zM91.7 640.1h4.7v2.6h-4.7zM59.4 642.3h6.8v2.6h-6.8zM70.2 642.3h4.7v2.6h-4.7zM76.6 642.3h9.0v2.6h-9.0zM89.5 642.3h2.5v2.6h-2.5zM61.6 644.4h6.8v2.6h-6.8zM70.2 644.4h2.5v2.6h-2.5zM78.8 644.4h2.5v2.6h-2.5zM83.1 644.4h2.5v2.6h-2.5zM76.6 646.6h2.5v2.6h-2.5z"/><path fill="#0094ff" d="M65.9 566.9h2.5v2.6h-2.5zM70.2 566.9h2.5v2.6h-2.5zM59.4 569.0h2.5v2.6h-2.5zM63.8 569.0h2.5v2.6h-2.5zM68.0 569.0h4.7v2.6h-4.7zM74.5 569.0h2.5v2.6h-2.5zM85.2 569.0h2.5v2.6h-2.5zM89.5 569.0h2.5v2.6h-2.5zM57.3 571.2h6.8v2.6h-6.8zM65.9 571.2h2.5v2.6h-2.5zM72.3 571.2h6.8v2.6h-6.8zM83.1 571.2h2.5v2.6h-2.5zM87.4 571.2h4.7v2.6h-4.7zM50.9 573.3h2.5v2.6h-2.5zM55.1 573.3h9.0v2.6h-9.0zM78.8 573.3h4.7v2.6h-4.7zM85.2 573.3h2.5v2.6h-2.5zM89.5 573.3h2.5v2.6h-2.5zM96.0 573.3h2.5v2.6h-2.5zM53.0 575.5h4.7v2.6h-4.7zM65.9 575.5h2.5v2.6h-2.5zM91.7 575.5h11.2v2.6h-11.2zM46.5 577.6h9.0v2.6h-9.0zM91.7 577.6h2.5v2.6h-2.5zM98.1 577.6h2.5v2.6h-2.5zM48.7 579.8h4.7v2.6h-4.7zM59.4 579.8h2.5v2.6h-2.5zM93.8 579.8h4.7v2.6h-4.7zM104.6 579.8h2.5v2.6h-2.5zM100.3 581.9h4.7v2.6h-4.7zM44.4 584.1h2.5v2.6h-2.5zM48.7 584.1h2.5v2.6h-2.5zM104.6 584.1h2.5v2.6h-2.5zM42.2 588.4h4.7v2.6h-4.7zM102.5 588.4h2.5v2.6h-2.5zM106.8 588.4h2.5v2.6h-2.5zM106.8 590.6h2.5v2.6h-2.5zM40.1 592.7h4.7v2.6h-4.7zM38.0 594.9h4.7v2.6h-4.7zM104.6 594.9h2.5v2.6h-2.5zM35.8 597.0h2.5v2.6h-2.5zM108.9 597.0h2.5v2.6h-2.5zM38.0 599.2h2.5v2.6h-2.5zM104.6 599.2h2.5v2.6h-2.5zM38.0 601.3h2.5v2.6h-2.5zM108.9 601.3h4.7v2.6h-4.7zM38.0 603.5h4.7v2.6h-4.7zM106.8 603.5h6.8v2.6h-6.8zM38.0 605.6h4.7v2.6h-4.7zM108.9 605.6h2.5v2.6h-2.5zM108.9 607.8h2.5v2.6h-2.5zM40.1 610.0h4.7v2.6h-4.7zM104.6 610.0h9.0v2.6h-9.0zM38.0 612.1h6.8v2.6h-6.8zM106.8 612.1h2.5v2.6h-2.5zM111.0 612.1h2.5v2.6h-2.5zM38.0 614.3h2.5v2.6h-2.5zM108.9 614.3h2.5v2.6h-2.5zM38.0 616.4h4.7v2.6h-4.7zM108.9 616.4h2.5v2.6h-2.5zM40.1 618.6h2.5v2.6h-2.5zM104.6 618.6h4.7v2.6h-4.7zM42.2 620.7h2.5v2.6h-2.5zM46.5 620.7h2.5v2.6h-2.5zM106.8 620.7h2.5v2.6h-2.5zM42.2 622.9h2.5v2.6h-2.5zM46.5 622.9h2.5v2.6h-2.5zM96.0 622.9h2.5v2.6h-2.5zM104.6 622.9h4.7v2.6h-4.7zM42.2 625.0h2.5v2.6h-2.5zM46.5 625.0h2.5v2.6h-2.5zM100.3 625.0h4.7v2.6h-4.7zM46.5 627.2h2.5v2.6h-2.5zM50.9 627.2h2.5v2.6h-2.5zM102.5 627.2h2.5v2.6h-2.5zM48.7 629.4h2.5v2.6h-2.5zM93.8 629.4h2.5v2.6h-2.5zM46.5 631.5h2.5v2.6h-2.5zM50.9 631.5h4.7v2.6h-4.7zM89.5 631.5h2.5v2.6h-2.5zM53.0 633.7h4.7v2.6h-4.7zM61.6 633.7h2.5v2.6h-2.5zM65.9 633.7h2.5v2.6h-2.5zM93.8 633.7h4.7v2.6h-4.7zM61.6 635.8h2.5v2.6h-2.5zM85.2 635.8h4.7v2.6h-4.7zM91.7 635.8h2.5v2.6h-2.5zM61.6 638.0h4.7v2.6h-4.7zM70.2 638.0h2.5v2.6h-2.5zM81.0 638.0h9.0v2.6h-9.0zM91.7 638.0h2.5v2.6h-2.5zM59.4 640.1h4.7v2.6h-4.7zM65.9 640.1h4.7v2.6h-4.7zM74.5 640.1h2.5v2.6h-2.5zM78.8 640.1h4.7v2.6h-4.7zM89.5 640.1h2.5v2.6h-2.5zM74.5 642.3h2.5v2.6h-2.5zM85.2 642.3h2.5v2.6h-2.5zM74.5 644.4h2.5v2.6h-2.5z"/><path fill="#008aff" d="M63.8 571.2h2.5v2.6h-2.5zM68.0 571.2h4.7v2.6h-4.7zM78.8 571.2h2.5v2.6h-2.5zM85.2 571.2h2.5v2.6h-2.5zM63.8 573.3h15.4v2.6h-15.4zM83.1 573.3h2.5v2.6h-2.5zM57.3 575.5h2.5v2.6h-2.5zM63.8 575.5h2.5v2.6h-2.5zM68.0 575.5h2.5v2.6h-2.5zM72.3 575.5h2.5v2.6h-2.5zM81.0 575.5h2.5v2.6h-2.5zM87.4 575.5h4.7v2.6h-4.7zM59.4 577.6h2.5v2.6h-2.5zM81.0 577.6h2.5v2.6h-2.5zM85.2 577.6h2.5v2.6h-2.5zM89.5 577.6h2.5v2.6h-2.5zM93.8 577.6h4.7v2.6h-4.7zM46.5 579.8h2.5v2.6h-2.5zM57.3 579.8h2.5v2.6h-2.5zM98.1 579.8h2.5v2.6h-2.5zM48.7 581.9h2.5v2.6h-2.5zM53.0 581.9h2.5v2.6h-2.5zM96.0 581.9h4.7v2.6h-4.7zM42.2 584.1h2.5v2.6h-2.5zM46.5 584.1h2.5v2.6h-2.5zM53.0 584.1h2.5v2.6h-2.5zM96.0 584.1h2.5v2.6h-2.5zM100.3 584.1h2.5v2.6h-2.5zM44.4 586.3h4.7v2.6h-4.7zM96.0 586.3h2.5v2.6h-2.5zM100.3 586.3h2.5v2.6h-2.5zM96.0 588.4h6.8v2.6h-6.8zM40.1 590.6h2.5v2.6h-2.5zM44.4 590.6h4.7v2.6h-4.7zM102.5 590.6h4.7v2.6h-4.7zM44.4 592.7h2.5v2.6h-2.5zM104.6 592.7h4.7v2.6h-4.7zM42.2 594.9h4.7v2.6h-4.7zM102.5 594.9h2.5v2.6h-2.5zM40.1 597.0h6.8v2.6h-6.8zM102.5 597.0h6.8v2.6h-6.8zM40.1 599.2h2.5v2.6h-2.5zM46.5 599.2h2.5v2.6h-2.5zM106.8 599.2h4.7v2.6h-4.7zM40.1 601.3h4.7v2.6h-4.7zM106.8 601.3h2.5v2.6h-2.5zM104.6 603.5h2.5v2.6h-2.5zM42.2 605.6h4.7v2.6h-4.7zM102.5 605.6h2.5v2.6h-2.5zM106.8 605.6h2.5v2.6h-2.5zM40.1 607.8h4.7v2.6h-4.7zM104.6 607.8h4.7v2.6h-4.7zM44.4 612.1h2.5v2.6h-2.5zM104.6 612.1h2.5v2.6h-2.5zM40.1 614.3h4.7v2.6h-4.7zM100.3 614.3h4.7v2.6h-4.7zM106.8 614.3h2.5v2.6h-2.5zM42.2 616.4h4.7v2.6h-4.7zM102.5 616.4h6.8v2.6h-6.8zM42.2 618.6h6.8v2.6h-6.8zM100.3 620.7h4.7v2.6h-4.7zM44.4 622.9h2.5v2.6h-2.5zM48.7 622.9h4.7v2.6h-4.7zM91.7 622.9h2.5v2.6h-2.5zM98.1 622.9h2.5v2.6h-2.5zM102.5 622.9h2.5v2.6h-2.5zM44.4 625.0h2.5v2.6h-2.5zM48.7 625.0h2.5v2.6h-2.5zM96.0 625.0h4.7v2.6h-4.7zM48.7 627.2h2.5v2.6h-2.5zM55.1 627.2h2.5v2.6h-2.5zM93.8 627.2h6.8v2.6h-6.8zM46.5 629.4h2.5v2.6h-2.5zM50.9 629.4h6.8v2.6h-6.8zM91.7 629.4h2.5v2.6h-2.5zM96.0 629.4h4.7v2.6h-4.7zM57.3 631.5h2.5v2.6h-2.5zM87.4 631.5h2.5v2.6h-2.5zM93.8 631.5h4.7v2.6h-4.7zM59.4 633.7h2.5v2.6h-2.5zM68.0 633.7h2.5v2.6h-2.5zM83.1 633.7h2.5v2.6h-2.5zM87.4 633.7h6.8v2.6h-6.8zM57.3 635.8h2.5v2.6h-2.5zM63.8 635.8h2.5v2.6h-2.5zM70.2 635.8h2.5v2.6h-2.5zM74.5 635.8h11.2v2.6h-11.2zM57.3 638.0h2.5v2.6h-2.5zM65.9 638.0h4.7v2.6h-4.7zM76.6 638.0h4.7v2.6h-4.7zM89.5 638.0h2.5v2.6h-2.5zM70.2 640.1h2.5v2.6h-2.5zM76.6 640.1h2.5v2.6h-2.5zM68.0 642.3h2.5v2.6h-2.5z"/><path fill="#0080ff" d="M81.0 571.2h2.5v2.6h-2.5zM87.4 573.3h2.5v2.6h-2.5zM59.4 575.5h4.7v2.6h-4.7zM70.2 575.5h2.5v2.6h-2.5zM74.5 575.5h6.8v2.6h-6.8zM83.1 575.5h4.7v2.6h-4.7zM55.1 577.6h4.7v2.6h-4.7zM61.6 577.6h2.5v2.6h-2.5zM74.5 577.6h6.8v2.6h-6.8zM83.1 577.6h2.5v2.6h-2.5zM87.4 577.6h2.5v2.6h-2.5zM55.1 579.8h2.5v2.6h-2.5zM61.6 579.8h6.8v2.6h-6.8zM83.1 579.8h6.8v2.6h-6.8zM91.7 579.8h2.5v2.6h-2.5zM50.9 581.9h2.5v2.6h-2.5zM55.1 581.9h2.5v2.6h-2.5zM59.4 581.9h2.5v2.6h-2.5zM50.9 584.1h2.5v2.6h-2.5zM89.5 584.1h6.8v2.6h-6.8zM98.1 584.1h2.5v2.6h-2.5zM48.7 586.3h2.5v2.6h-2.5zM53.0 586.3h2.5v2.6h-2.5zM98.1 586.3h2.5v2.6h-2.5zM102.5 586.3h2.5v2.6h-2.5zM46.5 588.4h2.5v2.6h-2.5zM96.0 590.6h2.5v2.6h-2.5zM100.3 590.6h2.5v2.6h-2.5zM46.5 592.7h2.5v2.6h-2.5zM98.1 592.7h2.5v2.6h-2.5zM102.5 592.7h2.5v2.6h-2.5zM46.5 594.9h2.5v2.6h-2.5zM100.3 597.0h2.5v2.6h-2.5zM44.4 599.2h2.5v2.6h-2.5zM48.7 599.2h2.5v2.6h-2.5zM44.4 601.3h2.5v2.6h-2.5zM96.0 601.3h2.5v2.6h-2.5zM100.3 601.3h2.5v2.6h-2.5zM104.6 601.3h2.5v2.6h-2.5zM42.2 603.5h6.8v2.6h-6.8zM100.3 603.5h2.5v2.6h-2.5zM104.6 605.6h2.5v2.6h-2.5zM44.4 607.8h2.5v2.6h-2.5zM48.7 607.8h2.5v2.6h-2.5zM100.3 607.8h2.5v2.6h-2.5zM44.4 610.0h4.7v2.6h-4.7zM102.5 610.0h2.5v2.6h-2.5zM46.5 612.1h2.5v2.6h-2.5zM102.5 612.1h2.5v2.6h-2.5zM44.4 614.3h4.7v2.6h-4.7zM104.6 614.3h2.5v2.6h-2.5zM46.5 616.4h2.5v2.6h-2.5zM100.3 616.4h2.5v2.6h-2.5zM48.7 618.6h2.5v2.6h-2.5zM96.0 618.6h9.0v2.6h-9.0zM44.4 620.7h2.5v2.6h-2.5zM48.7 620.7h4.7v2.6h-4.7zM96.0 620.7h2.5v2.6h-2.5zM53.0 622.9h2.5v2.6h-2.5zM100.3 622.9h2.5v2.6h-2.5zM50.9 625.0h4.7v2.6h-4.7zM91.7 625.0h4.7v2.6h-4.7zM53.0 627.2h2.5v2.6h-2.5zM89.5 627.2h2.5v2.6h-2.5zM57.3 629.4h2.5v2.6h-2.5zM65.9 629.4h2.5v2.6h-2.5zM85.2 629.4h2.5v2.6h-2.5zM89.5 629.4h2.5v2.6h-2.5zM55.1 631.5h2.5v2.6h-2.5zM59.4 631.5h4.7v2.6h-4.7zM68.0 631.5h4.7v2.6h-4.7zM76.6 631.5h6.8v2.6h-6.8zM85.2 631.5h2.5v2.6h-2.5zM91.7 631.5h2.5v2.6h-2.5zM57.3 633.7h2.5v2.6h-2.5zM63.8 633.7h2.5v2.6h-2.5zM70.2 633.7h4.7v2.6h-4.7zM78.8 633.7h4.7v2.6h-4.7zM85.2 633.7h2.5v2.6h-2.5zM65.9 635.8h4.7v2.6h-4.7zM72.3 635.8h2.5v2.6h-2.5zM72.3 638.0h4.7v2.6h-4.7z"/><path fill="#0075ff" d="M63.8 577.6h11.2v2.6h-11.2zM53.0 579.8h2.5v2.6h-2.5zM68.0 579.8h15.4v2.6h-15.4zM89.5 579.8h2.5v2.6h-2.5zM57.3 581.9h2.5v2.6h-2.5zM61.6 581.9h2.5v2.6h-2.5zM74.5 581.9h2.5v2.6h-2.5zM78.8 581.9h2.5v2.6h-2.5zM83.1 581.9h4.7v2.6h-4.7zM89.5 581.9h6.8v2.6h-6.8zM57.3 584.1h6.8v2.6h-6.8zM85.2 584.1h2.5v2.6h-2.5zM50.9 586.3h2.5v2.6h-2.5zM55.1 586.3h2.5v2.6h-2.5zM59.4 586.3h2.5v2.6h-2.5zM85.2 586.3h2.5v2.6h-2.5zM89.5 586.3h6.8v2.6h-6.8zM48.7 588.4h6.8v2.6h-6.8zM59.4 588.4h2.5v2.6h-2.5zM87.4 588.4h2.5v2.6h-2.5zM91.7 588.4h4.7v2.6h-4.7zM48.7 590.6h6.8v2.6h-6.8zM59.4 590.6h2.5v2.6h-2.5zM48.7 592.7h4.7v2.6h-4.7zM93.8 592.7h4.7v2.6h-4.7zM100.3 592.7h2.5v2.6h-2.5zM48.7 594.9h4.7v2.6h-4.7zM91.7 594.9h11.2v2.6h-11.2zM46.5 597.0h9.0v2.6h-9.0zM93.8 597.0h2.5v2.6h-2.5zM98.1 597.0h2.5v2.6h-2.5zM96.0 599.2h9.0v2.6h-9.0zM46.5 601.3h4.7v2.6h-4.7zM98.1 601.3h2.5v2.6h-2.5zM102.5 601.3h2.5v2.6h-2.5zM48.7 603.5h4.7v2.6h-4.7zM102.5 603.5h2.5v2.6h-2.5zM46.5 605.6h2.5v2.6h-2.5zM96.0 605.6h2.5v2.6h-2.5zM100.3 605.6h2.5v2.6h-2.5zM50.9 607.8h2.5v2.6h-2.5zM98.1 607.8h2.5v2.6h-2.5zM102.5 607.8h2.5v2.6h-2.5zM48.7 610.0h2.5v2.6h-2.5zM96.0 610.0h6.8v2.6h-6.8zM48.7 612.1h4.7v2.6h-4.7zM100.3 612.1h2.5v2.6h-2.5zM48.7 614.3h2.5v2.6h-2.5zM48.7 616.4h4.7v2.6h-4.7zM93.8 616.4h6.8v2.6h-6.8zM50.9 618.6h2.5v2.6h-2.5zM91.7 618.6h4.7v2.6h-4.7zM59.4 620.7h2.5v2.6h-2.5zM83.1 620.7h2.5v2.6h-2.5zM87.4 620.7h2.5v2.6h-2.5zM98.1 620.7h2.5v2.6h-2.5zM57.3 622.9h2.5v2.6h-2.5zM87.4 622.9h4.7v2.6h-4.7zM93.8 622.9h2.5v2.6h-2.5zM55.1 625.0h4.7v2.6h-4.7zM85.2 625.0h4.7v2.6h-4.7zM57.3 627.2h2.5v2.6h-2.5zM63.8 627.2h4.7v2.6h-4.7zM76.6 627.2h2.5v2.6h-2.5zM81.0 627.2h4.7v2.6h-4.7zM87.4 627.2h2.5v2.6h-2.5zM91.7 627.2h2.5v2.6h-2.5zM59.4 629.4h4.7v2.6h-4.7zM68.0 629.4h4.7v2.6h-4.7zM78.8 629.4h2.5v2.6h-2.5zM83.1 629.4h2.5v2.6h-2.5zM87.4 629.4h2.5v2.6h-2.5zM63.8 631.5h4.7v2.6h-4.7zM72.3 631.5h4.7v2.6h-4.7zM83.1 631.5h2.5v2.6h-2.5zM74.5 633.7h4.7v2.6h-4.7z"/><path fill="#006bff" d="M63.8 581.9h9.0v2.6h-9.0zM76.6 581.9h2.5v2.6h-2.5zM87.4 581.9h2.5v2.6h-2.5zM55.1 584.1h2.5v2.6h-2.5zM72.3 584.1h4.7v2.6h-4.7zM83.1 584.1h2.5v2.6h-2.5zM87.4 584.1h2.5v2.6h-2.5zM57.3 586.3h2.5v2.6h-2.5zM61.6 586.3h6.8v2.6h-6.8zM87.4 586.3h2.5v2.6h-2.5zM55.1 588.4h4.7v2.6h-4.7zM76.6 588.4h2.5v2.6h-2.5zM55.1 590.6h2.5v2.6h-2.5zM91.7 590.6h4.7v2.6h-4.7zM98.1 590.6h2.5v2.6h-2.5zM55.1 592.7h4.7v2.6h-4.7zM91.7 592.7h2.5v2.6h-2.5zM53.0 594.9h6.8v2.6h-6.8zM96.0 597.0h2.5v2.6h-2.5zM50.9 599.2h2.5v2.6h-2.5zM55.1 599.2h2.5v2.6h-2.5zM50.9 601.3h2.5v2.6h-2.5zM55.1 601.3h2.5v2.6h-2.5zM93.8 601.3h2.5v2.6h-2.5zM55.1 603.5h2.5v2.6h-2.5zM89.5 603.5h2.5v2.6h-2.5zM93.8 603.5h6.8v2.6h-6.8zM48.7 605.6h4.7v2.6h-4.7zM93.8 605.6h2.5v2.6h-2.5zM98.1 605.6h2.5v2.6h-2.5zM46.5 607.8h2.5v2.6h-2.5zM53.0 607.8h4.7v2.6h-4.7zM93.8 607.8h4.7v2.6h-4.7zM50.9 610.0h2.5v2.6h-2.5zM55.1 610.0h2.5v2.6h-2.5zM93.8 610.0h2.5v2.6h-2.5zM53.0 612.1h2.5v2.6h-2.5zM91.7 612.1h2.5v2.6h-2.5zM96.0 612.1h4.7v2.6h-4.7zM50.9 614.3h6.8v2.6h-6.8zM91.7 614.3h9.0v2.6h-9.0zM53.0 616.4h4.7v2.6h-4.7zM53.0 618.6h6.8v2.6h-6.8zM89.5 618.6h2.5v2.6h-2.5zM53.0 620.7h4.7v2.6h-4.7zM63.8 620.7h4.7v2.6h-4.7zM76.6 620.7h2.5v2.6h-2.5zM89.5 620.7h6.8v2.6h-6.8zM55.1 622.9h2.5v2.6h-2.5zM59.4 622.9h2.5v2.6h-2.5zM70.2 622.9h4.7v2.6h-4.7zM85.2 622.9h2.5v2.6h-2.5zM59.4 625.0h11.2v2.6h-11.2zM72.3 625.0h4.7v2.6h-4.7zM81.0 625.0h2.5v2.6h-2.5zM89.5 625.0h2.5v2.6h-2.5zM59.4 627.2h4.7v2.6h-4.7zM68.0 627.2h9.0v2.6h-9.0zM78.8 627.2h2.5v2.6h-2.5zM85.2 627.2h2.5v2.6h-2.5zM63.8 629.4h2.5v2.6h-2.5zM72.3 629.4h2.5v2.6h-2.5zM76.6 629.4h2.5v2.6h-2.5zM81.0 629.4h2.5v2.6h-2.5z"/><path fill="#0061ff" d="M72.3 581.9h2.5v2.6h-2.5zM81.0 581.9h2.5v2.6h-2.5zM63.8 584.1h9.0v2.6h-9.0zM76.6 584.1h6.8v2.6h-6.8zM68.0 586.3h4.7v2.6h-4.7zM76.6 586.3h9.0v2.6h-9.0zM61.6 588.4h4.7v2.6h-4.7zM81.0 588.4h6.8v2.6h-6.8zM89.5 588.4h2.5v2.6h-2.5zM57.3 590.6h2.5v2.6h-2.5zM61.6 590.6h6.8v2.6h-6.8zM83.1 590.6h2.5v2.6h-2.5zM87.4 590.6h4.7v2.6h-4.7zM53.0 592.7h2.5v2.6h-2.5zM59.4 592.7h4.7v2.6h-4.7zM83.1 592.7h2.5v2.6h-2.5zM89.5 592.7h2.5v2.6h-2.5zM87.4 594.9h4.7v2.6h-4.7zM87.4 597.0h6.8v2.6h-6.8zM53.0 599.2h2.5v2.6h-2.5zM57.3 599.2h2.5v2.6h-2.5zM53.0 601.3h2.5v2.6h-2.5zM57.3 601.3h2.5v2.6h-2.5zM89.5 601.3h4.7v2.6h-4.7zM53.0 603.5h2.5v2.6h-2.5zM53.0 605.6h6.8v2.6h-6.8zM91.7 605.6h2.5v2.6h-2.5zM91.7 607.8h2.5v2.6h-2.5zM53.0 610.0h2.5v2.6h-2.5zM59.4 610.0h2.5v2.6h-2.5zM87.4 610.0h2.5v2.6h-2.5zM55.1 612.1h6.8v2.6h-6.8zM89.5 612.1h2.5v2.6h-2.5zM93.8 612.1h2.5v2.6h-2.5zM59.4 614.3h4.7v2.6h-4.7zM57.3 616.4h6.8v2.6h-6.8zM87.4 616.4h6.8v2.6h-6.8zM59.4 618.6h6.8v2.6h-6.8zM85.2 618.6h4.7v2.6h-4.7zM57.3 620.7h2.5v2.6h-2.5zM61.6 620.7h2.5v2.6h-2.5zM72.3 620.7h4.7v2.6h-4.7zM81.0 620.7h2.5v2.6h-2.5zM85.2 620.7h2.5v2.6h-2.5zM61.6 622.9h6.8v2.6h-6.8zM74.5 622.9h9.0v2.6h-9.0zM70.2 625.0h2.5v2.6h-2.5zM76.6 625.0h4.7v2.6h-4.7zM83.1 625.0h2.5v2.6h-2.5zM74.5 629.4h2.5v2.6h-2.5z"/><path fill="#0057ff" d="M72.3 586.3h4.7v2.6h-4.7zM65.9 588.4h11.2v2.6h-11.2zM78.8 588.4h2.5v2.6h-2.5zM68.0 590.6h4.7v2.6h-4.7zM74.5 590.6h2.5v2.6h-2.5zM81.0 590.6h2.5v2.6h-2.5zM85.2 590.6h2.5v2.6h-2.5zM63.8 592.7h2.5v2.6h-2.5zM72.3 592.7h2.5v2.6h-2.5zM78.8 592.7h4.7v2.6h-4.7zM85.2 592.7h4.7v2.6h-4.7zM59.4 594.9h2.5v2.6h-2.5zM63.8 594.9h2.5v2.6h-2.5zM81.0 594.9h2.5v2.6h-2.5zM85.2 594.9h2.5v2.6h-2.5zM55.1 597.0h6.8v2.6h-6.8zM59.4 599.2h2.5v2.6h-2.5zM87.4 599.2h2.5v2.6h-2.5zM91.7 599.2h4.7v2.6h-4.7zM59.4 601.3h2.5v2.6h-2.5zM85.2 601.3h4.7v2.6h-4.7zM57.3 603.5h4.7v2.6h-4.7zM87.4 603.5h2.5v2.6h-2.5zM91.7 603.5h2.5v2.6h-2.5zM59.4 605.6h4.7v2.6h-4.7zM89.5 605.6h2.5v2.6h-2.5zM57.3 607.8h4.7v2.6h-4.7zM83.1 607.8h2.5v2.6h-2.5zM87.4 607.8h4.7v2.6h-4.7zM57.3 610.0h2.5v2.6h-2.5zM89.5 610.0h4.7v2.6h-4.7zM83.1 612.1h4.7v2.6h-4.7zM63.8 614.3h2.5v2.6h-2.5zM83.1 614.3h9.0v2.6h-9.0zM63.8 616.4h2.5v2.6h-2.5zM72.3 616.4h4.7v2.6h-4.7zM83.1 616.4h4.7v2.6h-4.7zM65.9 618.6h4.7v2.6h-4.7zM74.5 618.6h2.5v2.6h-2.5zM78.8 618.6h6.8v2.6h-6.8zM68.0 620.7h4.7v2.6h-4.7zM78.8 620.7h2.5v2.6h-2.5zM68.0 622.9h2.5v2.6h-2.5zM83.1 622.9h2.5v2.6h-2.5z"/><path fill="#004dff" d="M72.3 590.6h2.5v2.6h-2.5zM76.6 590.6h4.7v2.6h-4.7zM65.9 592.7h2.5v2.6h-2.5zM70.2 592.7h2.5v2.6h-2.5zM74.5 592.7h4.7v2.6h-4.7zM61.6 594.9h2.5v2.6h-2.5zM68.0 594.9h13.3v2.6h-13.3zM83.1 594.9h2.5v2.6h-2.5zM65.9 597.0h2.5v2.6h-2.5zM70.2 597.0h2.5v2.6h-2.5zM81.0 597.0h6.8v2.6h-6.8zM61.6 599.2h4.7v2.6h-4.7zM83.1 599.2h4.7v2.6h-4.7zM89.5 599.2h2.5v2.6h-2.5zM61.6 601.3h2.5v2.6h-2.5zM61.6 603.5h2.5v2.6h-2.5zM65.9 603.5h2.5v2.6h-2.5zM83.1 603.5h4.7v2.6h-4.7zM81.0 605.6h2.5v2.6h-2.5zM85.2 605.6h4.7v2.6h-4.7zM61.6 607.8h4.7v2.6h-4.7zM85.2 607.8h2.5v2.6h-2.5zM61.6 610.0h9.0v2.6h-9.0zM83.1 610.0h2.5v2.6h-2.5zM61.6 612.1h2.5v2.6h-2.5zM68.0 612.1h4.7v2.6h-4.7zM76.6 612.1h2.5v2.6h-2.5zM87.4 612.1h2.5v2.6h-2.5zM57.3 614.3h2.5v2.6h-2.5zM78.8 614.3h4.7v2.6h-4.7zM65.9 616.4h6.8v2.6h-6.8zM76.6 616.4h6.8v2.6h-6.8zM70.2 618.6h4.7v2.6h-4.7zM76.6 618.6h2.5v2.6h-2.5z"/><path fill="#0042ff" d="M68.0 592.7h2.5v2.6h-2.5zM61.6 597.0h4.7v2.6h-4.7zM68.0 597.0h2.5v2.6h-2.5zM72.3 597.0h9.0v2.6h-9.0zM65.9 599.2h2.5v2.6h-2.5zM70.2 599.2h2.5v2.6h-2.5zM78.8 599.2h4.7v2.6h-4.7zM63.8 601.3h2.5v2.6h-2.5zM72.3 601.3h2.5v2.6h-2.5zM76.6 601.3h4.7v2.6h-4.7zM83.1 601.3h2.5v2.6h-2.5zM63.8 603.5h2.5v2.6h-2.5zM81.0 603.5h2.5v2.6h-2.5zM63.8 605.6h4.7v2.6h-4.7zM65.9 607.8h2.5v2.6h-2.5zM76.6 607.8h6.8v2.6h-6.8zM81.0 610.0h2.5v2.6h-2.5zM85.2 610.0h2.5v2.6h-2.5zM63.8 612.1h4.7v2.6h-4.7zM74.5 612.1h2.5v2.6h-2.5zM81.0 612.1h2.5v2.6h-2.5zM65.9 614.3h13.3v2.6h-13.3z"/><path fill="#0038ff" d="M65.9 594.9h2.5v2.6h-2.5zM68.0 599.2h2.5v2.6h-2.5zM72.3 599.2h2.5v2.6h-2.5zM76.6 599.2h2.5v2.6h-2.5zM65.9 601.3h6.8v2.6h-6.8zM74.5 601.3h2.5v2.6h-2.5zM81.0 601.3h2.5v2.6h-2.5zM68.0 603.5h4.7v2.6h-4.7zM74.5 603.5h6.8v2.6h-6.8zM68.0 605.6h4.7v2.6h-4.7zM76.6 605.6h4.7v2.6h-4.7zM83.1 605.6h2.5v2.6h-2.5zM68.0 607.8h6.8v2.6h-6.8zM72.3 610.0h2.5v2.6h-2.5zM76.6 610.0h4.7v2.6h-4.7zM72.3 612.1h2.5v2.6h-2.5zM78.8 612.1h2.5v2.6h-2.5z"/><path fill="#002eff" d="M74.5 599.2h2.5v2.6h-2.5zM72.3 603.5h2.5v2.6h-2.5zM72.3 605.6h4.7v2.6h-4.7zM74.5 607.8h2.5v2.6h-2.5zM70.2 610.0h2.5v2.6h-2.5zM74.5 610.0h2.5v2.6h-2.5z"/></g>
<path d="M157,540 L282,540 L282,542 L284,542 L284,668 L282,668 L282,670 L157,670 L157,668 L155,668 L155,542 L157,542 Z" fill="url(#gh2)"/>
<g clip-path="url(#ch2)"><path fill="#8aff75" d="M155.0 540.0h3.1v3.1h-3.1zM281.3 542.7h3.1v3.1h-3.1zM281.3 661.9h3.1v3.1h-3.1zM273.2 664.6h3.1v3.1h-3.1zM273.2 667.3h3.1v3.1h-3.1z"/><path fill="#75ff8a" d="M157.7 540.0h5.8v3.1h-5.8zM157.7 542.7h3.1v3.1h-3.1zM165.8 542.7h3.1v3.1h-3.1zM157.7 545.4h3.1v3.1h-3.1zM281.3 545.4h3.1v3.1h-3.1zM281.3 548.1h3.1v3.1h-3.1zM281.3 550.8h3.1v3.1h-3.1zM281.3 653.8h3.1v3.1h-3.1zM155.0 656.5h3.1v3.1h-3.1zM281.3 656.5h3.1v3.1h-3.1zM155.0 659.2h3.1v3.1h-3.1zM273.2 659.2h11.2v3.1h-11.2zM273.2 661.9h3.1v3.1h-3.1zM155.0 664.6h3.1v3.1h-3.1zM270.6 664.6h3.1v3.1h-3.1z"/><path fill="#6bff94" d="M163.1 540.0h8.5v3.1h-8.5zM273.2 540.0h3.1v3.1h-3.1zM160.4 542.7h3.1v3.1h-3.1zM273.2 542.7h8.5v3.1h-8.5zM163.1 545.4h3.1v3.1h-3.1zM275.9 545.4h5.8v3.1h-5.8zM155.0 640.2h3.1v3.1h-3.1zM155.0 645.6h5.8v3.1h-5.8zM155.0 648.3h3.1v3.1h-3.1zM278.6 651.0h3.1v3.1h-3.1zM155.0 653.8h3.1v3.1h-3.1zM270.6 653.8h3.1v3.1h-3.1zM270.6 656.5h5.8v3.1h-5.8zM278.6 656.5h3.1v3.1h-3.1zM270.6 659.2h3.1v3.1h-3.1zM157.7 661.9h3.1v3.1h-3.1zM270.6 661.9h3.1v3.1h-3.1zM157.7 664.6h3.1v3.1h-3.1zM157.7 667.3h3.1v3.1h-3.1zM265.2 667.3h8.5v3.1h-8.5z"/><path fill="#61ff9e" d="M171.1 540.0h5.8v3.1h-5.8zM262.5 540.0h3.1v3.1h-3.1zM267.9 540.0h3.1v3.1h-3.1zM168.4 542.7h3.1v3.1h-3.1zM155.0 545.4h3.1v3.1h-3.1zM160.4 545.4h3.1v3.1h-3.1zM273.2 545.4h3.1v3.1h-3.1zM155.0 548.1h8.5v3.1h-8.5zM275.9 548.1h5.8v3.1h-5.8zM155.0 550.8h5.8v3.1h-5.8zM155.0 553.5h3.1v3.1h-3.1zM281.3 553.5h3.1v3.1h-3.1zM155.0 642.9h3.1v3.1h-3.1zM281.3 645.6h3.1v3.1h-3.1zM281.3 648.3h3.1v3.1h-3.1zM155.0 651.0h3.1v3.1h-3.1zM273.2 653.8h3.1v3.1h-3.1zM278.6 653.8h3.1v3.1h-3.1zM157.7 656.5h3.1v3.1h-3.1zM267.9 656.5h3.1v3.1h-3.1zM275.9 656.5h3.1v3.1h-3.1zM160.4 659.2h3.1v3.1h-3.1zM267.9 659.2h3.1v3.1h-3.1zM267.9 661.9h3.1v3.1h-3.1zM160.4 664.6h3.1v3.1h-3.1zM259.8 664.6h3.1v3.1h-3.1zM265.2 664.6h5.8v3.1h-5.8zM160.4 667.3h3.1v3.1h-3.1zM259.8 667.3h3.1v3.1h-3.1z"/><path fill="#57ffa8" d="M176.5 540.0h3.1v3.1h-3.1zM257.1 540.0h3.1v3.1h-3.1zM265.2 540.0h3.1v3.1h-3.1zM270.6 540.0h3.1v3.1h-3.1zM163.1 542.7h3.1v3.1h-3.1zM267.9 542.7h3.1v3.1h-3.1zM168.4 545.4h5.8v3.1h-5.8zM275.9 550.8h5.8v3.1h-5.8zM157.7 553.5h5.8v3.1h-5.8zM155.0 556.2h3.1v3.1h-3.1zM155.0 637.5h3.1v3.1h-3.1zM157.7 640.2h3.1v3.1h-3.1zM157.7 648.3h3.1v3.1h-3.1zM275.9 648.3h3.1v3.1h-3.1zM273.2 651.0h3.1v3.1h-3.1zM281.3 651.0h3.1v3.1h-3.1zM157.7 653.8h3.1v3.1h-3.1zM275.9 653.8h3.1v3.1h-3.1zM160.4 656.5h3.1v3.1h-3.1zM265.2 656.5h3.1v3.1h-3.1zM157.7 659.2h3.1v3.1h-3.1zM265.2 659.2h3.1v3.1h-3.1zM160.4 661.9h3.1v3.1h-3.1zM262.5 661.9h5.8v3.1h-5.8zM163.1 664.6h3.1v3.1h-3.1zM176.5 664.6h3.1v3.1h-3.1zM262.5 664.6h3.1v3.1h-3.1zM163.1 667.3h3.1v3.1h-3.1zM254.4 667.3h3.1v3.1h-3.1zM262.5 667.3h3.1v3.1h-3.1z"/><path fill="#42ffbd" d="M179.2 540.0h5.8v3.1h-5.8zM208.8 540.0h3.1v3.1h-3.1zM219.5 540.0h3.1v3.1h-3.1zM173.8 542.7h5.8v3.1h-5.8zM257.1 542.7h5.8v3.1h-5.8zM176.5 545.4h3.1v3.1h-3.1zM270.6 545.4h3.1v3.1h-3.1zM165.8 548.1h3.1v3.1h-3.1zM273.2 548.1h3.1v3.1h-3.1zM163.1 550.8h8.5v3.1h-8.5zM273.2 550.8h3.1v3.1h-3.1zM270.6 553.5h8.5v3.1h-8.5zM163.1 556.2h3.1v3.1h-3.1zM155.0 559.0h3.1v3.1h-3.1zM163.1 559.0h5.8v3.1h-5.8zM155.0 564.4h3.1v3.1h-3.1zM281.3 594.2h3.1v3.1h-3.1zM157.7 637.5h3.1v3.1h-3.1zM157.7 642.9h3.1v3.1h-3.1zM273.2 645.6h5.8v3.1h-5.8zM160.4 648.3h3.1v3.1h-3.1zM273.2 648.3h3.1v3.1h-3.1zM160.4 651.0h3.1v3.1h-3.1zM270.6 651.0h3.1v3.1h-3.1zM163.1 653.8h3.1v3.1h-3.1zM265.2 653.8h3.1v3.1h-3.1zM163.1 656.5h3.1v3.1h-3.1zM163.1 659.2h5.8v3.1h-5.8zM259.8 659.2h5.8v3.1h-5.8zM163.1 661.9h5.8v3.1h-5.8zM254.4 661.9h3.1v3.1h-3.1zM173.8 664.6h3.1v3.1h-3.1zM179.2 664.6h3.1v3.1h-3.1zM249.1 664.6h8.5v3.1h-8.5zM176.5 667.3h3.1v3.1h-3.1zM246.4 667.3h3.1v3.1h-3.1z"/><path fill="#38ffc7" d="M184.6 540.0h3.1v3.1h-3.1zM203.4 540.0h3.1v3.1h-3.1zM211.4 540.0h5.8v3.1h-5.8zM222.2 540.0h3.1v3.1h-3.1zM179.2 542.7h5.8v3.1h-5.8zM216.8 542.7h5.8v3.1h-5.8zM249.1 542.7h3.1v3.1h-3.1zM254.4 542.7h3.1v3.1h-3.1zM262.5 542.7h3.1v3.1h-3.1zM179.2 545.4h5.8v3.1h-5.8zM254.4 545.4h3.1v3.1h-3.1zM259.8 545.4h11.2v3.1h-11.2zM171.1 548.1h3.1v3.1h-3.1zM259.8 548.1h13.8v3.1h-13.8zM259.8 550.8h3.1v3.1h-3.1zM267.9 550.8h3.1v3.1h-3.1zM163.1 553.5h8.5v3.1h-8.5zM160.4 556.2h3.1v3.1h-3.1zM265.2 556.2h3.1v3.1h-3.1zM275.9 556.2h5.8v3.1h-5.8zM281.3 559.0h3.1v3.1h-3.1zM155.0 561.7h3.1v3.1h-3.1zM278.6 561.7h3.1v3.1h-3.1zM281.3 564.4h3.1v3.1h-3.1zM278.6 567.1h3.1v3.1h-3.1zM160.4 569.8h3.1v3.1h-3.1zM281.3 596.9h3.1v3.1h-3.1zM155.0 626.7h3.1v3.1h-3.1zM278.6 626.7h3.1v3.1h-3.1zM157.7 629.4h3.1v3.1h-3.1zM281.3 629.4h3.1v3.1h-3.1zM281.3 632.1h3.1v3.1h-3.1zM155.0 634.8h3.1v3.1h-3.1zM281.3 634.8h3.1v3.1h-3.1zM160.4 637.5h3.1v3.1h-3.1zM278.6 637.5h5.8v3.1h-5.8zM160.4 640.2h3.1v3.1h-3.1zM278.6 640.2h3.1v3.1h-3.1zM163.1 642.9h3.1v3.1h-3.1zM273.2 642.9h5.8v3.1h-5.8zM160.4 645.6h5.8v3.1h-5.8zM270.6 645.6h3.1v3.1h-3.1zM163.1 648.3h3.1v3.1h-3.1zM267.9 648.3h3.1v3.1h-3.1zM262.5 651.0h8.5v3.1h-8.5zM176.5 659.2h3.1v3.1h-3.1zM257.1 659.2h3.1v3.1h-3.1zM168.4 661.9h3.1v3.1h-3.1zM173.8 661.9h3.1v3.1h-3.1zM187.2 661.9h3.1v3.1h-3.1zM251.8 661.9h3.1v3.1h-3.1zM257.1 661.9h3.1v3.1h-3.1zM165.8 664.6h3.1v3.1h-3.1zM171.1 664.6h3.1v3.1h-3.1zM184.6 664.6h3.1v3.1h-3.1zM246.4 664.6h3.1v3.1h-3.1zM171.1 667.3h3.1v3.1h-3.1zM187.2 667.3h3.1v3.1h-3.1zM249.1 667.3h3.1v3.1h-3.1z"/><path fill="#4dffb2" d="M187.2 540.0h3.1v3.1h-3.1zM216.8 540.0h3.1v3.1h-3.1zM259.8 540.0h3.1v3.1h-3.1zM171.1 542.7h3.1v3.1h-3.1zM265.2 542.7h3.1v3.1h-3.1zM270.6 542.7h3.1v3.1h-3.1zM165.8 545.4h3.1v3.1h-3.1zM173.8 545.4h3.1v3.1h-3.1zM163.1 548.1h3.1v3.1h-3.1zM168.4 548.1h3.1v3.1h-3.1zM160.4 550.8h3.1v3.1h-3.1zM278.6 553.5h3.1v3.1h-3.1zM157.7 556.2h3.1v3.1h-3.1zM281.3 556.2h3.1v3.1h-3.1zM157.7 559.0h5.8v3.1h-5.8zM157.7 634.8h3.1v3.1h-3.1zM281.3 640.2h3.1v3.1h-3.1zM160.4 642.9h3.1v3.1h-3.1zM278.6 642.9h5.8v3.1h-5.8zM278.6 645.6h3.1v3.1h-3.1zM270.6 648.3h3.1v3.1h-3.1zM278.6 648.3h3.1v3.1h-3.1zM157.7 651.0h3.1v3.1h-3.1zM275.9 651.0h3.1v3.1h-3.1zM160.4 653.8h3.1v3.1h-3.1zM267.9 653.8h3.1v3.1h-3.1zM262.5 656.5h3.1v3.1h-3.1zM168.4 664.6h3.1v3.1h-3.1zM181.9 664.6h3.1v3.1h-3.1zM257.1 664.6h3.1v3.1h-3.1zM165.8 667.3h5.8v3.1h-5.8zM173.8 667.3h3.1v3.1h-3.1zM179.2 667.3h8.5v3.1h-8.5zM251.8 667.3h3.1v3.1h-3.1zM257.1 667.3h3.1v3.1h-3.1z"/><path fill="#24ffdb" d="M189.9 540.0h3.1v3.1h-3.1zM198.0 540.0h5.8v3.1h-5.8zM206.1 540.0h3.1v3.1h-3.1zM232.9 540.0h3.1v3.1h-3.1zM246.4 540.0h3.1v3.1h-3.1zM189.9 542.7h3.1v3.1h-3.1zM200.7 542.7h3.1v3.1h-3.1zM211.4 542.7h3.1v3.1h-3.1zM222.2 542.7h8.5v3.1h-8.5zM208.8 545.4h3.1v3.1h-3.1zM216.8 545.4h5.8v3.1h-5.8zM251.8 545.4h3.1v3.1h-3.1zM176.5 548.1h3.1v3.1h-3.1zM173.8 550.8h3.1v3.1h-3.1zM179.2 550.8h5.8v3.1h-5.8zM262.5 550.8h5.8v3.1h-5.8zM173.8 553.5h3.1v3.1h-3.1zM262.5 553.5h8.5v3.1h-8.5zM168.4 556.2h3.1v3.1h-3.1zM262.5 556.2h3.1v3.1h-3.1zM171.1 559.0h3.1v3.1h-3.1zM265.2 559.0h3.1v3.1h-3.1zM163.1 561.7h5.8v3.1h-5.8zM270.6 561.7h3.1v3.1h-3.1zM157.7 564.4h8.5v3.1h-8.5zM270.6 564.4h8.5v3.1h-8.5zM155.0 567.1h3.1v3.1h-3.1zM160.4 567.1h8.5v3.1h-8.5zM273.2 567.1h3.1v3.1h-3.1zM157.7 569.8h3.1v3.1h-3.1zM165.8 569.8h5.8v3.1h-5.8zM270.6 569.8h8.5v3.1h-8.5zM155.0 572.5h3.1v3.1h-3.1zM163.1 572.5h3.1v3.1h-3.1zM275.9 572.5h3.1v3.1h-3.1zM157.7 575.2h3.1v3.1h-3.1zM278.6 575.2h5.8v3.1h-5.8zM155.0 577.9h3.1v3.1h-3.1zM168.4 577.9h3.1v3.1h-3.1zM155.0 580.6h3.1v3.1h-3.1zM160.4 580.6h3.1v3.1h-3.1zM155.0 586.0h3.1v3.1h-3.1zM155.0 588.8h3.1v3.1h-3.1zM281.3 588.8h3.1v3.1h-3.1zM155.0 591.5h3.1v3.1h-3.1zM275.9 591.5h3.1v3.1h-3.1zM157.7 594.2h3.1v3.1h-3.1zM275.9 594.2h3.1v3.1h-3.1zM278.6 596.9h3.1v3.1h-3.1zM281.3 599.6h3.1v3.1h-3.1zM278.6 602.3h5.8v3.1h-5.8zM281.3 605.0h3.1v3.1h-3.1zM281.3 607.7h3.1v3.1h-3.1zM281.3 610.4h3.1v3.1h-3.1zM281.3 613.1h3.1v3.1h-3.1zM155.0 615.8h5.8v3.1h-5.8zM281.3 615.8h3.1v3.1h-3.1zM157.7 618.5h3.1v3.1h-3.1zM281.3 618.5h3.1v3.1h-3.1zM157.7 621.2h3.1v3.1h-3.1zM281.3 624.0h3.1v3.1h-3.1zM160.4 626.7h3.1v3.1h-3.1zM155.0 629.4h3.1v3.1h-3.1zM163.1 629.4h5.8v3.1h-5.8zM273.2 629.4h3.1v3.1h-3.1zM160.4 632.1h3.1v3.1h-3.1zM278.6 632.1h3.1v3.1h-3.1zM165.8 634.8h3.1v3.1h-3.1zM278.6 634.8h3.1v3.1h-3.1zM165.8 637.5h3.1v3.1h-3.1zM270.6 637.5h5.8v3.1h-5.8zM165.8 640.2h5.8v3.1h-5.8zM270.6 640.2h3.1v3.1h-3.1zM165.8 645.6h3.1v3.1h-3.1zM262.5 645.6h3.1v3.1h-3.1zM168.4 648.3h3.1v3.1h-3.1zM265.2 648.3h3.1v3.1h-3.1zM168.4 651.0h3.1v3.1h-3.1zM259.8 651.0h3.1v3.1h-3.1zM262.5 653.8h3.1v3.1h-3.1zM171.1 656.5h3.1v3.1h-3.1zM254.4 656.5h3.1v3.1h-3.1zM168.4 659.2h3.1v3.1h-3.1zM173.8 659.2h3.1v3.1h-3.1zM179.2 659.2h3.1v3.1h-3.1zM251.8 659.2h3.1v3.1h-3.1zM249.1 661.9h3.1v3.1h-3.1zM198.0 667.3h3.1v3.1h-3.1zM238.3 667.3h3.1v3.1h-3.1zM243.7 667.3h3.1v3.1h-3.1z"/><path fill="#2effd1" d="M192.6 540.0h5.8v3.1h-5.8zM224.9 540.0h5.8v3.1h-5.8zM243.7 540.0h3.1v3.1h-3.1zM249.1 540.0h8.5v3.1h-8.5zM184.6 542.7h5.8v3.1h-5.8zM208.8 542.7h3.1v3.1h-3.1zM214.1 542.7h3.1v3.1h-3.1zM246.4 542.7h3.1v3.1h-3.1zM251.8 542.7h3.1v3.1h-3.1zM184.6 545.4h5.8v3.1h-5.8zM211.4 545.4h3.1v3.1h-3.1zM222.2 545.4h3.1v3.1h-3.1zM257.1 545.4h3.1v3.1h-3.1zM173.8 548.1h3.1v3.1h-3.1zM179.2 548.1h5.8v3.1h-5.8zM257.1 548.1h3.1v3.1h-3.1zM171.1 550.8h3.1v3.1h-3.1zM176.5 550.8h3.1v3.1h-3.1zM257.1 550.8h3.1v3.1h-3.1zM270.6 550.8h3.1v3.1h-3.1zM171.1 553.5h3.1v3.1h-3.1zM165.8 556.2h3.1v3.1h-3.1zM171.1 556.2h3.1v3.1h-3.1zM267.9 556.2h8.5v3.1h-8.5zM270.6 559.0h11.2v3.1h-11.2zM157.7 561.7h5.8v3.1h-5.8zM275.9 561.7h3.1v3.1h-3.1zM281.3 561.7h3.1v3.1h-3.1zM165.8 564.4h3.1v3.1h-3.1zM278.6 564.4h3.1v3.1h-3.1zM157.7 567.1h3.1v3.1h-3.1zM281.3 567.1h3.1v3.1h-3.1zM155.0 569.8h3.1v3.1h-3.1zM278.6 569.8h5.8v3.1h-5.8zM281.3 572.5h3.1v3.1h-3.1zM278.6 591.5h5.8v3.1h-5.8zM155.0 594.2h3.1v3.1h-3.1zM278.6 594.2h3.1v3.1h-3.1zM155.0 618.5h3.1v3.1h-3.1zM155.0 621.2h3.1v3.1h-3.1zM155.0 624.0h5.8v3.1h-5.8zM157.7 626.7h3.1v3.1h-3.1zM281.3 626.7h3.1v3.1h-3.1zM160.4 629.4h3.1v3.1h-3.1zM278.6 629.4h3.1v3.1h-3.1zM155.0 632.1h5.8v3.1h-5.8zM160.4 634.8h5.8v3.1h-5.8zM275.9 634.8h3.1v3.1h-3.1zM163.1 637.5h3.1v3.1h-3.1zM168.4 637.5h3.1v3.1h-3.1zM275.9 637.5h3.1v3.1h-3.1zM163.1 640.2h3.1v3.1h-3.1zM273.2 640.2h5.8v3.1h-5.8zM165.8 642.9h5.8v3.1h-5.8zM267.9 642.9h5.8v3.1h-5.8zM267.9 645.6h3.1v3.1h-3.1zM165.8 648.3h3.1v3.1h-3.1zM163.1 651.0h5.8v3.1h-5.8zM259.8 653.8h3.1v3.1h-3.1zM165.8 656.5h5.8v3.1h-5.8zM259.8 656.5h3.1v3.1h-3.1zM171.1 659.2h3.1v3.1h-3.1zM181.9 659.2h5.8v3.1h-5.8zM254.4 659.2h3.1v3.1h-3.1zM171.1 661.9h3.1v3.1h-3.1zM176.5 661.9h5.8v3.1h-5.8zM184.6 661.9h3.1v3.1h-3.1zM259.8 661.9h3.1v3.1h-3.1zM187.2 664.6h5.8v3.1h-5.8zM189.9 667.3h5.8v3.1h-5.8z"/><path fill="#1affe5" d="M230.2 540.0h3.1v3.1h-3.1zM235.6 540.0h3.1v3.1h-3.1zM241.0 540.0h3.1v3.1h-3.1zM192.6 542.7h3.1v3.1h-3.1zM198.0 542.7h3.1v3.1h-3.1zM203.4 542.7h5.8v3.1h-5.8zM238.3 542.7h3.1v3.1h-3.1zM206.1 545.4h3.1v3.1h-3.1zM214.1 545.4h3.1v3.1h-3.1zM246.4 545.4h5.8v3.1h-5.8zM184.6 548.1h3.1v3.1h-3.1zM211.4 548.1h3.1v3.1h-3.1zM243.7 548.1h3.1v3.1h-3.1zM251.8 548.1h5.8v3.1h-5.8zM187.2 550.8h3.1v3.1h-3.1zM251.8 550.8h3.1v3.1h-3.1zM176.5 553.5h3.1v3.1h-3.1zM257.1 553.5h3.1v3.1h-3.1zM173.8 556.2h3.1v3.1h-3.1zM181.9 556.2h3.1v3.1h-3.1zM168.4 559.0h3.1v3.1h-3.1zM267.9 559.0h3.1v3.1h-3.1zM168.4 561.7h5.8v3.1h-5.8zM265.2 561.7h5.8v3.1h-5.8zM273.2 561.7h3.1v3.1h-3.1zM168.4 564.4h3.1v3.1h-3.1zM267.9 564.4h3.1v3.1h-3.1zM267.9 567.1h5.8v3.1h-5.8zM275.9 567.1h3.1v3.1h-3.1zM165.8 572.5h3.1v3.1h-3.1zM173.8 572.5h3.1v3.1h-3.1zM273.2 572.5h3.1v3.1h-3.1zM278.6 572.5h3.1v3.1h-3.1zM155.0 575.2h3.1v3.1h-3.1zM160.4 575.2h8.5v3.1h-8.5zM270.6 575.2h5.8v3.1h-5.8zM157.7 577.9h3.1v3.1h-3.1zM163.1 577.9h3.1v3.1h-3.1zM278.6 577.9h3.1v3.1h-3.1zM165.8 580.6h3.1v3.1h-3.1zM273.2 580.6h3.1v3.1h-3.1zM160.4 583.3h3.1v3.1h-3.1zM281.3 583.3h3.1v3.1h-3.1zM157.7 586.0h3.1v3.1h-3.1zM163.1 586.0h3.1v3.1h-3.1zM281.3 586.0h3.1v3.1h-3.1zM160.4 588.8h3.1v3.1h-3.1zM165.8 588.8h3.1v3.1h-3.1zM278.6 588.8h3.1v3.1h-3.1zM155.0 596.9h5.8v3.1h-5.8zM163.1 596.9h3.1v3.1h-3.1zM275.9 596.9h3.1v3.1h-3.1zM275.9 599.6h5.8v3.1h-5.8zM155.0 602.3h3.1v3.1h-3.1zM278.6 605.0h3.1v3.1h-3.1zM273.2 607.7h3.1v3.1h-3.1zM278.6 607.7h3.1v3.1h-3.1zM278.6 610.4h3.1v3.1h-3.1zM155.0 613.1h5.8v3.1h-5.8zM275.9 613.1h5.8v3.1h-5.8zM163.1 618.5h3.1v3.1h-3.1zM278.6 621.2h5.8v3.1h-5.8zM160.4 624.0h3.1v3.1h-3.1zM165.8 624.0h3.1v3.1h-3.1zM278.6 624.0h3.1v3.1h-3.1zM275.9 626.7h3.1v3.1h-3.1zM168.4 629.4h3.1v3.1h-3.1zM163.1 632.1h5.8v3.1h-5.8zM171.1 632.1h3.1v3.1h-3.1zM275.9 632.1h3.1v3.1h-3.1zM171.1 634.8h3.1v3.1h-3.1zM273.2 634.8h3.1v3.1h-3.1zM171.1 640.2h3.1v3.1h-3.1zM265.2 642.9h3.1v3.1h-3.1zM168.4 645.6h3.1v3.1h-3.1zM265.2 645.6h3.1v3.1h-3.1zM254.4 648.3h3.1v3.1h-3.1zM259.8 648.3h5.8v3.1h-5.8zM171.1 651.0h5.8v3.1h-5.8zM257.1 651.0h3.1v3.1h-3.1zM165.8 653.8h8.5v3.1h-8.5zM173.8 656.5h16.5v3.1h-16.5zM251.8 656.5h3.1v3.1h-3.1zM257.1 656.5h3.1v3.1h-3.1zM249.1 659.2h3.1v3.1h-3.1zM181.9 661.9h3.1v3.1h-3.1zM192.6 661.9h3.1v3.1h-3.1zM241.0 661.9h8.5v3.1h-8.5zM195.3 664.6h3.1v3.1h-3.1zM241.0 664.6h5.8v3.1h-5.8zM195.3 667.3h3.1v3.1h-3.1zM235.6 667.3h3.1v3.1h-3.1zM241.0 667.3h3.1v3.1h-3.1z"/><path fill="#0ffff0" d="M238.3 540.0h3.1v3.1h-3.1zM195.3 542.7h3.1v3.1h-3.1zM230.2 542.7h8.5v3.1h-8.5zM241.0 542.7h5.8v3.1h-5.8zM189.9 545.4h5.8v3.1h-5.8zM198.0 545.4h8.5v3.1h-8.5zM224.9 545.4h5.8v3.1h-5.8zM235.6 545.4h3.1v3.1h-3.1zM243.7 545.4h3.1v3.1h-3.1zM187.2 548.1h5.8v3.1h-5.8zM206.1 548.1h5.8v3.1h-5.8zM214.1 548.1h5.8v3.1h-5.8zM246.4 548.1h3.1v3.1h-3.1zM184.6 550.8h3.1v3.1h-3.1zM206.1 550.8h3.1v3.1h-3.1zM211.4 550.8h3.1v3.1h-3.1zM179.2 553.5h3.1v3.1h-3.1zM254.4 553.5h3.1v3.1h-3.1zM176.5 556.2h5.8v3.1h-5.8zM259.8 556.2h3.1v3.1h-3.1zM173.8 559.0h5.8v3.1h-5.8zM173.8 561.7h5.8v3.1h-5.8zM259.8 561.7h5.8v3.1h-5.8zM171.1 564.4h5.8v3.1h-5.8zM265.2 564.4h3.1v3.1h-3.1zM168.4 567.1h8.5v3.1h-8.5zM163.1 569.8h3.1v3.1h-3.1zM171.1 569.8h5.8v3.1h-5.8zM262.5 569.8h3.1v3.1h-3.1zM267.9 569.8h3.1v3.1h-3.1zM157.7 572.5h5.8v3.1h-5.8zM168.4 572.5h5.8v3.1h-5.8zM265.2 572.5h3.1v3.1h-3.1zM270.6 572.5h3.1v3.1h-3.1zM171.1 575.2h3.1v3.1h-3.1zM160.4 577.9h3.1v3.1h-3.1zM165.8 577.9h3.1v3.1h-3.1zM171.1 577.9h3.1v3.1h-3.1zM270.6 577.9h5.8v3.1h-5.8zM281.3 577.9h3.1v3.1h-3.1zM157.7 580.6h3.1v3.1h-3.1zM163.1 580.6h3.1v3.1h-3.1zM278.6 580.6h3.1v3.1h-3.1zM155.0 583.3h5.8v3.1h-5.8zM163.1 583.3h5.8v3.1h-5.8zM275.9 583.3h5.8v3.1h-5.8zM165.8 586.0h5.8v3.1h-5.8zM273.2 586.0h8.5v3.1h-8.5zM157.7 588.8h3.1v3.1h-3.1zM163.1 588.8h3.1v3.1h-3.1zM168.4 588.8h3.1v3.1h-3.1zM273.2 588.8h5.8v3.1h-5.8zM157.7 591.5h11.2v3.1h-11.2zM273.2 591.5h3.1v3.1h-3.1zM160.4 594.2h3.1v3.1h-3.1zM160.4 596.9h3.1v3.1h-3.1zM273.2 596.9h3.1v3.1h-3.1zM155.0 599.6h5.8v3.1h-5.8zM275.9 602.3h3.1v3.1h-3.1zM155.0 605.0h3.1v3.1h-3.1zM275.9 605.0h3.1v3.1h-3.1zM155.0 607.7h3.1v3.1h-3.1zM275.9 607.7h3.1v3.1h-3.1zM155.0 610.4h3.1v3.1h-3.1zM273.2 610.4h5.8v3.1h-5.8zM270.6 615.8h3.1v3.1h-3.1zM275.9 615.8h5.8v3.1h-5.8zM160.4 618.5h3.1v3.1h-3.1zM270.6 618.5h3.1v3.1h-3.1zM278.6 618.5h3.1v3.1h-3.1zM163.1 621.2h5.8v3.1h-5.8zM267.9 621.2h8.5v3.1h-8.5zM163.1 624.0h3.1v3.1h-3.1zM168.4 624.0h3.1v3.1h-3.1zM273.2 624.0h5.8v3.1h-5.8zM163.1 626.7h5.8v3.1h-5.8zM270.6 626.7h5.8v3.1h-5.8zM171.1 629.4h3.1v3.1h-3.1zM275.9 629.4h3.1v3.1h-3.1zM168.4 632.1h3.1v3.1h-3.1zM173.8 632.1h3.1v3.1h-3.1zM270.6 632.1h3.1v3.1h-3.1zM168.4 634.8h3.1v3.1h-3.1zM267.9 634.8h5.8v3.1h-5.8zM171.1 637.5h3.1v3.1h-3.1zM267.9 637.5h3.1v3.1h-3.1zM173.8 640.2h3.1v3.1h-3.1zM267.9 640.2h3.1v3.1h-3.1zM262.5 642.9h3.1v3.1h-3.1zM171.1 645.6h3.1v3.1h-3.1zM171.1 648.3h3.1v3.1h-3.1zM181.9 651.0h3.1v3.1h-3.1zM251.8 651.0h3.1v3.1h-3.1zM173.8 653.8h3.1v3.1h-3.1zM181.9 653.8h3.1v3.1h-3.1zM254.4 653.8h3.1v3.1h-3.1zM187.2 659.2h5.8v3.1h-5.8zM243.7 659.2h5.8v3.1h-5.8zM189.9 661.9h3.1v3.1h-3.1zM195.3 661.9h3.1v3.1h-3.1zM192.6 664.6h3.1v3.1h-3.1zM200.7 664.6h3.1v3.1h-3.1zM235.6 664.6h5.8v3.1h-5.8zM200.7 667.3h3.1v3.1h-3.1zM206.1 667.3h3.1v3.1h-3.1zM227.6 667.3h8.5v3.1h-8.5z"/><path fill="#80ff80" d="M275.9 540.0h5.8v3.1h-5.8zM155.0 542.7h3.1v3.1h-3.1zM155.0 661.9h3.1v3.1h-3.1zM275.9 661.9h5.8v3.1h-5.8zM155.0 667.3h3.1v3.1h-3.1zM275.9 667.3h3.1v3.1h-3.1z"/><path fill="#94ff6b" d="M281.3 540.0h3.1v3.1h-3.1zM275.9 664.6h5.8v3.1h-5.8zM278.6 667.3h3.1v3.1h-3.1z"/><path fill="#05fffa" d="M195.3 545.4h3.1v3.1h-3.1zM230.2 545.4h5.8v3.1h-5.8zM238.3 545.4h5.8v3.1h-5.8zM192.6 548.1h5.8v3.1h-5.8zM203.4 548.1h3.1v3.1h-3.1zM219.5 548.1h8.5v3.1h-8.5zM238.3 548.1h5.8v3.1h-5.8zM249.1 548.1h3.1v3.1h-3.1zM192.6 550.8h3.1v3.1h-3.1zM203.4 550.8h3.1v3.1h-3.1zM208.8 550.8h3.1v3.1h-3.1zM214.1 550.8h5.8v3.1h-5.8zM254.4 550.8h3.1v3.1h-3.1zM181.9 553.5h3.1v3.1h-3.1zM187.2 553.5h5.8v3.1h-5.8zM200.7 553.5h3.1v3.1h-3.1zM211.4 553.5h3.1v3.1h-3.1zM216.8 553.5h3.1v3.1h-3.1zM243.7 553.5h3.1v3.1h-3.1zM251.8 553.5h3.1v3.1h-3.1zM259.8 553.5h3.1v3.1h-3.1zM187.2 556.2h3.1v3.1h-3.1zM257.1 556.2h3.1v3.1h-3.1zM189.9 559.0h3.1v3.1h-3.1zM257.1 559.0h8.5v3.1h-8.5zM179.2 561.7h3.1v3.1h-3.1zM176.5 564.4h5.8v3.1h-5.8zM257.1 564.4h8.5v3.1h-8.5zM176.5 567.1h3.1v3.1h-3.1zM265.2 567.1h3.1v3.1h-3.1zM265.2 569.8h3.1v3.1h-3.1zM176.5 572.5h3.1v3.1h-3.1zM262.5 572.5h3.1v3.1h-3.1zM267.9 572.5h3.1v3.1h-3.1zM168.4 575.2h3.1v3.1h-3.1zM265.2 575.2h5.8v3.1h-5.8zM275.9 575.2h3.1v3.1h-3.1zM173.8 577.9h3.1v3.1h-3.1zM267.9 577.9h3.1v3.1h-3.1zM168.4 580.6h5.8v3.1h-5.8zM267.9 580.6h5.8v3.1h-5.8zM275.9 580.6h3.1v3.1h-3.1zM281.3 580.6h3.1v3.1h-3.1zM168.4 583.3h5.8v3.1h-5.8zM270.6 583.3h3.1v3.1h-3.1zM270.6 586.0h3.1v3.1h-3.1zM270.6 591.5h3.1v3.1h-3.1zM273.2 594.2h3.1v3.1h-3.1zM157.7 602.3h5.8v3.1h-5.8zM273.2 605.0h3.1v3.1h-3.1zM157.7 607.7h5.8v3.1h-5.8zM157.7 610.4h3.1v3.1h-3.1zM270.6 613.1h3.1v3.1h-3.1zM163.1 615.8h3.1v3.1h-3.1zM273.2 615.8h3.1v3.1h-3.1zM273.2 618.5h5.8v3.1h-5.8zM160.4 621.2h3.1v3.1h-3.1zM173.8 621.2h3.1v3.1h-3.1zM265.2 621.2h3.1v3.1h-3.1zM275.9 621.2h3.1v3.1h-3.1zM267.9 624.0h5.8v3.1h-5.8zM267.9 626.7h3.1v3.1h-3.1zM173.8 629.4h3.1v3.1h-3.1zM267.9 629.4h3.1v3.1h-3.1zM273.2 632.1h3.1v3.1h-3.1zM173.8 634.8h3.1v3.1h-3.1zM173.8 637.5h5.8v3.1h-5.8zM262.5 637.5h5.8v3.1h-5.8zM179.2 640.2h3.1v3.1h-3.1zM262.5 640.2h5.8v3.1h-5.8zM173.8 642.9h5.8v3.1h-5.8zM173.8 645.6h3.1v3.1h-3.1zM259.8 645.6h3.1v3.1h-3.1zM173.8 648.3h8.5v3.1h-8.5zM176.5 651.0h3.1v3.1h-3.1zM184.6 651.0h3.1v3.1h-3.1zM254.4 651.0h3.1v3.1h-3.1zM176.5 653.8h5.8v3.1h-5.8zM184.6 653.8h8.5v3.1h-8.5zM249.1 653.8h5.8v3.1h-5.8zM257.1 653.8h3.1v3.1h-3.1zM189.9 656.5h5.8v3.1h-5.8zM200.7 656.5h3.1v3.1h-3.1zM246.4 656.5h5.8v3.1h-5.8zM192.6 659.2h5.8v3.1h-5.8zM241.0 659.2h3.1v3.1h-3.1zM200.7 661.9h3.1v3.1h-3.1zM235.6 661.9h5.8v3.1h-5.8zM198.0 664.6h3.1v3.1h-3.1zM203.4 664.6h3.1v3.1h-3.1zM230.2 664.6h5.8v3.1h-5.8zM203.4 667.3h3.1v3.1h-3.1zM208.8 667.3h3.1v3.1h-3.1zM214.1 667.3h5.8v3.1h-5.8zM222.2 667.3h3.1v3.1h-3.1z"/><path fill="#00faff" d="M198.0 548.1h3.1v3.1h-3.1zM230.2 548.1h8.5v3.1h-8.5zM189.9 550.8h3.1v3.1h-3.1zM195.3 550.8h5.8v3.1h-5.8zM219.5 550.8h3.1v3.1h-3.1zM232.9 550.8h3.1v3.1h-3.1zM243.7 550.8h8.5v3.1h-8.5zM184.6 553.5h3.1v3.1h-3.1zM192.6 553.5h3.1v3.1h-3.1zM198.0 553.5h3.1v3.1h-3.1zM203.4 553.5h3.1v3.1h-3.1zM208.8 553.5h3.1v3.1h-3.1zM214.1 553.5h3.1v3.1h-3.1zM249.1 553.5h3.1v3.1h-3.1zM184.6 556.2h3.1v3.1h-3.1zM189.9 556.2h8.5v3.1h-8.5zM203.4 556.2h3.1v3.1h-3.1zM254.4 556.2h3.1v3.1h-3.1zM179.2 559.0h11.2v3.1h-11.2zM192.6 559.0h5.8v3.1h-5.8zM254.4 559.0h3.1v3.1h-3.1zM181.9 561.7h11.2v3.1h-11.2zM254.4 561.7h5.8v3.1h-5.8zM192.6 564.4h3.1v3.1h-3.1zM184.6 567.1h3.1v3.1h-3.1zM254.4 567.1h5.8v3.1h-5.8zM262.5 567.1h3.1v3.1h-3.1zM176.5 569.8h5.8v3.1h-5.8zM184.6 569.8h3.1v3.1h-3.1zM259.8 569.8h3.1v3.1h-3.1zM259.8 572.5h3.1v3.1h-3.1zM173.8 575.2h3.1v3.1h-3.1zM275.9 577.9h3.1v3.1h-3.1zM173.8 580.6h3.1v3.1h-3.1zM173.8 583.3h3.1v3.1h-3.1zM265.2 583.3h3.1v3.1h-3.1zM273.2 583.3h3.1v3.1h-3.1zM160.4 586.0h3.1v3.1h-3.1zM171.1 586.0h5.8v3.1h-5.8zM171.1 588.8h3.1v3.1h-3.1zM270.6 588.8h3.1v3.1h-3.1zM168.4 591.5h3.1v3.1h-3.1zM163.1 594.2h8.5v3.1h-8.5zM165.8 596.9h3.1v3.1h-3.1zM160.4 599.6h8.5v3.1h-8.5zM270.6 599.6h5.8v3.1h-5.8zM163.1 602.3h3.1v3.1h-3.1zM273.2 602.3h3.1v3.1h-3.1zM157.7 605.0h5.8v3.1h-5.8zM160.4 610.4h5.8v3.1h-5.8zM270.6 610.4h3.1v3.1h-3.1zM160.4 613.1h5.8v3.1h-5.8zM273.2 613.1h3.1v3.1h-3.1zM160.4 615.8h3.1v3.1h-3.1zM267.9 615.8h3.1v3.1h-3.1zM168.4 618.5h5.8v3.1h-5.8zM168.4 621.2h3.1v3.1h-3.1zM168.4 626.7h8.5v3.1h-8.5zM270.6 629.4h3.1v3.1h-3.1zM176.5 632.1h3.1v3.1h-3.1zM265.2 632.1h5.8v3.1h-5.8zM176.5 634.8h5.8v3.1h-5.8zM265.2 634.8h3.1v3.1h-3.1zM179.2 637.5h3.1v3.1h-3.1zM176.5 640.2h3.1v3.1h-3.1zM257.1 640.2h3.1v3.1h-3.1zM171.1 642.9h3.1v3.1h-3.1zM251.8 642.9h3.1v3.1h-3.1zM251.8 645.6h8.5v3.1h-8.5zM181.9 648.3h3.1v3.1h-3.1zM251.8 648.3h3.1v3.1h-3.1zM257.1 648.3h3.1v3.1h-3.1zM179.2 651.0h3.1v3.1h-3.1zM192.6 653.8h3.1v3.1h-3.1zM195.3 656.5h5.8v3.1h-5.8zM241.0 656.5h3.1v3.1h-3.1zM198.0 659.2h3.1v3.1h-3.1zM227.6 659.2h3.1v3.1h-3.1zM235.6 659.2h5.8v3.1h-5.8zM198.0 661.9h3.1v3.1h-3.1zM227.6 661.9h8.5v3.1h-8.5zM206.1 664.6h8.5v3.1h-8.5zM216.8 664.6h5.8v3.1h-5.8zM224.9 664.6h5.8v3.1h-5.8zM211.4 667.3h3.1v3.1h-3.1zM219.5 667.3h3.1v3.1h-3.1zM224.9 667.3h3.1v3.1h-3.1z"/><path fill="#00f0ff" d="M200.7 548.1h3.1v3.1h-3.1zM227.6 548.1h3.1v3.1h-3.1zM200.7 550.8h3.1v3.1h-3.1zM222.2 550.8h3.1v3.1h-3.1zM227.6 550.8h3.1v3.1h-3.1zM235.6 550.8h5.8v3.1h-5.8zM206.1 553.5h3.1v3.1h-3.1zM219.5 553.5h5.8v3.1h-5.8zM227.6 553.5h3.1v3.1h-3.1zM246.4 553.5h3.1v3.1h-3.1zM198.0 556.2h3.1v3.1h-3.1zM206.1 556.2h5.8v3.1h-5.8zM214.1 556.2h3.1v3.1h-3.1zM251.8 556.2h3.1v3.1h-3.1zM249.1 559.0h3.1v3.1h-3.1zM192.6 561.7h5.8v3.1h-5.8zM181.9 564.4h11.2v3.1h-11.2zM195.3 564.4h3.1v3.1h-3.1zM254.4 564.4h3.1v3.1h-3.1zM179.2 567.1h3.1v3.1h-3.1zM187.2 567.1h5.8v3.1h-5.8zM259.8 567.1h3.1v3.1h-3.1zM181.9 569.8h3.1v3.1h-3.1zM257.1 569.8h3.1v3.1h-3.1zM179.2 572.5h3.1v3.1h-3.1zM184.6 572.5h3.1v3.1h-3.1zM257.1 572.5h3.1v3.1h-3.1zM179.2 575.2h3.1v3.1h-3.1zM262.5 575.2h3.1v3.1h-3.1zM262.5 577.9h5.8v3.1h-5.8zM262.5 580.6h3.1v3.1h-3.1zM176.5 583.3h3.1v3.1h-3.1zM262.5 583.3h3.1v3.1h-3.1zM267.9 583.3h3.1v3.1h-3.1zM265.2 586.0h3.1v3.1h-3.1zM173.8 588.8h3.1v3.1h-3.1zM267.9 588.8h3.1v3.1h-3.1zM171.1 591.5h5.8v3.1h-5.8zM267.9 591.5h3.1v3.1h-3.1zM173.8 594.2h3.1v3.1h-3.1zM270.6 594.2h3.1v3.1h-3.1zM168.4 596.9h3.1v3.1h-3.1zM267.9 596.9h5.8v3.1h-5.8zM165.8 602.3h3.1v3.1h-3.1zM171.1 605.0h3.1v3.1h-3.1zM270.6 605.0h3.1v3.1h-3.1zM163.1 607.7h3.1v3.1h-3.1zM270.6 607.7h3.1v3.1h-3.1zM265.2 613.1h5.8v3.1h-5.8zM165.8 615.8h8.5v3.1h-8.5zM262.5 615.8h5.8v3.1h-5.8zM165.8 618.5h3.1v3.1h-3.1zM257.1 618.5h3.1v3.1h-3.1zM262.5 618.5h8.5v3.1h-8.5zM171.1 621.2h3.1v3.1h-3.1zM176.5 621.2h3.1v3.1h-3.1zM262.5 621.2h3.1v3.1h-3.1zM171.1 624.0h5.8v3.1h-5.8zM262.5 624.0h3.1v3.1h-3.1zM176.5 626.7h3.1v3.1h-3.1zM265.2 626.7h3.1v3.1h-3.1zM176.5 629.4h5.8v3.1h-5.8zM259.8 629.4h3.1v3.1h-3.1zM265.2 629.4h3.1v3.1h-3.1zM179.2 632.1h3.1v3.1h-3.1zM262.5 632.1h3.1v3.1h-3.1zM181.9 634.8h5.8v3.1h-5.8zM262.5 634.8h3.1v3.1h-3.1zM257.1 637.5h5.8v3.1h-5.8zM259.8 640.2h3.1v3.1h-3.1zM181.9 642.9h3.1v3.1h-3.1zM254.4 642.9h8.5v3.1h-8.5zM176.5 645.6h5.8v3.1h-5.8zM249.1 645.6h3.1v3.1h-3.1zM249.1 648.3h3.1v3.1h-3.1zM187.2 651.0h8.5v3.1h-8.5zM206.1 651.0h3.1v3.1h-3.1zM246.4 651.0h5.8v3.1h-5.8zM200.7 653.8h5.8v3.1h-5.8zM214.1 653.8h3.1v3.1h-3.1zM246.4 653.8h3.1v3.1h-3.1zM208.8 656.5h3.1v3.1h-3.1zM216.8 656.5h3.1v3.1h-3.1zM224.9 656.5h3.1v3.1h-3.1zM232.9 656.5h5.8v3.1h-5.8zM243.7 656.5h3.1v3.1h-3.1zM200.7 659.2h11.2v3.1h-11.2zM219.5 659.2h3.1v3.1h-3.1zM224.9 659.2h3.1v3.1h-3.1zM230.2 659.2h5.8v3.1h-5.8zM206.1 661.9h8.5v3.1h-8.5zM219.5 661.9h3.1v3.1h-3.1zM222.2 664.6h3.1v3.1h-3.1z"/><path fill="#00e6ff" d="M224.9 550.8h3.1v3.1h-3.1zM230.2 550.8h3.1v3.1h-3.1zM241.0 550.8h3.1v3.1h-3.1zM195.3 553.5h3.1v3.1h-3.1zM224.9 553.5h3.1v3.1h-3.1zM230.2 553.5h5.8v3.1h-5.8zM238.3 553.5h3.1v3.1h-3.1zM200.7 556.2h3.1v3.1h-3.1zM211.4 556.2h3.1v3.1h-3.1zM216.8 556.2h3.1v3.1h-3.1zM224.9 556.2h3.1v3.1h-3.1zM232.9 556.2h3.1v3.1h-3.1zM249.1 556.2h3.1v3.1h-3.1zM198.0 559.0h5.8v3.1h-5.8zM206.1 559.0h5.8v3.1h-5.8zM251.8 559.0h3.1v3.1h-3.1zM198.0 561.7h5.8v3.1h-5.8zM211.4 561.7h3.1v3.1h-3.1zM249.1 561.7h5.8v3.1h-5.8zM198.0 564.4h3.1v3.1h-3.1zM181.9 567.1h3.1v3.1h-3.1zM195.3 567.1h3.1v3.1h-3.1zM251.8 567.1h3.1v3.1h-3.1zM189.9 569.8h3.1v3.1h-3.1zM181.9 572.5h3.1v3.1h-3.1zM187.2 572.5h3.1v3.1h-3.1zM254.4 572.5h3.1v3.1h-3.1zM176.5 575.2h3.1v3.1h-3.1zM257.1 575.2h5.8v3.1h-5.8zM176.5 577.9h5.8v3.1h-5.8zM257.1 577.9h5.8v3.1h-5.8zM176.5 580.6h3.1v3.1h-3.1zM259.8 580.6h3.1v3.1h-3.1zM265.2 580.6h3.1v3.1h-3.1zM176.5 586.0h3.1v3.1h-3.1zM262.5 586.0h3.1v3.1h-3.1zM267.9 586.0h3.1v3.1h-3.1zM262.5 588.8h5.8v3.1h-5.8zM265.2 591.5h3.1v3.1h-3.1zM265.2 594.2h5.8v3.1h-5.8zM171.1 596.9h3.1v3.1h-3.1zM265.2 596.9h3.1v3.1h-3.1zM171.1 599.6h5.8v3.1h-5.8zM168.4 602.3h3.1v3.1h-3.1zM270.6 602.3h3.1v3.1h-3.1zM163.1 605.0h5.8v3.1h-5.8zM165.8 607.7h3.1v3.1h-3.1zM265.2 607.7h3.1v3.1h-3.1zM168.4 610.4h3.1v3.1h-3.1zM267.9 610.4h3.1v3.1h-3.1zM165.8 613.1h5.8v3.1h-5.8zM173.8 618.5h3.1v3.1h-3.1zM259.8 618.5h3.1v3.1h-3.1zM257.1 621.2h3.1v3.1h-3.1zM176.5 624.0h5.8v3.1h-5.8zM257.1 624.0h3.1v3.1h-3.1zM265.2 624.0h3.1v3.1h-3.1zM179.2 626.7h3.1v3.1h-3.1zM257.1 626.7h5.8v3.1h-5.8zM257.1 629.4h3.1v3.1h-3.1zM262.5 629.4h3.1v3.1h-3.1zM181.9 632.1h3.1v3.1h-3.1zM259.8 632.1h3.1v3.1h-3.1zM181.9 637.5h5.8v3.1h-5.8zM254.4 637.5h3.1v3.1h-3.1zM181.9 640.2h3.1v3.1h-3.1zM251.8 640.2h5.8v3.1h-5.8zM179.2 642.9h3.1v3.1h-3.1zM246.4 642.9h5.8v3.1h-5.8zM181.9 645.6h5.8v3.1h-5.8zM246.4 645.6h3.1v3.1h-3.1zM184.6 648.3h3.1v3.1h-3.1zM246.4 648.3h3.1v3.1h-3.1zM195.3 651.0h3.1v3.1h-3.1zM200.7 651.0h3.1v3.1h-3.1zM208.8 651.0h3.1v3.1h-3.1zM214.1 651.0h8.5v3.1h-8.5zM230.2 651.0h3.1v3.1h-3.1zM243.7 651.0h3.1v3.1h-3.1zM195.3 653.8h5.8v3.1h-5.8zM206.1 653.8h5.8v3.1h-5.8zM222.2 653.8h8.5v3.1h-8.5zM232.9 653.8h3.1v3.1h-3.1zM238.3 653.8h8.5v3.1h-8.5zM203.4 656.5h3.1v3.1h-3.1zM211.4 656.5h3.1v3.1h-3.1zM227.6 656.5h3.1v3.1h-3.1zM238.3 656.5h3.1v3.1h-3.1zM211.4 659.2h8.5v3.1h-8.5zM203.4 661.9h3.1v3.1h-3.1zM216.8 661.9h3.1v3.1h-3.1zM222.2 661.9h3.1v3.1h-3.1zM214.1 664.6h3.1v3.1h-3.1z"/><path fill="#00dbff" d="M235.6 553.5h3.1v3.1h-3.1zM241.0 553.5h3.1v3.1h-3.1zM219.5 556.2h5.8v3.1h-5.8zM243.7 556.2h5.8v3.1h-5.8zM203.4 559.0h3.1v3.1h-3.1zM211.4 559.0h11.2v3.1h-11.2zM246.4 559.0h3.1v3.1h-3.1zM203.4 561.7h5.8v3.1h-5.8zM216.8 561.7h3.1v3.1h-3.1zM200.7 564.4h3.1v3.1h-3.1zM206.1 564.4h3.1v3.1h-3.1zM249.1 564.4h5.8v3.1h-5.8zM192.6 567.1h3.1v3.1h-3.1zM203.4 567.1h5.8v3.1h-5.8zM187.2 569.8h3.1v3.1h-3.1zM192.6 569.8h3.1v3.1h-3.1zM198.0 569.8h3.1v3.1h-3.1zM254.4 569.8h3.1v3.1h-3.1zM189.9 572.5h3.1v3.1h-3.1zM181.9 575.2h5.8v3.1h-5.8zM254.4 575.2h3.1v3.1h-3.1zM181.9 577.9h3.1v3.1h-3.1zM179.2 580.6h3.1v3.1h-3.1zM257.1 580.6h3.1v3.1h-3.1zM179.2 583.3h3.1v3.1h-3.1zM254.4 583.3h3.1v3.1h-3.1zM179.2 586.0h3.1v3.1h-3.1zM257.1 586.0h5.8v3.1h-5.8zM176.5 591.5h5.8v3.1h-5.8zM262.5 591.5h3.1v3.1h-3.1zM171.1 594.2h3.1v3.1h-3.1zM176.5 596.9h3.1v3.1h-3.1zM262.5 596.9h3.1v3.1h-3.1zM168.4 599.6h3.1v3.1h-3.1zM267.9 599.6h3.1v3.1h-3.1zM171.1 602.3h3.1v3.1h-3.1zM267.9 602.3h3.1v3.1h-3.1zM168.4 605.0h3.1v3.1h-3.1zM173.8 605.0h3.1v3.1h-3.1zM267.9 607.7h3.1v3.1h-3.1zM165.8 610.4h3.1v3.1h-3.1zM173.8 610.4h3.1v3.1h-3.1zM265.2 610.4h3.1v3.1h-3.1zM171.1 613.1h3.1v3.1h-3.1zM259.8 615.8h3.1v3.1h-3.1zM176.5 618.5h3.1v3.1h-3.1zM179.2 621.2h3.1v3.1h-3.1zM254.4 621.2h3.1v3.1h-3.1zM259.8 621.2h3.1v3.1h-3.1zM259.8 624.0h3.1v3.1h-3.1zM262.5 626.7h3.1v3.1h-3.1zM251.8 629.4h3.1v3.1h-3.1zM184.6 632.1h3.1v3.1h-3.1zM251.8 632.1h8.5v3.1h-8.5zM249.1 634.8h13.8v3.1h-13.8zM249.1 637.5h5.8v3.1h-5.8zM184.6 640.2h3.1v3.1h-3.1zM189.9 640.2h3.1v3.1h-3.1zM249.1 640.2h3.1v3.1h-3.1zM184.6 642.9h3.1v3.1h-3.1zM189.9 642.9h3.1v3.1h-3.1zM203.4 642.9h3.1v3.1h-3.1zM189.9 645.6h8.5v3.1h-8.5zM241.0 645.6h3.1v3.1h-3.1zM187.2 648.3h11.2v3.1h-11.2zM203.4 648.3h5.8v3.1h-5.8zM243.7 648.3h3.1v3.1h-3.1zM198.0 651.0h3.1v3.1h-3.1zM222.2 651.0h3.1v3.1h-3.1zM232.9 651.0h3.1v3.1h-3.1zM238.3 651.0h3.1v3.1h-3.1zM216.8 653.8h5.8v3.1h-5.8zM230.2 653.8h3.1v3.1h-3.1zM235.6 653.8h3.1v3.1h-3.1zM206.1 656.5h3.1v3.1h-3.1zM214.1 656.5h3.1v3.1h-3.1zM219.5 656.5h3.1v3.1h-3.1zM230.2 656.5h3.1v3.1h-3.1zM222.2 659.2h3.1v3.1h-3.1zM214.1 661.9h3.1v3.1h-3.1zM224.9 661.9h3.1v3.1h-3.1z"/><path fill="#00d1ff" d="M227.6 556.2h5.8v3.1h-5.8zM235.6 556.2h3.1v3.1h-3.1zM241.0 556.2h3.1v3.1h-3.1zM222.2 559.0h3.1v3.1h-3.1zM227.6 559.0h5.8v3.1h-5.8zM235.6 559.0h5.8v3.1h-5.8zM243.7 559.0h3.1v3.1h-3.1zM208.8 561.7h3.1v3.1h-3.1zM214.1 561.7h3.1v3.1h-3.1zM246.4 561.7h3.1v3.1h-3.1zM208.8 564.4h3.1v3.1h-3.1zM219.5 564.4h3.1v3.1h-3.1zM198.0 567.1h5.8v3.1h-5.8zM208.8 567.1h3.1v3.1h-3.1zM219.5 567.1h3.1v3.1h-3.1zM249.1 567.1h3.1v3.1h-3.1zM195.3 569.8h3.1v3.1h-3.1zM249.1 569.8h5.8v3.1h-5.8zM192.6 572.5h3.1v3.1h-3.1zM246.4 572.5h3.1v3.1h-3.1zM251.8 572.5h3.1v3.1h-3.1zM251.8 577.9h5.8v3.1h-5.8zM181.9 580.6h3.1v3.1h-3.1zM254.4 580.6h3.1v3.1h-3.1zM181.9 583.3h3.1v3.1h-3.1zM259.8 583.3h3.1v3.1h-3.1zM181.9 586.0h3.1v3.1h-3.1zM254.4 586.0h3.1v3.1h-3.1zM176.5 588.8h3.1v3.1h-3.1zM257.1 588.8h5.8v3.1h-5.8zM257.1 591.5h5.8v3.1h-5.8zM176.5 594.2h3.1v3.1h-3.1zM259.8 594.2h5.8v3.1h-5.8zM173.8 596.9h3.1v3.1h-3.1zM179.2 596.9h3.1v3.1h-3.1zM176.5 599.6h3.1v3.1h-3.1zM262.5 599.6h5.8v3.1h-5.8zM173.8 602.3h5.8v3.1h-5.8zM176.5 605.0h3.1v3.1h-3.1zM265.2 605.0h5.8v3.1h-5.8zM168.4 607.7h3.1v3.1h-3.1zM173.8 607.7h3.1v3.1h-3.1zM171.1 610.4h3.1v3.1h-3.1zM176.5 610.4h3.1v3.1h-3.1zM173.8 613.1h3.1v3.1h-3.1zM179.2 613.1h3.1v3.1h-3.1zM259.8 613.1h3.1v3.1h-3.1zM173.8 615.8h5.8v3.1h-5.8zM179.2 618.5h5.8v3.1h-5.8zM249.1 618.5h8.5v3.1h-8.5zM181.9 621.2h3.1v3.1h-3.1zM251.8 624.0h3.1v3.1h-3.1zM181.9 626.7h3.1v3.1h-3.1zM249.1 626.7h8.5v3.1h-8.5zM181.9 629.4h3.1v3.1h-3.1zM249.1 629.4h3.1v3.1h-3.1zM254.4 629.4h3.1v3.1h-3.1zM249.1 632.1h3.1v3.1h-3.1zM187.2 634.8h3.1v3.1h-3.1zM243.7 634.8h3.1v3.1h-3.1zM187.2 640.2h3.1v3.1h-3.1zM243.7 640.2h3.1v3.1h-3.1zM187.2 642.9h3.1v3.1h-3.1zM192.6 642.9h3.1v3.1h-3.1zM232.9 642.9h3.1v3.1h-3.1zM241.0 642.9h5.8v3.1h-5.8zM187.2 645.6h3.1v3.1h-3.1zM224.9 645.6h5.8v3.1h-5.8zM235.6 645.6h3.1v3.1h-3.1zM243.7 645.6h3.1v3.1h-3.1zM198.0 648.3h5.8v3.1h-5.8zM208.8 648.3h3.1v3.1h-3.1zM214.1 648.3h3.1v3.1h-3.1zM219.5 648.3h13.8v3.1h-13.8zM235.6 648.3h8.5v3.1h-8.5zM203.4 651.0h3.1v3.1h-3.1zM211.4 651.0h3.1v3.1h-3.1zM224.9 651.0h5.8v3.1h-5.8zM235.6 651.0h3.1v3.1h-3.1zM241.0 651.0h3.1v3.1h-3.1zM211.4 653.8h3.1v3.1h-3.1zM222.2 656.5h3.1v3.1h-3.1z"/><path fill="#00c7ff" d="M238.3 556.2h3.1v3.1h-3.1zM224.9 559.0h3.1v3.1h-3.1zM232.9 559.0h3.1v3.1h-3.1zM241.0 559.0h3.1v3.1h-3.1zM222.2 561.7h3.1v3.1h-3.1zM227.6 561.7h3.1v3.1h-3.1zM235.6 561.7h5.8v3.1h-5.8zM243.7 561.7h3.1v3.1h-3.1zM203.4 564.4h3.1v3.1h-3.1zM214.1 564.4h5.8v3.1h-5.8zM224.9 564.4h5.8v3.1h-5.8zM241.0 564.4h8.5v3.1h-8.5zM211.4 567.1h5.8v3.1h-5.8zM246.4 567.1h3.1v3.1h-3.1zM200.7 569.8h8.5v3.1h-8.5zM214.1 569.8h3.1v3.1h-3.1zM241.0 569.8h3.1v3.1h-3.1zM246.4 569.8h3.1v3.1h-3.1zM195.3 572.5h5.8v3.1h-5.8zM249.1 572.5h3.1v3.1h-3.1zM187.2 575.2h8.5v3.1h-8.5zM184.6 577.9h3.1v3.1h-3.1zM249.1 577.9h3.1v3.1h-3.1zM184.6 580.6h3.1v3.1h-3.1zM251.8 580.6h3.1v3.1h-3.1zM184.6 583.3h3.1v3.1h-3.1zM257.1 583.3h3.1v3.1h-3.1zM179.2 588.8h5.8v3.1h-5.8zM181.9 591.5h3.1v3.1h-3.1zM179.2 594.2h3.1v3.1h-3.1zM259.8 596.9h3.1v3.1h-3.1zM179.2 599.6h3.1v3.1h-3.1zM259.8 602.3h3.1v3.1h-3.1zM265.2 602.3h3.1v3.1h-3.1zM179.2 605.0h3.1v3.1h-3.1zM171.1 607.7h3.1v3.1h-3.1zM176.5 607.7h5.8v3.1h-5.8zM262.5 607.7h3.1v3.1h-3.1zM179.2 610.4h3.1v3.1h-3.1zM262.5 610.4h3.1v3.1h-3.1zM176.5 613.1h3.1v3.1h-3.1zM181.9 613.1h3.1v3.1h-3.1zM257.1 613.1h3.1v3.1h-3.1zM262.5 613.1h3.1v3.1h-3.1zM179.2 615.8h5.8v3.1h-5.8zM257.1 615.8h3.1v3.1h-3.1zM251.8 621.2h3.1v3.1h-3.1zM181.9 624.0h5.8v3.1h-5.8zM254.4 624.0h3.1v3.1h-3.1zM184.6 626.7h3.1v3.1h-3.1zM184.6 629.4h3.1v3.1h-3.1zM187.2 632.1h3.1v3.1h-3.1zM243.7 632.1h5.8v3.1h-5.8zM192.6 634.8h3.1v3.1h-3.1zM246.4 634.8h3.1v3.1h-3.1zM189.9 637.5h3.1v3.1h-3.1zM195.3 637.5h3.1v3.1h-3.1zM243.7 637.5h5.8v3.1h-5.8zM192.6 640.2h5.8v3.1h-5.8zM246.4 640.2h3.1v3.1h-3.1zM198.0 642.9h3.1v3.1h-3.1zM227.6 642.9h5.8v3.1h-5.8zM238.3 642.9h3.1v3.1h-3.1zM200.7 645.6h8.5v3.1h-8.5zM216.8 645.6h5.8v3.1h-5.8zM230.2 645.6h5.8v3.1h-5.8zM238.3 645.6h3.1v3.1h-3.1zM211.4 648.3h3.1v3.1h-3.1zM216.8 648.3h3.1v3.1h-3.1zM232.9 648.3h3.1v3.1h-3.1z"/><path fill="#00bdff" d="M219.5 561.7h3.1v3.1h-3.1zM224.9 561.7h3.1v3.1h-3.1zM230.2 561.7h3.1v3.1h-3.1zM241.0 561.7h3.1v3.1h-3.1zM211.4 564.4h3.1v3.1h-3.1zM222.2 564.4h3.1v3.1h-3.1zM230.2 564.4h3.1v3.1h-3.1zM238.3 564.4h3.1v3.1h-3.1zM216.8 567.1h3.1v3.1h-3.1zM230.2 567.1h3.1v3.1h-3.1zM211.4 569.8h3.1v3.1h-3.1zM219.5 569.8h3.1v3.1h-3.1zM238.3 569.8h3.1v3.1h-3.1zM243.7 569.8h3.1v3.1h-3.1zM200.7 572.5h3.1v3.1h-3.1zM243.7 572.5h3.1v3.1h-3.1zM195.3 575.2h3.1v3.1h-3.1zM243.7 575.2h3.1v3.1h-3.1zM249.1 575.2h5.8v3.1h-5.8zM187.2 577.9h3.1v3.1h-3.1zM246.4 577.9h3.1v3.1h-3.1zM187.2 580.6h3.1v3.1h-3.1zM249.1 580.6h3.1v3.1h-3.1zM187.2 583.3h3.1v3.1h-3.1zM184.6 586.0h3.1v3.1h-3.1zM184.6 588.8h3.1v3.1h-3.1zM251.8 588.8h5.8v3.1h-5.8zM254.4 591.5h3.1v3.1h-3.1zM181.9 594.2h3.1v3.1h-3.1zM257.1 594.2h3.1v3.1h-3.1zM184.6 596.9h3.1v3.1h-3.1zM254.4 596.9h5.8v3.1h-5.8zM259.8 599.6h3.1v3.1h-3.1zM181.9 602.3h3.1v3.1h-3.1zM257.1 602.3h3.1v3.1h-3.1zM184.6 605.0h3.1v3.1h-3.1zM259.8 605.0h3.1v3.1h-3.1zM181.9 607.7h3.1v3.1h-3.1zM181.9 610.4h3.1v3.1h-3.1zM259.8 610.4h3.1v3.1h-3.1zM184.6 613.1h3.1v3.1h-3.1zM184.6 615.8h5.8v3.1h-5.8zM251.8 615.8h5.8v3.1h-5.8zM184.6 618.5h5.8v3.1h-5.8zM184.6 621.2h8.5v3.1h-8.5zM246.4 621.2h5.8v3.1h-5.8zM246.4 624.0h3.1v3.1h-3.1zM187.2 626.7h3.1v3.1h-3.1zM246.4 629.4h3.1v3.1h-3.1zM189.9 632.1h3.1v3.1h-3.1zM189.9 634.8h3.1v3.1h-3.1zM187.2 637.5h3.1v3.1h-3.1zM192.6 637.5h3.1v3.1h-3.1zM198.0 637.5h8.5v3.1h-8.5zM230.2 637.5h3.1v3.1h-3.1zM238.3 637.5h3.1v3.1h-3.1zM198.0 640.2h13.8v3.1h-13.8zM241.0 640.2h3.1v3.1h-3.1zM195.3 642.9h3.1v3.1h-3.1zM200.7 642.9h3.1v3.1h-3.1zM208.8 642.9h3.1v3.1h-3.1zM214.1 642.9h3.1v3.1h-3.1zM222.2 642.9h3.1v3.1h-3.1zM198.0 645.6h3.1v3.1h-3.1zM208.8 645.6h8.5v3.1h-8.5zM222.2 645.6h3.1v3.1h-3.1z"/><path fill="#00b2ff" d="M232.9 561.7h3.1v3.1h-3.1zM232.9 564.4h3.1v3.1h-3.1zM222.2 567.1h3.1v3.1h-3.1zM235.6 567.1h3.1v3.1h-3.1zM241.0 567.1h5.8v3.1h-5.8zM208.8 569.8h3.1v3.1h-3.1zM216.8 569.8h3.1v3.1h-3.1zM224.9 569.8h3.1v3.1h-3.1zM232.9 569.8h3.1v3.1h-3.1zM203.4 572.5h5.8v3.1h-5.8zM211.4 572.5h5.8v3.1h-5.8zM222.2 572.5h3.1v3.1h-3.1zM238.3 572.5h5.8v3.1h-5.8zM198.0 575.2h5.8v3.1h-5.8zM206.1 575.2h3.1v3.1h-3.1zM216.8 575.2h3.1v3.1h-3.1zM241.0 575.2h3.1v3.1h-3.1zM246.4 575.2h3.1v3.1h-3.1zM189.9 577.9h5.8v3.1h-5.8zM192.6 580.6h3.1v3.1h-3.1zM189.9 583.3h3.1v3.1h-3.1zM251.8 583.3h3.1v3.1h-3.1zM187.2 586.0h3.1v3.1h-3.1zM249.1 586.0h5.8v3.1h-5.8zM187.2 588.8h3.1v3.1h-3.1zM184.6 591.5h3.1v3.1h-3.1zM184.6 594.2h3.1v3.1h-3.1zM181.9 596.9h3.1v3.1h-3.1zM181.9 599.6h5.8v3.1h-5.8zM254.4 599.6h5.8v3.1h-5.8zM179.2 602.3h3.1v3.1h-3.1zM262.5 602.3h3.1v3.1h-3.1zM181.9 605.0h3.1v3.1h-3.1zM262.5 605.0h3.1v3.1h-3.1zM184.6 607.7h3.1v3.1h-3.1zM257.1 607.7h5.8v3.1h-5.8zM257.1 610.4h3.1v3.1h-3.1zM187.2 613.1h3.1v3.1h-3.1zM254.4 613.1h3.1v3.1h-3.1zM189.9 615.8h3.1v3.1h-3.1zM195.3 618.5h3.1v3.1h-3.1zM195.3 621.2h3.1v3.1h-3.1zM187.2 624.0h5.8v3.1h-5.8zM249.1 624.0h3.1v3.1h-3.1zM243.7 626.7h5.8v3.1h-5.8zM187.2 629.4h8.5v3.1h-8.5zM243.7 629.4h3.1v3.1h-3.1zM192.6 632.1h3.1v3.1h-3.1zM200.7 632.1h3.1v3.1h-3.1zM206.1 632.1h3.1v3.1h-3.1zM241.0 632.1h3.1v3.1h-3.1zM195.3 634.8h5.8v3.1h-5.8zM203.4 634.8h3.1v3.1h-3.1zM208.8 634.8h3.1v3.1h-3.1zM241.0 634.8h3.1v3.1h-3.1zM227.6 637.5h3.1v3.1h-3.1zM232.9 637.5h3.1v3.1h-3.1zM211.4 640.2h3.1v3.1h-3.1zM224.9 640.2h3.1v3.1h-3.1zM235.6 640.2h3.1v3.1h-3.1zM206.1 642.9h3.1v3.1h-3.1zM211.4 642.9h3.1v3.1h-3.1zM216.8 642.9h5.8v3.1h-5.8zM224.9 642.9h3.1v3.1h-3.1z"/><path fill="#00a8ff" d="M235.6 564.4h3.1v3.1h-3.1zM224.9 567.1h5.8v3.1h-5.8zM232.9 567.1h3.1v3.1h-3.1zM238.3 567.1h3.1v3.1h-3.1zM222.2 569.8h3.1v3.1h-3.1zM227.6 569.8h3.1v3.1h-3.1zM208.8 572.5h3.1v3.1h-3.1zM216.8 572.5h5.8v3.1h-5.8zM227.6 572.5h3.1v3.1h-3.1zM235.6 572.5h3.1v3.1h-3.1zM203.4 575.2h3.1v3.1h-3.1zM211.4 575.2h5.8v3.1h-5.8zM224.9 575.2h3.1v3.1h-3.1zM238.3 575.2h3.1v3.1h-3.1zM216.8 577.9h3.1v3.1h-3.1zM243.7 577.9h3.1v3.1h-3.1zM189.9 580.6h3.1v3.1h-3.1zM238.3 580.6h3.1v3.1h-3.1zM246.4 583.3h5.8v3.1h-5.8zM189.9 586.0h5.8v3.1h-5.8zM249.1 588.8h3.1v3.1h-3.1zM187.2 591.5h5.8v3.1h-5.8zM251.8 591.5h3.1v3.1h-3.1zM187.2 594.2h3.1v3.1h-3.1zM254.4 594.2h3.1v3.1h-3.1zM187.2 596.9h3.1v3.1h-3.1zM192.6 596.9h3.1v3.1h-3.1zM251.8 596.9h3.1v3.1h-3.1zM187.2 599.6h5.8v3.1h-5.8zM184.6 602.3h5.8v3.1h-5.8zM251.8 605.0h8.5v3.1h-8.5zM187.2 607.7h8.5v3.1h-8.5zM251.8 607.7h3.1v3.1h-3.1zM184.6 610.4h3.1v3.1h-3.1zM189.9 610.4h3.1v3.1h-3.1zM254.4 610.4h3.1v3.1h-3.1zM189.9 613.1h3.1v3.1h-3.1zM246.4 613.1h3.1v3.1h-3.1zM251.8 613.1h3.1v3.1h-3.1zM189.9 618.5h3.1v3.1h-3.1zM243.7 618.5h5.8v3.1h-5.8zM192.6 621.2h3.1v3.1h-3.1zM192.6 624.0h5.8v3.1h-5.8zM203.4 624.0h3.1v3.1h-3.1zM243.7 624.0h3.1v3.1h-3.1zM192.6 626.7h11.2v3.1h-11.2zM195.3 629.4h3.1v3.1h-3.1zM203.4 629.4h3.1v3.1h-3.1zM241.0 629.4h3.1v3.1h-3.1zM195.3 632.1h5.8v3.1h-5.8zM206.1 634.8h3.1v3.1h-3.1zM211.4 634.8h3.1v3.1h-3.1zM235.6 634.8h5.8v3.1h-5.8zM206.1 637.5h8.5v3.1h-8.5zM235.6 637.5h3.1v3.1h-3.1zM241.0 637.5h3.1v3.1h-3.1zM214.1 640.2h3.1v3.1h-3.1zM219.5 640.2h5.8v3.1h-5.8zM227.6 640.2h8.5v3.1h-8.5zM238.3 640.2h3.1v3.1h-3.1zM235.6 642.9h3.1v3.1h-3.1z"/><path fill="#009eff" d="M230.2 569.8h3.1v3.1h-3.1zM235.6 569.8h3.1v3.1h-3.1zM224.9 572.5h3.1v3.1h-3.1zM230.2 572.5h3.1v3.1h-3.1zM208.8 575.2h3.1v3.1h-3.1zM219.5 575.2h5.8v3.1h-5.8zM230.2 575.2h8.5v3.1h-8.5zM195.3 577.9h8.5v3.1h-8.5zM208.8 577.9h5.8v3.1h-5.8zM222.2 577.9h5.8v3.1h-5.8zM235.6 577.9h8.5v3.1h-8.5zM195.3 580.6h3.1v3.1h-3.1zM216.8 580.6h3.1v3.1h-3.1zM224.9 580.6h3.1v3.1h-3.1zM232.9 580.6h3.1v3.1h-3.1zM241.0 580.6h8.5v3.1h-8.5zM192.6 583.3h3.1v3.1h-3.1zM243.7 583.3h3.1v3.1h-3.1zM246.4 586.0h3.1v3.1h-3.1zM189.9 588.8h3.1v3.1h-3.1zM192.6 591.5h3.1v3.1h-3.1zM249.1 591.5h3.1v3.1h-3.1zM246.4 594.2h8.5v3.1h-8.5zM189.9 596.9h3.1v3.1h-3.1zM192.6 602.3h3.1v3.1h-3.1zM254.4 602.3h3.1v3.1h-3.1zM187.2 605.0h8.5v3.1h-8.5zM200.7 605.0h3.1v3.1h-3.1zM195.3 607.7h3.1v3.1h-3.1zM254.4 607.7h3.1v3.1h-3.1zM187.2 610.4h3.1v3.1h-3.1zM195.3 610.4h3.1v3.1h-3.1zM200.7 610.4h3.1v3.1h-3.1zM249.1 610.4h5.8v3.1h-5.8zM198.0 613.1h3.1v3.1h-3.1zM249.1 615.8h3.1v3.1h-3.1zM192.6 618.5h3.1v3.1h-3.1zM200.7 618.5h5.8v3.1h-5.8zM198.0 621.2h3.1v3.1h-3.1zM243.7 621.2h3.1v3.1h-3.1zM198.0 624.0h5.8v3.1h-5.8zM189.9 626.7h3.1v3.1h-3.1zM206.1 626.7h3.1v3.1h-3.1zM241.0 626.7h3.1v3.1h-3.1zM198.0 629.4h5.8v3.1h-5.8zM206.1 629.4h3.1v3.1h-3.1zM214.1 629.4h3.1v3.1h-3.1zM203.4 632.1h3.1v3.1h-3.1zM211.4 632.1h3.1v3.1h-3.1zM232.9 632.1h3.1v3.1h-3.1zM238.3 632.1h3.1v3.1h-3.1zM200.7 634.8h3.1v3.1h-3.1zM219.5 634.8h3.1v3.1h-3.1zM227.6 634.8h3.1v3.1h-3.1zM214.1 637.5h3.1v3.1h-3.1zM222.2 637.5h3.1v3.1h-3.1z"/><path fill="#0094ff" d="M232.9 572.5h3.1v3.1h-3.1zM227.6 575.2h3.1v3.1h-3.1zM203.4 577.9h3.1v3.1h-3.1zM214.1 577.9h3.1v3.1h-3.1zM227.6 577.9h3.1v3.1h-3.1zM232.9 577.9h3.1v3.1h-3.1zM200.7 580.6h3.1v3.1h-3.1zM214.1 580.6h3.1v3.1h-3.1zM219.5 580.6h5.8v3.1h-5.8zM230.2 580.6h3.1v3.1h-3.1zM235.6 580.6h3.1v3.1h-3.1zM241.0 583.3h3.1v3.1h-3.1zM195.3 586.0h3.1v3.1h-3.1zM192.6 588.8h3.1v3.1h-3.1zM243.7 591.5h3.1v3.1h-3.1zM189.9 594.2h5.8v3.1h-5.8zM241.0 594.2h3.1v3.1h-3.1zM195.3 596.9h3.1v3.1h-3.1zM246.4 596.9h5.8v3.1h-5.8zM192.6 599.6h3.1v3.1h-3.1zM243.7 599.6h3.1v3.1h-3.1zM249.1 599.6h5.8v3.1h-5.8zM189.9 602.3h3.1v3.1h-3.1zM195.3 602.3h3.1v3.1h-3.1zM251.8 602.3h3.1v3.1h-3.1zM200.7 607.7h3.1v3.1h-3.1zM206.1 607.7h3.1v3.1h-3.1zM249.1 607.7h3.1v3.1h-3.1zM192.6 610.4h3.1v3.1h-3.1zM198.0 610.4h3.1v3.1h-3.1zM195.3 613.1h3.1v3.1h-3.1zM200.7 613.1h3.1v3.1h-3.1zM249.1 613.1h3.1v3.1h-3.1zM192.6 615.8h3.1v3.1h-3.1zM198.0 615.8h5.8v3.1h-5.8zM206.1 615.8h3.1v3.1h-3.1zM243.7 615.8h5.8v3.1h-5.8zM198.0 618.5h3.1v3.1h-3.1zM206.1 618.5h3.1v3.1h-3.1zM241.0 618.5h3.1v3.1h-3.1zM200.7 621.2h11.2v3.1h-11.2zM206.1 624.0h3.1v3.1h-3.1zM238.3 624.0h5.8v3.1h-5.8zM203.4 626.7h3.1v3.1h-3.1zM208.8 626.7h5.8v3.1h-5.8zM238.3 626.7h3.1v3.1h-3.1zM208.8 629.4h3.1v3.1h-3.1zM227.6 629.4h3.1v3.1h-3.1zM238.3 629.4h3.1v3.1h-3.1zM208.8 632.1h3.1v3.1h-3.1zM216.8 632.1h8.5v3.1h-8.5zM227.6 632.1h3.1v3.1h-3.1zM235.6 632.1h3.1v3.1h-3.1zM214.1 634.8h5.8v3.1h-5.8zM224.9 634.8h3.1v3.1h-3.1zM216.8 637.5h5.8v3.1h-5.8zM224.9 637.5h3.1v3.1h-3.1zM216.8 640.2h3.1v3.1h-3.1z"/><path fill="#008aff" d="M206.1 577.9h3.1v3.1h-3.1zM219.5 577.9h3.1v3.1h-3.1zM230.2 577.9h3.1v3.1h-3.1zM198.0 580.6h3.1v3.1h-3.1zM195.3 583.3h5.8v3.1h-5.8zM211.4 583.3h3.1v3.1h-3.1zM224.9 583.3h3.1v3.1h-3.1zM235.6 583.3h3.1v3.1h-3.1zM198.0 586.0h3.1v3.1h-3.1zM230.2 586.0h5.8v3.1h-5.8zM238.3 586.0h3.1v3.1h-3.1zM243.7 586.0h3.1v3.1h-3.1zM238.3 588.8h3.1v3.1h-3.1zM243.7 588.8h5.8v3.1h-5.8zM246.4 591.5h3.1v3.1h-3.1zM195.3 594.2h5.8v3.1h-5.8zM198.0 596.9h5.8v3.1h-5.8zM246.4 599.6h3.1v3.1h-3.1zM200.7 602.3h3.1v3.1h-3.1zM241.0 602.3h3.1v3.1h-3.1zM246.4 602.3h5.8v3.1h-5.8zM195.3 605.0h5.8v3.1h-5.8zM249.1 605.0h3.1v3.1h-3.1zM198.0 607.7h3.1v3.1h-3.1zM203.4 610.4h5.8v3.1h-5.8zM243.7 610.4h3.1v3.1h-3.1zM192.6 613.1h3.1v3.1h-3.1zM203.4 613.1h3.1v3.1h-3.1zM243.7 613.1h3.1v3.1h-3.1zM195.3 615.8h3.1v3.1h-3.1zM203.4 615.8h3.1v3.1h-3.1zM241.0 615.8h3.1v3.1h-3.1zM208.8 618.5h3.1v3.1h-3.1zM238.3 618.5h3.1v3.1h-3.1zM235.6 621.2h8.5v3.1h-8.5zM208.8 624.0h3.1v3.1h-3.1zM235.6 624.0h3.1v3.1h-3.1zM214.1 626.7h3.1v3.1h-3.1zM219.5 626.7h3.1v3.1h-3.1zM232.9 626.7h5.8v3.1h-5.8zM211.4 629.4h3.1v3.1h-3.1zM216.8 629.4h8.5v3.1h-8.5zM230.2 629.4h8.5v3.1h-8.5zM214.1 632.1h3.1v3.1h-3.1zM224.9 632.1h3.1v3.1h-3.1zM230.2 632.1h3.1v3.1h-3.1zM222.2 634.8h3.1v3.1h-3.1zM230.2 634.8h5.8v3.1h-5.8z"/><path fill="#0080ff" d="M203.4 580.6h8.5v3.1h-8.5zM227.6 580.6h3.1v3.1h-3.1zM200.7 583.3h3.1v3.1h-3.1zM214.1 583.3h11.2v3.1h-11.2zM230.2 583.3h5.8v3.1h-5.8zM238.3 583.3h3.1v3.1h-3.1zM200.7 586.0h3.1v3.1h-3.1zM214.1 586.0h3.1v3.1h-3.1zM219.5 586.0h3.1v3.1h-3.1zM235.6 586.0h3.1v3.1h-3.1zM241.0 586.0h3.1v3.1h-3.1zM195.3 588.8h5.8v3.1h-5.8zM235.6 588.8h3.1v3.1h-3.1zM241.0 588.8h3.1v3.1h-3.1zM195.3 591.5h5.8v3.1h-5.8zM235.6 591.5h3.1v3.1h-3.1zM241.0 591.5h3.1v3.1h-3.1zM203.4 594.2h3.1v3.1h-3.1zM243.7 594.2h3.1v3.1h-3.1zM235.6 596.9h11.2v3.1h-11.2zM195.3 599.6h5.8v3.1h-5.8zM198.0 602.3h3.1v3.1h-3.1zM238.3 605.0h3.1v3.1h-3.1zM243.7 605.0h3.1v3.1h-3.1zM203.4 607.7h3.1v3.1h-3.1zM246.4 607.7h3.1v3.1h-3.1zM238.3 610.4h5.8v3.1h-5.8zM246.4 610.4h3.1v3.1h-3.1zM211.4 613.1h3.1v3.1h-3.1zM241.0 613.1h3.1v3.1h-3.1zM208.8 615.8h3.1v3.1h-3.1zM238.3 615.8h3.1v3.1h-3.1zM211.4 618.5h5.8v3.1h-5.8zM235.6 618.5h3.1v3.1h-3.1zM211.4 621.2h3.1v3.1h-3.1zM211.4 624.0h8.5v3.1h-8.5zM232.9 624.0h3.1v3.1h-3.1zM216.8 626.7h3.1v3.1h-3.1zM224.9 626.7h5.8v3.1h-5.8zM224.9 629.4h3.1v3.1h-3.1z"/><path fill="#0075ff" d="M211.4 580.6h3.1v3.1h-3.1zM203.4 583.3h5.8v3.1h-5.8zM227.6 583.3h3.1v3.1h-3.1zM203.4 586.0h3.1v3.1h-3.1zM208.8 586.0h5.8v3.1h-5.8zM222.2 586.0h8.5v3.1h-8.5zM216.8 588.8h8.5v3.1h-8.5zM232.9 588.8h3.1v3.1h-3.1zM200.7 591.5h5.8v3.1h-5.8zM232.9 591.5h3.1v3.1h-3.1zM238.3 591.5h3.1v3.1h-3.1zM206.1 594.2h3.1v3.1h-3.1zM235.6 594.2h5.8v3.1h-5.8zM203.4 596.9h3.1v3.1h-3.1zM232.9 596.9h3.1v3.1h-3.1zM200.7 599.6h5.8v3.1h-5.8zM232.9 599.6h3.1v3.1h-3.1zM238.3 599.6h5.8v3.1h-5.8zM235.6 602.3h5.8v3.1h-5.8zM243.7 602.3h3.1v3.1h-3.1zM203.4 605.0h5.8v3.1h-5.8zM241.0 605.0h3.1v3.1h-3.1zM246.4 605.0h3.1v3.1h-3.1zM235.6 607.7h11.2v3.1h-11.2zM208.8 610.4h5.8v3.1h-5.8zM235.6 610.4h3.1v3.1h-3.1zM206.1 613.1h5.8v3.1h-5.8zM235.6 613.1h3.1v3.1h-3.1zM235.6 615.8h3.1v3.1h-3.1zM214.1 621.2h3.1v3.1h-3.1zM219.5 624.0h3.1v3.1h-3.1zM224.9 624.0h3.1v3.1h-3.1zM230.2 624.0h3.1v3.1h-3.1zM222.2 626.7h3.1v3.1h-3.1zM230.2 626.7h3.1v3.1h-3.1z"/><path fill="#006bff" d="M208.8 583.3h3.1v3.1h-3.1zM216.8 586.0h3.1v3.1h-3.1zM208.8 588.8h3.1v3.1h-3.1zM214.1 588.8h3.1v3.1h-3.1zM227.6 588.8h3.1v3.1h-3.1zM214.1 591.5h3.1v3.1h-3.1zM224.9 591.5h8.5v3.1h-8.5zM200.7 594.2h3.1v3.1h-3.1zM224.9 594.2h5.8v3.1h-5.8zM232.9 594.2h3.1v3.1h-3.1zM208.8 596.9h5.8v3.1h-5.8zM224.9 596.9h3.1v3.1h-3.1zM230.2 596.9h3.1v3.1h-3.1zM206.1 599.6h3.1v3.1h-3.1zM203.4 602.3h3.1v3.1h-3.1zM208.8 602.3h5.8v3.1h-5.8zM232.9 602.3h3.1v3.1h-3.1zM227.6 605.0h3.1v3.1h-3.1zM232.9 605.0h3.1v3.1h-3.1zM208.8 607.7h3.1v3.1h-3.1zM238.3 613.1h3.1v3.1h-3.1zM211.4 615.8h3.1v3.1h-3.1zM222.2 618.5h3.1v3.1h-3.1zM230.2 618.5h5.8v3.1h-5.8zM216.8 621.2h8.5v3.1h-8.5zM227.6 621.2h8.5v3.1h-8.5zM222.2 624.0h3.1v3.1h-3.1zM227.6 624.0h3.1v3.1h-3.1z"/><path fill="#0061ff" d="M206.1 586.0h3.1v3.1h-3.1zM200.7 588.8h8.5v3.1h-8.5zM224.9 588.8h3.1v3.1h-3.1zM230.2 588.8h3.1v3.1h-3.1zM208.8 591.5h5.8v3.1h-5.8zM216.8 591.5h8.5v3.1h-8.5zM219.5 594.2h5.8v3.1h-5.8zM230.2 594.2h3.1v3.1h-3.1zM206.1 596.9h3.1v3.1h-3.1zM227.6 596.9h3.1v3.1h-3.1zM208.8 599.6h3.1v3.1h-3.1zM230.2 599.6h3.1v3.1h-3.1zM235.6 599.6h3.1v3.1h-3.1zM206.1 602.3h3.1v3.1h-3.1zM222.2 602.3h3.1v3.1h-3.1zM230.2 602.3h3.1v3.1h-3.1zM208.8 605.0h5.8v3.1h-5.8zM216.8 605.0h3.1v3.1h-3.1zM230.2 605.0h3.1v3.1h-3.1zM235.6 605.0h3.1v3.1h-3.1zM211.4 607.7h3.1v3.1h-3.1zM227.6 607.7h8.5v3.1h-8.5zM227.6 610.4h3.1v3.1h-3.1zM216.8 613.1h3.1v3.1h-3.1zM232.9 613.1h3.1v3.1h-3.1zM214.1 615.8h3.1v3.1h-3.1zM227.6 615.8h3.1v3.1h-3.1zM216.8 618.5h5.8v3.1h-5.8zM224.9 621.2h3.1v3.1h-3.1z"/><path fill="#0057ff" d="M211.4 588.8h3.1v3.1h-3.1zM206.1 591.5h3.1v3.1h-3.1zM208.8 594.2h3.1v3.1h-3.1zM214.1 594.2h5.8v3.1h-5.8zM222.2 596.9h3.1v3.1h-3.1zM211.4 599.6h3.1v3.1h-3.1zM219.5 599.6h3.1v3.1h-3.1zM224.9 599.6h5.8v3.1h-5.8zM224.9 602.3h5.8v3.1h-5.8zM214.1 605.0h3.1v3.1h-3.1zM219.5 605.0h8.5v3.1h-8.5zM214.1 607.7h3.1v3.1h-3.1zM224.9 607.7h3.1v3.1h-3.1zM214.1 610.4h3.1v3.1h-3.1zM222.2 610.4h3.1v3.1h-3.1zM230.2 610.4h5.8v3.1h-5.8zM214.1 613.1h3.1v3.1h-3.1zM222.2 613.1h5.8v3.1h-5.8zM230.2 613.1h3.1v3.1h-3.1zM216.8 615.8h3.1v3.1h-3.1zM222.2 615.8h5.8v3.1h-5.8zM230.2 615.8h5.8v3.1h-5.8zM224.9 618.5h5.8v3.1h-5.8z"/><path fill="#004dff" d="M211.4 594.2h3.1v3.1h-3.1zM214.1 596.9h8.5v3.1h-8.5zM216.8 599.6h3.1v3.1h-3.1zM222.2 599.6h3.1v3.1h-3.1zM214.1 602.3h8.5v3.1h-8.5zM216.8 607.7h8.5v3.1h-8.5zM216.8 610.4h3.1v3.1h-3.1zM224.9 610.4h3.1v3.1h-3.1zM219.5 613.1h3.1v3.1h-3.1zM227.6 613.1h3.1v3.1h-3.1zM219.5 615.8h3.1v3.1h-3.1z"/><path fill="#0042ff" d="M214.1 599.6h3.1v3.1h-3.1zM219.5 610.4h3.1v3.1h-3.1z"/><path fill="#9eff61" d="M281.3 664.6h3.1v3.1h-3.1z"/><path fill="#a8ff57" d="M281.3 667.3h3.1v3.1h-3.1z"/></g>
<path d="M80.3,614.5 82.7,610.9 83.0,607.3 83.5,605.7 83.9,603.7 83.9,600.1 83.5,599.7 79.9,598.4 78.3,596.5 76.3,594.0 72.7,595.3 69.1,596.2 68.7,596.5 65.5,599.9 65.0,600.1 65.5,600.9 66.3,603.7 65.5,606.1 65.3,607.3 65.5,607.8 66.6,610.9 69.1,613.3 71.6,614.5 72.7,615.0 76.3,616.6 79.9,615.0 80.3,614.5 M89.5,632.4 90.6,630.2 94.2,630.5 96.3,628.8 97.8,626.7 99.3,625.2 101.4,624.1 102.7,621.6 102.5,618.0 103.9,614.5 105.0,612.3 105.7,610.9 105.0,608.1 104.7,607.3 104.7,603.7 103.5,600.1 105.0,596.9 105.1,596.5 105.0,596.0 101.6,593.0 102.2,589.4 101.4,587.8 98.4,585.8 97.8,585.5 95.3,582.2 94.2,581.0 90.6,579.9 87.0,579.0 86.5,578.6 83.5,575.8 82.4,575.0 79.9,573.3 76.4,575.0 76.3,575.1 76.2,575.0 72.7,574.0 70.9,575.0 69.1,576.0 65.8,575.0 65.5,574.9 65.0,575.0 62.8,578.6 62.0,579.1 60.5,578.6 58.4,577.8 57.7,578.6 54.9,582.2 54.8,582.4 52.6,585.8 51.2,586.9 47.6,588.2 47.1,589.4 44.5,593.0 44.0,596.2 44.0,596.5 43.1,600.1 42.2,603.7 43.2,607.3 44.0,609.5 44.3,610.9 45.4,614.5 46.2,618.0 47.6,619.8 49.5,621.6 47.7,625.2 51.2,627.3 54.8,628.3 56.1,628.8 56.5,632.4 58.4,634.3 62.0,633.7 65.5,634.3 69.1,635.6 72.7,635.3 76.3,635.8 79.9,636.0 83.5,634.8 87.0,634.9 89.5,632.4 M77.0,653.9 79.9,652.5 83.5,653.7 87.0,653.1 90.3,650.3 90.6,650.0 94.2,650.1 97.8,648.7 101.4,647.1 101.8,646.7 104.4,643.1 105.0,642.5 108.5,640.4 109.5,639.5 112.1,637.0 113.0,636.0 115.7,632.6 116.0,632.4 119.3,628.8 119.3,628.8 120.3,625.2 120.7,621.6 122.9,618.6 123.2,618.0 124.1,614.5 123.5,610.9 124.4,607.3 123.3,603.7 124.1,600.1 123.3,596.5 122.9,595.9 120.3,593.0 119.9,589.4 119.3,587.8 118.6,585.8 117.9,582.2 115.7,578.8 115.6,578.6 112.1,576.2 110.4,575.0 109.2,571.5 108.5,569.7 105.0,568.7 104.3,567.9 101.4,564.7 100.8,564.3 97.8,562.5 96.0,560.7 94.2,559.6 90.6,558.7 87.0,558.2 84.0,557.1 83.5,556.7 81.4,557.1 79.9,557.4 78.0,557.1 76.3,556.9 74.4,557.1 72.7,557.3 72.1,557.1 69.1,555.7 66.6,557.1 65.5,557.7 63.5,557.1 62.0,556.9 61.5,557.1 58.4,559.6 56.7,560.7 54.8,561.8 51.2,563.0 47.6,564.2 47.5,564.3 44.0,567.0 43.3,567.9 40.7,571.5 40.5,571.7 36.9,573.7 36.2,575.0 33.3,578.6 33.3,578.6 32.2,582.2 30.5,585.8 29.7,587.0 28.2,589.4 26.3,593.0 27.3,596.5 26.9,600.1 26.4,603.7 26.1,605.8 25.8,607.3 24.8,610.9 26.1,613.6 26.5,614.5 27.3,618.0 28.6,621.6 29.7,623.7 30.8,625.2 32.2,628.8 33.2,632.4 33.3,632.4 35.8,636.0 36.9,637.5 40.5,639.0 40.8,639.5 44.0,642.7 44.6,643.1 47.6,646.4 47.9,646.7 51.2,648.7 53.8,650.3 54.8,650.7 58.4,652.3 62.0,652.3 64.3,653.9 65.5,654.7 69.1,654.2 72.7,654.9 76.3,654.3 77.0,653.9 M53.5,542.8 51.2,543.9 48.0,546.4 47.6,546.6 44.0,548.1 41.8,550.0 40.5,551.0 36.9,550.9 33.3,552.1 31.7,553.5 29.7,555.9 28.1,557.1 26.1,559.3 25.1,560.7 22.5,563.5 21.8,564.3 21.4,567.9 19.0,570.0 17.8,571.5 15.4,574.8 14.3,575.0 14.2,578.6 13.5,582.2 11.8,585.8 M137.2,582.6 137.0,582.2 135.2,578.6 133.6,575.7 133.1,575.0 131.3,571.5 130.0,570.3 128.5,567.9 126.7,564.3 126.5,563.9 124.3,560.7 122.9,559.5 119.3,557.6 118.5,557.1 115.7,554.9 112.1,553.9 111.6,553.5 108.9,550.0 108.5,549.5 105.0,547.0 101.4,546.4 101.3,546.4 97.8,544.3 95.0,542.8 M137.2,622.9 136.9,621.6 137.2,620.8 M11.8,626.8 13.1,628.8 12.3,632.4 15.4,635.3 16.4,636.0 18.2,639.5 19.0,640.5 20.1,643.1 22.5,646.7 22.6,646.7 26.1,650.1 26.3,650.3 26.9,653.9 29.7,656.1 33.3,656.5 34.6,657.5 36.4,661.0 36.9,661.7 40.5,663.0 44.0,663.7 44.7,664.6 47.6,666.9 51.2,666.3 54.8,667.3 56.5,668.2 M94.7,668.2 97.8,666.3 100.6,664.6 101.4,664.1 105.0,663.1 108.5,661.8 110.0,661.0 112.1,657.8 112.3,657.5 115.7,656.3 119.2,653.9 119.3,653.8 122.9,650.4 123.2,650.3 126.5,648.6 127.4,646.7 129.2,643.1 129.6,639.5 130.0,638.9 133.2,636.0 133.6,635.1 134.6,632.4 136.6,628.8 137.2,627.1" fill="none" stroke="#0a0a14" stroke-width="1.5" stroke-linejoin="round"/>
<path d="M227.6,622.0 228.9,621.5 230.9,619.3 231.6,618.8 234.3,618.1 235.3,616.6 235.0,613.9 235.2,611.2 234.3,608.5 234.3,608.5 231.8,605.8 232.4,603.2 231.6,600.5 231.6,600.5 229.0,597.8 231.6,595.7 232.4,595.1 231.6,594.6 230.3,595.1 228.9,597.3 228.7,597.8 226.2,598.4 225.6,597.8 224.8,595.1 224.1,592.4 223.5,592.2 220.8,592.0 218.2,592.0 217.5,592.4 215.5,593.4 213.7,592.4 214.3,589.7 212.8,588.9 211.3,589.7 210.1,591.3 208.4,589.7 207.4,587.6 204.7,589.0 202.0,589.7 202.0,589.7 202.0,589.8 204.7,590.5 206.0,592.4 207.4,593.9 208.6,595.1 210.1,597.0 212.8,597.5 213.0,597.8 212.8,598.2 210.1,599.3 208.9,600.5 207.4,602.2 205.8,603.2 207.4,603.7 209.3,605.8 210.1,606.8 212.8,608.5 212.8,608.5 214.6,611.2 214.6,613.9 215.5,616.3 215.7,616.6 218.1,619.3 218.2,619.4 220.8,619.6 221.1,619.3 223.5,618.6 224.4,619.3 225.5,622.0 226.2,622.5 227.6,622.0 M237.1,600.5 237.0,600.4 236.8,600.5 237.0,600.6 237.1,600.5 M212.8,603.9 210.1,604.1 208.8,603.2 210.1,602.1 212.8,602.8 213.0,603.2 212.8,603.9 M228.9,606.5 228.5,605.8 228.9,605.5 230.7,605.8 228.9,606.5 M234.6,573.6 234.3,573.4 233.1,573.6 234.3,574.1 234.6,573.6 M218.8,640.8 220.8,638.8 222.2,638.1 223.5,637.1 226.1,638.1 226.2,638.1 226.2,638.1 228.1,635.4 228.7,632.7 228.9,632.1 229.3,632.7 229.4,635.4 231.6,636.1 234.3,636.2 235.4,635.4 237.0,633.6 238.2,632.7 239.7,631.0 240.1,630.0 240.9,627.3 241.9,624.7 242.3,624.3 243.8,622.0 243.2,619.3 245.0,617.3 247.7,617.1 248.6,616.6 250.4,614.4 250.7,613.9 250.4,613.1 250.0,611.2 250.4,610.0 251.3,608.5 251.9,605.8 253.0,603.2 253.1,603.0 253.6,600.5 253.1,599.6 250.9,597.8 250.4,597.1 247.7,595.7 247.5,595.1 247.7,594.7 249.5,592.4 248.9,589.7 247.7,588.3 246.7,587.0 245.0,585.5 242.3,584.5 242.2,584.3 239.7,582.7 237.9,581.7 237.0,580.5 234.6,579.0 234.3,578.6 231.6,576.7 230.5,576.3 228.9,575.6 228.1,576.3 227.3,579.0 226.8,581.7 226.2,582.6 224.2,581.7 223.5,580.4 223.2,579.0 220.8,577.0 219.3,579.0 220.1,581.7 218.2,582.0 217.4,581.7 215.5,579.0 215.5,578.9 215.4,579.0 212.8,579.5 210.1,579.4 209.1,579.0 207.4,578.3 204.7,578.2 203.3,579.0 202.0,580.2 199.3,580.3 198.2,581.7 196.7,583.0 195.2,584.3 196.5,587.0 194.0,589.5 193.6,589.7 194.0,590.2 194.6,592.4 194.0,594.7 191.5,595.1 194.0,595.3 196.4,597.8 194.0,600.2 193.7,600.5 191.3,602.7 190.8,603.2 191.3,604.8 192.0,603.2 194.0,600.9 195.9,603.2 195.3,605.8 196.7,607.3 197.7,608.5 197.7,611.2 196.7,612.4 195.9,611.2 194.0,610.3 193.3,611.2 192.8,613.9 193.4,616.6 194.0,618.7 196.7,617.2 199.2,619.3 199.3,620.1 200.9,622.0 202.0,623.9 204.7,622.0 207.2,624.7 204.7,626.2 203.7,627.3 204.7,628.4 206.0,627.3 207.4,624.9 210.1,627.2 210.3,627.3 210.1,628.1 209.5,630.0 210.1,632.4 212.8,632.3 213.3,632.7 214.9,635.4 215.5,636.4 217.9,638.1 217.7,640.8 218.2,641.2 218.8,640.8 M234.3,582.3 232.6,581.7 234.3,579.4 235.6,581.7 234.3,582.3 M202.0,606.8 201.4,605.8 202.0,605.3 202.4,605.8 202.0,606.8 M202.0,612.2 201.0,611.2 202.0,610.6 202.4,611.2 202.0,612.2 M199.3,615.7 197.8,613.9 199.3,612.6 200.6,613.9 199.3,615.7 M247.7,615.9 246.6,613.9 247.7,613.0 250.0,613.9 247.7,615.9 M204.7,621.9 202.0,621.1 199.9,619.3 201.0,616.6 202.0,616.0 202.3,616.6 204.7,618.2 206.0,619.3 204.7,621.9 M215.5,630.6 215.0,630.0 215.5,629.6 215.9,630.0 215.5,630.6 M223.5,632.9 223.3,632.7 223.5,632.6 223.6,632.7 223.5,632.9 M234.3,634.1 232.9,632.7 234.3,631.5 235.9,632.7 234.3,634.1 M220.8,636.0 218.2,636.4 217.9,635.4 218.2,635.3 220.8,634.7 221.2,635.4 220.8,636.0 M226.9,662.3 226.2,661.4 224.2,659.6 225.3,656.9 226.2,654.5 228.6,656.9 228.9,657.1 231.6,657.5 232.5,656.9 234.3,654.4 237.0,655.6 239.2,654.2 239.7,653.8 242.3,653.8 244.8,651.5 245.0,650.9 246.3,648.8 247.7,647.1 248.2,646.2 247.7,645.2 247.2,643.5 247.7,643.1 250.4,642.8 253.1,641.0 254.5,640.8 255.0,638.1 255.8,637.1 258.5,635.9 261.2,636.3 262.0,635.4 261.3,632.7 261.2,632.6 258.5,631.6 257.8,630.0 257.7,627.3 258.2,624.7 257.8,622.0 257.6,619.3 258.5,618.5 261.0,619.3 259.0,622.0 259.3,624.7 261.2,627.3 261.2,627.3 263.8,629.1 264.7,627.3 263.8,626.5 262.1,624.7 262.6,622.0 261.3,619.3 262.3,616.6 263.8,615.8 265.5,613.9 266.5,612.4 268.2,611.2 269.2,609.9 270.0,608.5 270.4,605.8 270.5,603.2 269.8,600.5 269.2,599.3 266.5,598.5 265.3,597.8 265.9,595.1 266.3,592.4 263.8,589.9 263.8,589.7 263.1,587.0 262.8,584.3 261.2,582.5 259.9,581.7 258.5,579.1 258.4,579.0 257.6,576.3 255.9,573.6 256.4,570.9 255.8,570.5 253.1,568.6 252.7,568.2 253.1,567.3 254.1,565.5 253.1,564.4 250.4,563.7 250.3,562.8 248.5,560.2 249.9,557.5 247.7,556.7 245.0,557.2 242.5,554.8 242.3,553.9 241.1,554.8 239.7,555.1 238.5,554.8 237.0,554.0 235.6,554.8 234.7,557.5 234.3,557.7 234.0,557.5 231.6,555.1 228.9,556.3 226.2,557.0 223.5,556.5 220.8,556.4 219.7,557.5 218.2,558.7 215.5,558.5 212.8,557.5 212.8,557.5 212.8,557.5 212.0,560.2 210.1,561.0 207.4,561.2 206.1,560.2 204.7,559.4 202.0,559.4 201.2,560.2 199.3,562.1 199.1,562.8 199.1,565.5 196.8,568.2 196.7,568.4 196.3,568.2 194.0,567.4 192.9,568.2 192.2,570.9 191.3,571.7 190.4,570.9 188.6,569.7 187.7,570.9 188.6,572.6 189.5,573.6 188.6,574.2 185.9,575.4 183.2,574.4 182.1,576.3 181.1,579.0 180.5,579.8 177.8,581.6 177.8,581.7 177.8,581.7 179.5,584.3 177.8,586.7 177.6,587.0 176.3,589.7 176.3,592.4 176.0,595.1 175.2,596.1 173.4,595.1 172.5,594.3 172.0,595.1 172.3,597.8 169.8,599.4 168.9,600.5 169.8,602.3 170.7,603.2 169.8,604.6 167.7,605.8 167.2,608.5 167.1,608.9 166.5,611.2 167.1,613.9 169.0,611.2 169.8,610.9 170.1,611.2 170.5,613.9 172.5,615.2 173.7,616.6 175.2,618.8 175.7,619.3 177.8,620.7 179.3,622.0 180.5,624.3 180.7,624.7 181.1,627.3 181.7,630.0 183.0,632.7 183.2,633.1 185.9,634.1 186.8,635.4 186.2,638.1 185.9,639.3 184.1,640.8 185.2,643.5 185.9,644.9 186.5,646.2 186.8,648.8 188.6,650.3 191.3,650.2 194.0,649.9 196.7,651.3 196.8,651.5 198.0,654.2 199.3,654.3 199.5,654.2 202.0,651.5 202.0,651.5 202.1,651.5 204.7,653.1 207.1,654.2 205.9,656.9 207.4,657.8 208.1,656.9 210.1,654.5 212.7,656.9 212.7,659.6 212.8,659.6 214.5,662.3 215.5,663.5 216.7,662.3 215.5,661.2 212.8,659.6 215.5,657.7 216.2,656.9 218.2,655.1 219.9,656.9 220.8,657.8 222.7,659.6 223.5,660.6 224.9,662.3 226.2,663.0 226.9,662.3 M202.0,563.8 200.1,562.8 202.0,561.0 202.6,562.8 202.0,563.8 M212.8,563.3 211.9,562.8 212.8,560.9 213.6,562.8 212.8,563.3 M172.5,601.3 171.7,600.5 172.5,598.3 174.2,600.5 172.5,601.3 M172.5,606.6 170.7,605.8 172.5,604.6 173.7,605.8 172.5,606.6 M180.6,643.5 180.5,643.4 180.5,643.5 180.5,643.5 180.6,643.5 M210.1,652.8 207.4,654.0 206.0,651.5 207.4,650.0 210.1,651.4 210.3,651.5 210.1,652.8 M215.5,656.2 214.6,654.2 215.3,651.5 215.5,651.3 218.2,651.4 219.2,651.5 218.2,651.9 217.3,654.2 215.5,656.2 M231.6,652.5 230.9,651.5 231.6,650.8 232.5,651.5 231.6,652.5 M223.5,654.2 223.5,654.2 223.5,654.2 223.6,654.2 223.5,654.2 M228.9,656.6 226.6,654.2 228.9,653.4 230.1,654.2 228.9,656.6 M190.6,541.3 189.3,544.0 189.0,546.7 188.6,547.1 185.9,547.2 183.5,549.4 183.2,550.3 180.5,549.7 180.4,549.4 177.8,548.3 175.8,549.4 175.2,550.3 172.5,552.0 172.4,552.1 172.5,552.5 173.0,554.8 172.6,557.5 172.5,557.7 172.2,557.5 169.8,556.5 168.2,557.5 168.7,560.2 167.1,562.1 164.4,561.8 162.4,562.8 161.7,563.8 159.0,564.1 158.3,565.5 156.3,567.4 M206.5,541.3 204.7,542.2 203.2,541.3 M227.5,541.3 226.2,542.1 223.5,543.4 222.9,544.0 220.8,545.4 218.2,545.2 215.8,544.0 215.5,543.8 212.8,542.8 210.1,544.0 210.1,544.1 210.1,544.0 207.9,541.3 M282.7,570.4 280.0,570.6 278.8,568.2 279.0,565.5 277.3,563.1 277.1,562.8 274.6,560.9 272.8,560.2 271.9,559.0 269.2,557.6 266.5,558.8 265.2,557.5 266.5,555.9 269.2,557.0 269.7,554.8 269.2,553.9 267.7,552.1 266.5,551.1 263.8,551.2 262.9,552.1 261.2,552.8 259.1,552.1 258.5,550.4 258.2,549.4 258.5,547.0 258.5,546.7 258.5,546.7 258.4,546.7 255.8,547.6 254.6,546.7 253.1,544.4 250.4,545.0 247.7,544.2 247.6,544.0 247.7,543.6 248.9,541.3 M212.8,546.9 212.2,546.7 212.8,546.4 213.0,546.7 212.8,546.9 M223.5,546.9 223.1,546.7 223.5,545.8 223.7,546.7 223.5,546.9 M159.0,568.3 158.9,568.2 159.0,568.0 159.1,568.2 159.0,568.3 M156.3,570.2 156.9,570.9 156.3,571.7 M161.7,571.5 160.7,570.9 161.7,569.9 162.3,570.9 161.7,571.5 M282.7,575.0 282.1,573.6 282.7,571.2 M280.0,594.7 279.1,592.4 280.0,591.8 282.3,592.4 280.0,594.7 M282.7,599.3 281.5,597.8 280.1,595.1 282.7,592.5 M156.3,618.4 157.3,619.3 157.0,622.0 159.0,624.4 159.2,624.7 159.0,625.9 158.7,627.3 156.3,628.9 M280.0,629.8 279.3,627.3 280.0,626.7 281.7,627.3 280.0,629.8 M161.7,630.1 159.0,632.3 157.4,630.0 159.0,627.6 161.7,630.0 161.7,630.0 161.7,630.1 M245.6,667.7 246.8,665.0 247.7,663.8 250.4,663.1 251.7,662.3 253.1,661.3 255.8,659.9 256.3,659.6 258.5,658.3 261.2,656.9 261.2,656.9 263.8,655.0 265.0,654.2 263.8,652.7 262.6,651.5 263.8,650.6 266.5,650.1 267.9,648.8 268.8,646.2 269.2,643.9 270.6,643.5 271.9,643.4 274.6,641.4 277.3,641.3 277.8,640.8 277.3,639.8 276.4,638.1 277.3,636.2 280.0,636.5 280.9,635.4 281.1,632.7 280.2,630.0 282.7,628.4 M156.3,631.6 158.3,632.7 159.0,632.9 161.5,635.4 161.7,636.0 164.4,635.8 165.7,638.1 165.7,640.8 166.5,643.5 166.1,646.2 167.1,648.1 167.6,648.8 167.1,649.9 165.7,651.5 165.9,654.2 167.1,656.9 167.1,656.9 168.6,659.6 169.8,661.3 172.1,659.6 172.5,658.8 173.1,659.6 175.2,661.0 177.3,662.3 177.8,662.4 178.7,662.3 180.5,661.4 181.1,662.3 183.2,663.2 185.4,662.3 185.9,659.8 188.6,661.7 189.1,662.3 191.3,664.6 191.7,665.0 193.1,667.7 M169.8,638.9 168.6,638.1 169.8,637.7 170.2,638.1 169.8,638.9 M169.8,643.9 168.6,643.5 169.8,642.8 169.9,643.5 169.8,643.9 M177.8,661.8 176.5,659.6 177.8,658.9 179.2,659.6 177.8,661.8 M183.2,660.3 182.2,659.6 183.2,659.1 185.8,659.6 183.2,660.3" fill="none" stroke="#0a0a14" stroke-width="1.3" stroke-linejoin="round"/>
<path d="M12,541 L137,541 L137,543 L139,543 L139,668.3 L137,668.3 L137,670.3 L12,670.3 L12,668.3 L10,668.3 L10,543 L12,543 Z" fill="none" stroke="#111" stroke-width="1"/>
<path d="M157,540 L282,540 L282,542 L284,542 L284,668 L282,668 L282,670 L157,670 L157,668 L155,668 L155,542 L157,542 Z" fill="none" stroke="#111" stroke-width="1"/>
<rect x="293.3" y="569.8" width="18.6" height="73.7" fill="url(#cbar)"/>
<text x="301.80" y="563.50" font-size="9.5" text-anchor="middle" fill="#000">15</text>
<text x="302.80" y="653.50" font-size="9.5" text-anchor="middle" fill="#000">0</text>
<text x="317.00" y="564.70" font-size="9.5" text-anchor="start" fill="#000" textLength="85.3" lengthAdjust="spacingAndGlyphs" transform="rotate(90 317.00 564.70)">Activation Time (ms)</text>
<text x="343.60" y="530.00" font-size="12" text-anchor="start" fill="#000" font-weight="bold">i</text>
<line x1="376.60" y1="541.80" x2="376.60" y2="656.50" stroke="#000" stroke-width="1.5"/>
<line x1="376.00" y1="655.90" x2="549.40" y2="655.90" stroke="#000" stroke-width="1.5"/>
<line x1="376.60" y1="655.90" x2="376.60" y2="658.90" stroke="#000" stroke-width="1.5"/>
<text x="376.60" y="666.90" font-size="9.6" text-anchor="middle" fill="#222" font-weight="bold">0</text>
<line x1="419.52" y1="655.90" x2="419.52" y2="658.90" stroke="#000" stroke-width="1.5"/>
<text x="419.52" y="666.90" font-size="9.6" text-anchor="middle" fill="#222" font-weight="bold">20</text>
<line x1="462.44" y1="655.90" x2="462.44" y2="658.90" stroke="#000" stroke-width="1.5"/>
<text x="462.44" y="666.90" font-size="9.6" text-anchor="middle" fill="#222" font-weight="bold">40</text>
<line x1="505.36" y1="655.90" x2="505.36" y2="658.90" stroke="#000" stroke-width="1.5"/>
<text x="505.36" y="666.90" font-size="9.6" text-anchor="middle" fill="#222" font-weight="bold">60</text>
<line x1="548.28" y1="655.90" x2="548.28" y2="658.90" stroke="#000" stroke-width="1.5"/>
<text x="548.28" y="666.90" font-size="9.6" text-anchor="middle" fill="#222" font-weight="bold">80</text>
<line x1="373.60" y1="655.90" x2="376.60" y2="655.90" stroke="#000" stroke-width="1.5"/>
<text x="373.10" y="658.40" font-size="9.6" text-anchor="end" fill="#222" font-weight="bold">0</text>
<line x1="373.60" y1="617.86" x2="376.60" y2="617.86" stroke="#000" stroke-width="1.5"/>
<text x="373.10" y="620.36" font-size="9.6" text-anchor="end" fill="#222" font-weight="bold">20</text>
<line x1="373.60" y1="579.82" x2="376.60" y2="579.82" stroke="#000" stroke-width="1.5"/>
<text x="373.10" y="582.32" font-size="9.6" text-anchor="end" fill="#222" font-weight="bold">40</text>
<line x1="373.60" y1="541.78" x2="376.60" y2="541.78" stroke="#000" stroke-width="1.5"/>
<text x="373.10" y="544.28" font-size="9.6" text-anchor="end" fill="#222" font-weight="bold">60</text>
<text x="358.00" y="598.80" font-size="9.5" text-anchor="middle" fill="#222" font-weight="bold" textLength="120.0" lengthAdjust="spacingAndGlyphs" transform="rotate(-90 358.00 598.80)">Conduction Velocity (cm/s)</text>
<text x="463.00" y="682.00" font-size="9" text-anchor="middle" fill="#222" font-weight="bold" textLength="42.0" lengthAdjust="spacingAndGlyphs">Noise (%)</text>
<line x1="376.60" y1="560.80" x2="548.28" y2="560.80" stroke="#000" stroke-width="1" stroke-dasharray="1,2"/>
<path d="M376.6,559.8 L398.1,560.8 L419.5,560.8 L441.0,559.8 L462.4,558.9 L483.9,558.5 L505.4,560.2 L526.8,563.1 L548.3,560.2" stroke="#ee2222" stroke-width="1.3" fill="none" stroke-linejoin="round"/>
<path d="M376.6,559.8 L398.1,559.8 L419.5,559.8 L441.0,558.9 L462.4,558.9 L483.9,565.6 L505.4,572.2 L526.8,578.5 L548.3,583.6" stroke="#33ee33" stroke-width="1.3" fill="none" stroke-linejoin="round"/>
<line x1="483.90" y1="567.46" x2="483.90" y2="563.65" stroke="#33ee33" stroke-width="1.3"/>
<line x1="481.40" y1="563.65" x2="486.40" y2="563.65" stroke="#33ee33" stroke-width="1.3"/>
<line x1="481.40" y1="567.46" x2="486.40" y2="567.46" stroke="#33ee33" stroke-width="1.3"/>
<line x1="505.36" y1="576.97" x2="505.36" y2="567.46" stroke="#33ee33" stroke-width="1.3"/>
<line x1="502.86" y1="567.46" x2="507.86" y2="567.46" stroke="#33ee33" stroke-width="1.3"/>
<line x1="502.86" y1="576.97" x2="507.86" y2="576.97" stroke="#33ee33" stroke-width="1.3"/>
<line x1="526.82" y1="584.57" x2="526.82" y2="572.40" stroke="#33ee33" stroke-width="1.3"/>
<line x1="524.32" y1="572.40" x2="529.32" y2="572.40" stroke="#33ee33" stroke-width="1.3"/>
<line x1="524.32" y1="584.57" x2="529.32" y2="584.57" stroke="#33ee33" stroke-width="1.3"/>
<line x1="548.28" y1="591.23" x2="548.28" y2="576.02" stroke="#33ee33" stroke-width="1.3"/>
<line x1="545.78" y1="576.02" x2="550.78" y2="576.02" stroke="#33ee33" stroke-width="1.3"/>
<line x1="545.78" y1="591.23" x2="550.78" y2="591.23" stroke="#33ee33" stroke-width="1.3"/>
<path d="M376.6,559.8 L398.1,559.8 L419.5,559.8 L441.0,568.4 L462.4,584.8" stroke="#2222dd" stroke-width="1.3" fill="none" stroke-linejoin="round"/>
<line x1="462.44" y1="594.28" x2="462.44" y2="575.26" stroke="#2222dd" stroke-width="1.3"/>
<line x1="459.94" y1="575.26" x2="464.94" y2="575.26" stroke="#2222dd" stroke-width="1.3"/>
<line x1="459.94" y1="594.28" x2="464.94" y2="594.28" stroke="#2222dd" stroke-width="1.3"/>
<path d="M376.6,559.8 L398.1,558.9 L419.5,558.9 L441.0,567.5 L462.4,593.3" stroke="#000" stroke-width="1.3" fill="none" stroke-linejoin="round"/>
<line x1="440.98" y1="571.26" x2="440.98" y2="563.65" stroke="#000" stroke-width="1.3"/>
<line x1="438.48" y1="563.65" x2="443.48" y2="563.65" stroke="#000" stroke-width="1.3"/>
<line x1="438.48" y1="571.26" x2="443.48" y2="571.26" stroke="#000" stroke-width="1.3"/>
<line x1="462.44" y1="601.88" x2="462.44" y2="584.77" stroke="#000" stroke-width="1.3"/>
<line x1="459.94" y1="584.77" x2="464.94" y2="584.77" stroke="#000" stroke-width="1.3"/>
<line x1="459.94" y1="601.88" x2="464.94" y2="601.88" stroke="#000" stroke-width="1.3"/>
<circle cx="376.60" cy="559.85" r="2.6" fill="#ee2222" stroke="none" stroke-width="1"/>
<circle cx="398.06" cy="560.80" r="2.6" fill="#ee2222" stroke="none" stroke-width="1"/>
<circle cx="419.52" cy="560.80" r="2.6" fill="#ee2222" stroke="none" stroke-width="1"/>
<circle cx="440.98" cy="559.85" r="2.6" fill="#ee2222" stroke="none" stroke-width="1"/>
<circle cx="462.44" cy="558.90" r="2.6" fill="#ee2222" stroke="none" stroke-width="1"/>
<circle cx="483.90" cy="558.52" r="2.6" fill="#ee2222" stroke="none" stroke-width="1"/>
<circle cx="505.36" cy="560.23" r="2.6" fill="#ee2222" stroke="none" stroke-width="1"/>
<circle cx="526.82" cy="563.08" r="2.6" fill="#ee2222" stroke="none" stroke-width="1"/>
<circle cx="548.28" cy="560.23" r="2.6" fill="#ee2222" stroke="none" stroke-width="1"/>
<circle cx="376.60" cy="559.85" r="2.6" fill="#33ee33" stroke="none" stroke-width="1"/>
<circle cx="398.06" cy="559.85" r="2.6" fill="#33ee33" stroke="none" stroke-width="1"/>
<circle cx="419.52" cy="559.85" r="2.6" fill="#33ee33" stroke="none" stroke-width="1"/>
<circle cx="440.98" cy="558.90" r="2.6" fill="#33ee33" stroke="none" stroke-width="1"/>
<circle cx="462.44" cy="558.90" r="2.6" fill="#33ee33" stroke="none" stroke-width="1"/>
<circle cx="483.90" cy="565.55" r="2.6" fill="#33ee33" stroke="none" stroke-width="1"/>
<circle cx="505.36" cy="572.21" r="2.6" fill="#33ee33" stroke="none" stroke-width="1"/>
<circle cx="526.82" cy="578.49" r="2.6" fill="#33ee33" stroke="none" stroke-width="1"/>
<circle cx="548.28" cy="583.62" r="2.6" fill="#33ee33" stroke="none" stroke-width="1"/>
<circle cx="376.60" cy="559.85" r="2.6" fill="#2222dd" stroke="none" stroke-width="1"/>
<circle cx="398.06" cy="559.85" r="2.6" fill="#2222dd" stroke="none" stroke-width="1"/>
<circle cx="419.52" cy="559.85" r="2.6" fill="#2222dd" stroke="none" stroke-width="1"/>
<circle cx="440.98" cy="568.41" r="2.6" fill="#2222dd" stroke="none" stroke-width="1"/>
<circle cx="462.44" cy="584.77" r="2.6" fill="#2222dd" stroke="none" stroke-width="1"/>
<circle cx="376.60" cy="559.85" r="2.6" fill="#000" stroke="none" stroke-width="1"/>
<circle cx="398.06" cy="558.90" r="2.6" fill="#000" stroke="none" stroke-width="1"/>
<circle cx="419.52" cy="558.90" r="2.6" fill="#000" stroke="none" stroke-width="1"/>
<circle cx="440.98" cy="567.46" r="2.6" fill="#000" stroke="none" stroke-width="1"/>
<circle cx="462.44" cy="593.32" r="2.6" fill="#000" stroke="none" stroke-width="1"/>
<circle cx="472.90" cy="602.60" r="2.5" fill="#000" stroke="none" stroke-width="1"/>
<text x="486.00" y="606.10" font-size="9.8" text-anchor="start" fill="#111" textLength="42.0" lengthAdjust="spacingAndGlyphs">Unfiltered</text>
<circle cx="472.90" cy="617.60" r="2.5" fill="#2222dd" stroke="none" stroke-width="1"/>
<text x="486.00" y="621.10" font-size="9.8" text-anchor="start" fill="#111" textLength="110.8" lengthAdjust="spacingAndGlyphs">Temporal (Savitzky-Golay)</text>
<circle cx="472.90" cy="632.70" r="2.5" fill="#33ee33" stroke="none" stroke-width="1"/>
<text x="486.00" y="636.20" font-size="9.8" text-anchor="start" fill="#111" textLength="96.0" lengthAdjust="spacingAndGlyphs">Spatial (3x3 Gaussian)</text>
<circle cx="472.90" cy="648.20" r="2.5" fill="#ee2222" stroke="none" stroke-width="1"/>
<text x="486.00" y="651.70" font-size="9.8" text-anchor="start" fill="#111" textLength="113.0" lengthAdjust="spacingAndGlyphs">10 beat Ensemble Average</text>
</svg></body></html>
